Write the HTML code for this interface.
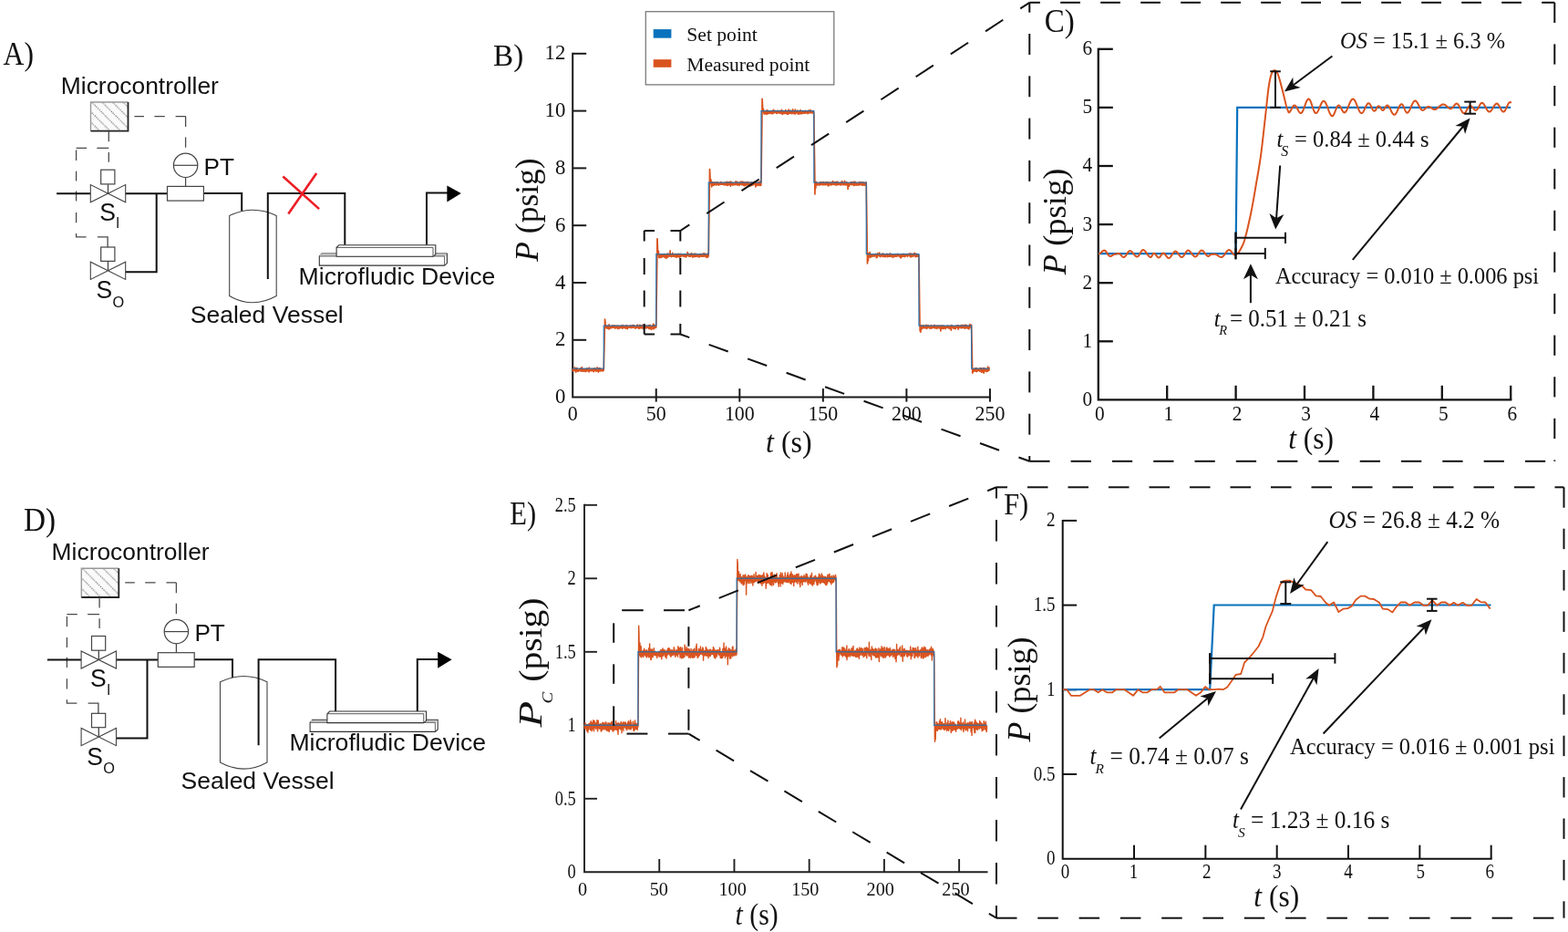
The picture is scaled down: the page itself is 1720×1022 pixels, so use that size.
<!DOCTYPE html>
<html><head><meta charset="utf-8"><title>Figure</title>
<style>html,body{margin:0;padding:0;background:#fff;}svg{display:block;}</style>
</head><body>
<svg width="1720" height="1022" viewBox="0 0 1720 1022"><defs><pattern id="hatch" patternUnits="userSpaceOnUse" width="11.45" height="11.45"><rect width="11.45" height="11.45" fill="#fafafa"/><path d="M-1,-1 L12.45,12.45 M-6.7,4.75 L6.7,18.2 M4.75,-6.7 L18.2,6.7" stroke="#555" stroke-width="1.1" stroke-dasharray="1.2,1.2"/></pattern></defs>
<rect width="1720" height="1022" fill="#fff"/>
<g transform="translate(0,0)">
<text x="66.8" y="102.5" font-family="'Liberation Sans', Arial, sans-serif" font-size="26.4" text-anchor="start" fill="#111" >Microcontroller</text>
<rect x="99.5" y="112" width="41" height="31.7" fill="url(#hatch)" stroke="none"/>
<path d="M99.5,143.7 L99.5,112 L140.5,112" fill="none" stroke="#999" stroke-width="1.4"/>
<path d="M140.5,112 L140.5,143.7 L99.5,143.7" fill="none" stroke="#222" stroke-width="1.8"/>
<path d="M147.4,127.6 H158 M169.4,127.6 H180.8 M192.6,127.6 H203.6 M203.6,127.6 V139 M203.6,150.4 V161.8 M119.3,143.7 V155.3 M119.3,167 V177.7 M83.6,162.4 H95 M106.3,162.4 H119.3 M83.6,164.6 V176 M83.6,187.8 V198.6 M83.6,209.4 V220.6 M83.6,232.9 V244.2 M83.6,255.9 V259.8 H94.6 M106.8,259.8 H118.1 V271.3" fill="none" stroke="#4a4a4a" stroke-width="1.3"/>
<line x1="62.1" y1="212.2" x2="99.3" y2="212.2" stroke="#111" stroke-width="2" />
<line x1="137.7" y1="212.2" x2="183.5" y2="212.2" stroke="#111" stroke-width="2" />
<polyline points="223.4,212 265.2,212 265.2,231.8" fill="none" stroke="#111" stroke-width="2" />
<polyline points="137.7,298.3 171.7,298.3 171.7,212.2" fill="none" stroke="#111" stroke-width="2" />
<polygon points="99.3,202.6 99.3,221.8 137.7,202.6 137.7,221.8" fill="none" stroke="#444" stroke-width="1.1" stroke-linejoin="miter"/>
<line x1="118.5" y1="212.2" x2="118.5" y2="202.2" stroke="#444" stroke-width="1.3" />
<polygon points="99.3,287.2 99.3,306.4 137.7,287.2 137.7,306.4" fill="none" stroke="#444" stroke-width="1.1" stroke-linejoin="miter"/>
<line x1="118.5" y1="296.8" x2="118.5" y2="286.8" stroke="#444" stroke-width="1.3" />
<rect x="110.7" y="186.2" width="15.2" height="15.7" fill="none" stroke="#444" stroke-width="1.2"/>
<rect x="110.7" y="271" width="15.2" height="15.4" fill="none" stroke="#444" stroke-width="1.2"/>
<circle cx="203.6" cy="181.3" r="13.2" fill="none" stroke="#444" stroke-width="1.2"/>
<line x1="190.4" y1="181.3" x2="216.8" y2="181.3" stroke="#444" stroke-width="1.2" />
<line x1="203.6" y1="194.5" x2="203.6" y2="204.4" stroke="#444" stroke-width="1.2" />
<rect x="183.5" y="204.4" width="39.9" height="15.7" fill="none" stroke="#444" stroke-width="1.2"/>
<text x="223.6" y="191.8" font-family="'Liberation Sans', Arial, sans-serif" font-size="26.2" text-anchor="start" fill="#111" >PT</text>
<text transform="translate(109.3,241.6) scale(1,1.06)" font-family="'Liberation Sans', Arial, sans-serif" font-size="26.5" text-anchor="start" fill="#111" >S</text>
<text transform="translate(127.1,250.4) scale(1,1.1)" font-family="'Liberation Sans', Arial, sans-serif" font-size="15.5" text-anchor="start" fill="#111" >I</text>
<text transform="translate(105.4,327.2) scale(1,1.06)" font-family="'Liberation Sans', Arial, sans-serif" font-size="26.5" text-anchor="start" fill="#111" >S</text>
<text x="123.4" y="337" font-family="'Liberation Sans', Arial, sans-serif" font-size="16.3" text-anchor="start" fill="#111" >O</text>
<path d="M251.7,236.5 Q277.5,224 303.2,236.5 L303.2,324.6 Q277.5,339 251.7,324.6 Z" fill="none" stroke="#444" stroke-width="1.1"/>
<polyline points="293.8,306 293.8,212 378.3,212 378.3,268.8" fill="none" stroke="#111" stroke-width="2" />
<polyline points="468,268.8 468,211.6 491,211.6" fill="none" stroke="#111" stroke-width="2" />
<polygon points="490.4,203.5 505.8,212 490.4,221.4" fill="#000"/>
<path d="M350.3,281 L353,278 L490.4,278 L490.4,288.6 L487.6,291.1 L350.3,291.1 Z" fill="#fff" stroke="#333" stroke-width="1.1"/>
<path d="M351,278.6 L489.8,278.6 L489.8,281 L351,281 Z" fill="#c8c8c8"/>
<path d="M350.3,281 L487.6,281 L487.6,291.1" fill="none" stroke="#555" stroke-width="0.9"/>
<path d="M369.1,271.5 L371.8,268.7 L477.8,268.7 L477.8,279 L475,281.3 L369.1,281.3 Z" fill="#fff" stroke="#333" stroke-width="1.1"/>
<path d="M369.1,271.4 L475,271.4 L475,281.3" fill="none" stroke="#444" stroke-width="0.9"/>
<text x="327.6" y="311.9" font-family="'Liberation Sans', Arial, sans-serif" font-size="26.6" text-anchor="start" fill="#111" >Microfludic Device</text>
<text x="208.8" y="354.2" font-family="'Liberation Sans', Arial, sans-serif" font-size="26.5" text-anchor="start" fill="#111" >Sealed Vessel</text>
<line x1="310.4" y1="193.5" x2="350.1" y2="229.1" stroke="#ec1c24" stroke-width="2.6" />
<line x1="347.2" y1="190" x2="316.3" y2="234.6" stroke="#ec1c24" stroke-width="2.6" />
</g>
<text transform="translate(3.6,71.4) scale(1,1.13)" font-family="'Liberation Serif', 'Times New Roman', serif" font-size="31.6" text-anchor="start" fill="#111" >A)</text>
<g transform="translate(-10.2,511.3)">
<text x="66.8" y="102.5" font-family="'Liberation Sans', Arial, sans-serif" font-size="26.4" text-anchor="start" fill="#111" >Microcontroller</text>
<rect x="99.5" y="112" width="41" height="31.7" fill="url(#hatch)" stroke="none"/>
<path d="M99.5,143.7 L99.5,112 L140.5,112" fill="none" stroke="#999" stroke-width="1.4"/>
<path d="M140.5,112 L140.5,143.7 L99.5,143.7" fill="none" stroke="#222" stroke-width="1.8"/>
<path d="M147.4,127.6 H158 M169.4,127.6 H180.8 M192.6,127.6 H203.6 M203.6,127.6 V139 M203.6,150.4 V161.8 M119.3,143.7 V155.3 M119.3,167 V177.7 M83.6,162.4 H95 M106.3,162.4 H119.3 M83.6,164.6 V176 M83.6,187.8 V198.6 M83.6,209.4 V220.6 M83.6,232.9 V244.2 M83.6,255.9 V259.8 H94.6 M106.8,259.8 H118.1 V271.3" fill="none" stroke="#4a4a4a" stroke-width="1.3"/>
<line x1="62.1" y1="212.2" x2="99.3" y2="212.2" stroke="#111" stroke-width="2" />
<line x1="137.7" y1="212.2" x2="183.5" y2="212.2" stroke="#111" stroke-width="2" />
<polyline points="223.4,212 265.2,212 265.2,231.8" fill="none" stroke="#111" stroke-width="2" />
<polyline points="137.7,298.3 171.7,298.3 171.7,212.2" fill="none" stroke="#111" stroke-width="2" />
<polygon points="99.3,202.6 99.3,221.8 137.7,202.6 137.7,221.8" fill="none" stroke="#444" stroke-width="1.1" stroke-linejoin="miter"/>
<line x1="118.5" y1="212.2" x2="118.5" y2="202.2" stroke="#444" stroke-width="1.3" />
<polygon points="99.3,287.2 99.3,306.4 137.7,287.2 137.7,306.4" fill="none" stroke="#444" stroke-width="1.1" stroke-linejoin="miter"/>
<line x1="118.5" y1="296.8" x2="118.5" y2="286.8" stroke="#444" stroke-width="1.3" />
<rect x="110.7" y="186.2" width="15.2" height="15.7" fill="none" stroke="#444" stroke-width="1.2"/>
<rect x="110.7" y="271" width="15.2" height="15.4" fill="none" stroke="#444" stroke-width="1.2"/>
<circle cx="203.6" cy="181.3" r="13.2" fill="none" stroke="#444" stroke-width="1.2"/>
<line x1="190.4" y1="181.3" x2="216.8" y2="181.3" stroke="#444" stroke-width="1.2" />
<line x1="203.6" y1="194.5" x2="203.6" y2="204.4" stroke="#444" stroke-width="1.2" />
<rect x="183.5" y="204.4" width="39.9" height="15.7" fill="none" stroke="#444" stroke-width="1.2"/>
<text x="223.6" y="191.8" font-family="'Liberation Sans', Arial, sans-serif" font-size="26.2" text-anchor="start" fill="#111" >PT</text>
<text transform="translate(109.3,241.6) scale(1,1.06)" font-family="'Liberation Sans', Arial, sans-serif" font-size="26.5" text-anchor="start" fill="#111" >S</text>
<text transform="translate(127.1,250.4) scale(1,1.1)" font-family="'Liberation Sans', Arial, sans-serif" font-size="15.5" text-anchor="start" fill="#111" >I</text>
<text transform="translate(105.4,327.2) scale(1,1.06)" font-family="'Liberation Sans', Arial, sans-serif" font-size="26.5" text-anchor="start" fill="#111" >S</text>
<text x="123.4" y="337" font-family="'Liberation Sans', Arial, sans-serif" font-size="16.3" text-anchor="start" fill="#111" >O</text>
<path d="M251.7,236.5 Q277.5,224 303.2,236.5 L303.2,324.6 Q277.5,339 251.7,324.6 Z" fill="none" stroke="#444" stroke-width="1.1"/>
<polyline points="293.8,306 293.8,212 378.3,212 378.3,268.8" fill="none" stroke="#111" stroke-width="2" />
<polyline points="468,268.8 468,211.6 491,211.6" fill="none" stroke="#111" stroke-width="2" />
<polygon points="490.4,203.5 505.8,212 490.4,221.4" fill="#000"/>
<path d="M350.3,281 L353,278 L490.4,278 L490.4,288.6 L487.6,291.1 L350.3,291.1 Z" fill="#fff" stroke="#333" stroke-width="1.1"/>
<path d="M351,278.6 L489.8,278.6 L489.8,281 L351,281 Z" fill="#c8c8c8"/>
<path d="M350.3,281 L487.6,281 L487.6,291.1" fill="none" stroke="#555" stroke-width="0.9"/>
<path d="M369.1,271.5 L371.8,268.7 L477.8,268.7 L477.8,279 L475,281.3 L369.1,281.3 Z" fill="#fff" stroke="#333" stroke-width="1.1"/>
<path d="M369.1,271.4 L475,271.4 L475,281.3" fill="none" stroke="#444" stroke-width="0.9"/>
<text x="327.6" y="311.9" font-family="'Liberation Sans', Arial, sans-serif" font-size="26.6" text-anchor="start" fill="#111" >Microfludic Device</text>
<text x="208.8" y="354.2" font-family="'Liberation Sans', Arial, sans-serif" font-size="26.5" text-anchor="start" fill="#111" >Sealed Vessel</text>
</g>
<text transform="translate(25.9,581.5) scale(1,1.08)" font-family="'Liberation Serif', 'Times New Roman', serif" font-size="33.3" text-anchor="start" fill="#111" >D)</text>
<path d="M628.2,58.8 L628.2,435.6 L1085.95,435.6" fill="none" stroke="#1a1a1a" stroke-width="2" stroke-linejoin="miter" stroke-linecap="square"/>
<text transform="translate(620.3,442.2) scale(1,1.04)" font-family="'Liberation Serif', 'Times New Roman', serif" font-size="22.8" text-anchor="end" fill="#111" >0</text>
<line x1="628.2" y1="372.8" x2="643.2" y2="372.8" stroke="#1a1a1a" stroke-width="2" />
<text transform="translate(620.3,379.4) scale(1,1.04)" font-family="'Liberation Serif', 'Times New Roman', serif" font-size="22.8" text-anchor="end" fill="#111" >2</text>
<line x1="628.2" y1="310" x2="643.2" y2="310" stroke="#1a1a1a" stroke-width="2" />
<text transform="translate(620.3,316.6) scale(1,1.04)" font-family="'Liberation Serif', 'Times New Roman', serif" font-size="22.8" text-anchor="end" fill="#111" >4</text>
<line x1="628.2" y1="247.2" x2="643.2" y2="247.2" stroke="#1a1a1a" stroke-width="2" />
<text transform="translate(620.3,253.8) scale(1,1.04)" font-family="'Liberation Serif', 'Times New Roman', serif" font-size="22.8" text-anchor="end" fill="#111" >6</text>
<line x1="628.2" y1="184.4" x2="643.2" y2="184.4" stroke="#1a1a1a" stroke-width="2" />
<text transform="translate(620.3,191) scale(1,1.04)" font-family="'Liberation Serif', 'Times New Roman', serif" font-size="22.8" text-anchor="end" fill="#111" >8</text>
<line x1="628.2" y1="121.6" x2="643.2" y2="121.6" stroke="#1a1a1a" stroke-width="2" />
<text transform="translate(620.3,128.2) scale(1,1.04)" font-family="'Liberation Serif', 'Times New Roman', serif" font-size="22.8" text-anchor="end" fill="#111" >10</text>
<line x1="628.2" y1="58.8" x2="643.2" y2="58.8" stroke="#1a1a1a" stroke-width="2" />
<text transform="translate(620.3,65.4) scale(1,1.04)" font-family="'Liberation Serif', 'Times New Roman', serif" font-size="22.8" text-anchor="end" fill="#111" >12</text>
<text transform="translate(628.2,461.2) scale(1,1.04)" font-family="'Liberation Serif', 'Times New Roman', serif" font-size="21.9" text-anchor="middle" fill="#111" >0</text>
<line x1="719.75" y1="440.6" x2="719.75" y2="426.1" stroke="#1a1a1a" stroke-width="2" />
<text transform="translate(719.75,461.2) scale(1,1.04)" font-family="'Liberation Serif', 'Times New Roman', serif" font-size="21.9" text-anchor="middle" fill="#111" >50</text>
<line x1="811.3" y1="440.6" x2="811.3" y2="426.1" stroke="#1a1a1a" stroke-width="2" />
<text transform="translate(811.3,461.2) scale(1,1.04)" font-family="'Liberation Serif', 'Times New Roman', serif" font-size="21.9" text-anchor="middle" fill="#111" >100</text>
<line x1="902.85" y1="440.6" x2="902.85" y2="426.1" stroke="#1a1a1a" stroke-width="2" />
<text transform="translate(902.85,461.2) scale(1,1.04)" font-family="'Liberation Serif', 'Times New Roman', serif" font-size="21.9" text-anchor="middle" fill="#111" >150</text>
<line x1="994.4" y1="440.6" x2="994.4" y2="426.1" stroke="#1a1a1a" stroke-width="2" />
<text transform="translate(994.4,461.2) scale(1,1.04)" font-family="'Liberation Serif', 'Times New Roman', serif" font-size="21.9" text-anchor="middle" fill="#111" >200</text>
<line x1="1085.95" y1="440.6" x2="1085.95" y2="426.1" stroke="#1a1a1a" stroke-width="2" />
<text transform="translate(1085.95,461.2) scale(1,1.04)" font-family="'Liberation Serif', 'Times New Roman', serif" font-size="21.9" text-anchor="middle" fill="#111" >250</text>
<polyline points="628.2,405.29 628.35,404.84 628.49,405.3 628.64,406.84 628.79,404.76 628.93,405.19 629.08,406.12 629.23,405.07 629.37,405.27 629.52,405.34 629.66,405.59 629.81,405.1 629.96,406.31 630.1,405.77 630.25,406.07 630.4,402.79 630.54,405.58 630.69,405.89 630.84,406.35 630.98,405.86 631.13,404.02 631.28,405.87 631.42,404.39 631.57,404.66 631.72,408.17 631.86,407.39 632.01,405.78 632.15,406.01 632.3,405.41 632.45,405.41 632.59,403.62 632.74,406.66 632.89,405.97 633.03,403.69 633.18,405 633.33,404.99 633.47,406.1 633.62,407.17 633.77,405.46 633.91,405.51 634.06,406.77 634.21,407.3 634.35,405.68 634.5,406.5 634.65,405.71 634.79,405.52 634.94,405.58 635.08,406.09 635.23,405.05 635.38,404.77 635.52,405.31 635.67,406.38 635.82,404.92 635.96,406.09 636.11,404.78 636.26,406.62 636.4,404.75 636.55,405.63 636.7,406.79 636.84,405.91 636.99,403.78 637.14,405.36 637.28,406.54 637.43,406.66 637.57,405.42 637.72,406.05 637.87,405.39 638.01,404.9 638.16,407.17 638.31,402.55 638.45,404.46 638.6,405.89 638.75,406.38 638.89,404.9 639.04,405.37 639.19,404.77 639.33,405.94 639.48,407.01 639.63,405.72 639.77,406.03 639.92,404.88 640.06,405.43 640.21,407.15 640.36,406.74 640.5,404.78 640.65,404.97 640.8,406.22 640.94,405.61 641.09,405.19 641.24,405.17 641.38,404.79 641.53,405.37 641.68,405.7 641.82,405.86 641.97,404.62 642.12,407.73 642.26,405.74 642.41,405.58 642.56,406.96 642.7,405.3 642.85,406.23 642.99,404.8 643.14,405.73 643.29,404.98 643.43,404.46 643.58,405.25 643.73,406.44 643.87,407.04 644.02,403.96 644.17,405.72 644.31,406.26 644.46,405.48 644.61,405.79 644.75,404.81 644.9,405.58 645.05,405.6 645.19,406.29 645.34,405.17 645.48,406.59 645.63,404.99 645.78,404.18 645.92,407.05 646.07,407.94 646.22,407.57 646.36,403.21 646.51,406.56 646.66,406.79 646.8,405.06 646.95,406.4 647.1,406.09 647.24,405.94 647.39,405.11 647.54,405.99 647.68,405.35 647.83,405.78 647.97,406.41 648.12,405.91 648.27,406.51 648.41,405.61 648.56,406.67 648.71,406.64 648.85,404.24 649,405.66 649.15,405.66 649.29,405.13 649.44,406.01 649.59,405.83 649.73,405.21 649.88,405.35 650.03,406.71 650.17,404.83 650.32,406.17 650.46,406.61 650.61,406.46 650.76,406.98 650.9,404.08 651.05,406.72 651.2,405.46 651.34,407.63 651.49,405.61 651.64,404.77 651.78,405.84 651.93,406.21 652.08,405.39 652.22,404.95 652.37,404.99 652.52,403.75 652.66,405.42 652.81,406.17 652.96,405.73 653.1,405.68 653.25,405.51 653.39,405.64 653.54,405.45 653.69,407.19 653.83,404.83 653.98,406.15 654.13,406.72 654.27,405.01 654.42,404.37 654.57,405.15 654.71,405.46 654.86,406.49 655.01,402.91 655.15,404.78 655.3,406.69 655.45,406.35 655.59,405.53 655.74,407.08 655.88,405.45 656.03,406.05 656.18,404.46 656.32,404.71 656.47,408.17 656.62,405.57 656.76,407.14 656.91,404.57 657.06,405.45 657.2,405.1 657.35,406.62 657.5,403.89 657.64,403.71 657.79,406.42 657.94,405.26 658.08,406.25 658.23,405.64 658.37,406.81 658.52,403.85 658.67,406.53 658.81,405.89 658.96,405.14 659.11,406.22 659.25,405.84 659.4,406.14 659.55,405.74 659.69,406.72 659.84,406.03 659.99,405.81 660.13,405.93 660.28,405.56 660.43,405.89 660.57,404.9 660.72,405.92 660.87,405.74 661.01,406.24 661.16,406.11 661.3,406.8 661.45,405.12 661.6,406.69 661.74,406.32 661.89,405.27 662.04,405.23 662.18,405.99 662.33,404.38 662.48,395.8 662.62,389.67 662.77,384.96 662.92,376.63 663.06,371.73 663.21,365.85 663.36,358.42 663.5,350.01 663.65,350.75 663.79,354.19 663.94,352.6 664.09,357.34 664.23,359.52 664.38,357.87 664.53,358.42 664.67,357.1 664.82,357.22 664.97,356.94 665.11,357.15 665.26,358.86 665.41,358.21 665.55,359.63 665.7,359.9 665.85,358.58 665.99,357.74 666.14,358.07 666.28,358.68 666.43,357.57 666.58,360.22 666.72,359.85 666.87,358.94 667.02,360.12 667.16,358.53 667.31,358.34 667.46,357.31 667.6,359.07 667.75,358.98 667.9,358.29 668.04,361.07 668.19,355.85 668.34,359.32 668.48,359.18 668.63,357.55 668.77,358.35 668.92,360.04 669.07,357.89 669.21,357.79 669.36,359.08 669.51,358.91 669.65,358.11 669.8,359.34 669.95,358 670.09,358.22 670.24,359.08 670.39,359.82 670.53,358.78 670.68,359.42 670.83,357.63 670.97,358.4 671.12,357.75 671.27,358.33 671.41,358.21 671.56,359.22 671.7,357.89 671.85,356.87 672,358.85 672.14,359.1 672.29,358.66 672.44,358.94 672.58,359.14 672.73,358.35 672.88,358.78 673.02,357.17 673.17,358.54 673.32,358.23 673.46,357.63 673.61,358.79 673.76,357.14 673.9,359.09 674.05,359.26 674.19,358.86 674.34,358.63 674.49,359.85 674.63,358.56 674.78,360.09 674.93,357.2 675.07,358.58 675.22,359.11 675.37,359.36 675.51,358.88 675.66,358.73 675.81,359.51 675.95,359.39 676.1,358.69 676.25,359 676.39,357.62 676.54,357.44 676.68,358.5 676.83,358.07 676.98,359.77 677.12,357.92 677.27,358.54 677.42,358.06 677.56,357 677.71,360.66 677.86,358.26 678,359.55 678.15,357.96 678.3,359.75 678.44,358.98 678.59,358.32 678.74,357.93 678.88,357.82 679.03,359.26 679.18,359.03 679.32,357.68 679.47,358.52 679.61,360.1 679.76,357.72 679.91,358.12 680.05,358.03 680.2,358.83 680.35,357.73 680.49,359.51 680.64,357.98 680.79,358.98 680.93,357.88 681.08,357.57 681.23,359.21 681.37,358.56 681.52,358.48 681.67,357.39 681.81,357.84 681.96,359.66 682.1,358.08 682.25,357.81 682.4,356.51 682.54,360.09 682.69,359.02 682.84,357.26 682.98,359.79 683.13,359.64 683.28,358.03 683.42,357.55 683.57,359.14 683.72,358 683.86,359.58 684.01,357.08 684.16,358.51 684.3,357.58 684.45,359.36 684.59,358.69 684.74,358.6 684.89,357.44 685.03,357.97 685.18,359.22 685.33,357.87 685.47,357.79 685.62,358.62 685.77,358.76 685.91,358.7 686.06,360.11 686.21,358.34 686.35,358.29 686.5,359.33 686.65,357.81 686.79,359.81 686.94,359.03 687.08,358.96 687.23,356.64 687.38,360.02 687.52,357.98 687.67,357.63 687.82,358.16 687.96,357.4 688.11,359.46 688.26,360.66 688.4,357.79 688.55,359.64 688.7,358.82 688.84,359.62 688.99,357.52 689.14,357.7 689.28,359.19 689.43,357.66 689.58,358.4 689.72,358.64 689.87,358.46 690.01,358.7 690.16,357.93 690.31,358.22 690.45,358.84 690.6,357.57 690.75,359.09 690.89,358.24 691.04,358.12 691.19,357.12 691.33,358.99 691.48,356.87 691.63,357.33 691.77,358.7 691.92,359.15 692.07,357.96 692.21,358.47 692.36,359.55 692.5,359.58 692.65,359.04 692.8,359.15 692.94,357.49 693.09,357.22 693.24,357.69 693.38,358.18 693.53,358.92 693.68,358.46 693.82,357.68 693.97,356.51 694.12,357.65 694.26,358.78 694.41,358.48 694.56,358.97 694.7,359.25 694.85,358.69 694.99,358.33 695.14,356.78 695.29,358.46 695.43,357.23 695.58,356.85 695.73,358.44 695.87,357 696.02,357.84 696.17,358.91 696.31,358.26 696.46,358.49 696.61,360.04 696.75,358.7 696.9,358.38 697.05,358.1 697.19,359.61 697.34,358.52 697.49,359.95 697.63,358.27 697.78,357.93 697.92,358.36 698.07,358.24 698.22,357.96 698.36,359.14 698.51,358.74 698.66,358.03 698.8,357.57 698.95,358.14 699.1,356.11 699.24,358.6 699.39,357.57 699.54,357.32 699.68,358.64 699.83,358.37 699.98,359.63 700.12,358.36 700.27,357.47 700.41,358.26 700.56,358.35 700.71,358.87 700.85,357.98 701,360.52 701.15,358.29 701.29,358.49 701.44,359.8 701.59,356.46 701.73,359.82 701.88,359.53 702.03,359.64 702.17,356.58 702.32,359.35 702.47,357.88 702.61,357.96 702.76,358.27 702.9,359.74 703.05,359.09 703.2,356.94 703.34,359.73 703.49,359.3 703.64,356.99 703.78,357.75 703.93,358.28 704.08,357.81 704.22,359.52 704.37,357.62 704.52,357.98 704.66,360.02 704.81,357.06 704.96,356.35 705.1,359.24 705.25,358.46 705.39,357.2 705.54,359.91 705.69,360.39 705.83,359.73 705.98,359.05 706.13,359.06 706.27,357.94 706.42,358.26 706.57,359.69 706.71,357.98 706.86,356.75 707.01,357.39 707.15,357.58 707.3,358.49 707.45,357.59 707.59,359.42 707.74,357.81 707.89,358.6 708.03,357.45 708.18,358.07 708.32,359.54 708.47,358.39 708.62,357.37 708.76,359.58 708.91,359.04 709.06,359.24 709.2,359.92 709.35,357.61 709.5,357.28 709.64,357.76 709.79,358.28 709.94,358.56 710.08,358.29 710.23,359.2 710.38,357.67 710.52,357.53 710.67,357.63 710.81,359.01 710.96,358.44 711.11,358.67 711.25,356.83 711.4,358.34 711.55,360.29 711.69,358.14 711.84,356.74 711.99,357.87 712.13,357.68 712.28,358.48 712.43,360.37 712.57,360.22 712.72,359.69 712.87,358.63 713.01,356.45 713.16,357.86 713.3,358.83 713.45,357.61 713.6,358.78 713.74,359.18 713.89,357.71 714.04,359.37 714.18,361.08 714.33,359.51 714.48,358.42 714.62,361.41 714.77,358.85 714.92,358.83 715.06,359.86 715.21,359.91 715.36,358.95 715.5,357.67 715.65,357.33 715.8,358.16 715.94,360 716.09,359.32 716.23,357.85 716.38,356.73 716.53,355.26 716.67,358.22 716.82,356.76 716.97,360.93 717.11,358.8 717.26,359.84 717.41,359 717.55,355.98 717.7,359.85 717.85,358.5 717.99,359.84 718.14,358.39 718.29,357.68 718.43,358.74 718.58,357.83 718.72,357.83 718.87,358.09 719.02,356.9 719.16,357.78 719.31,358.8 719.46,359.15 719.6,359.31 719.75,358.06 719.9,348.35 720.04,335.01 720.19,325.38 720.34,316.85 720.48,306.49 720.63,294.12 720.78,286.54 720.92,261.74 721.07,262.18 721.21,266.86 721.36,270.56 721.51,274.83 721.65,277.36 721.8,279.6 721.95,279.28 722.09,277.88 722.24,277.07 722.39,275.47 722.53,277.73 722.68,279.8 722.83,281.73 722.97,282.71 723.12,281.93 723.27,279.83 723.41,279.94 723.56,279.47 723.7,279.59 723.85,279.42 724,280.07 724.14,281.01 724.29,282.28 724.44,281.32 724.58,279.45 724.73,281.85 724.88,279.59 725.02,281.28 725.17,279.37 725.32,280.69 725.46,282.35 725.61,280.47 725.76,278.74 725.9,280.05 726.05,278.73 726.2,279.69 726.34,281.66 726.49,279.35 726.63,280.46 726.78,281.64 726.93,279.58 727.07,279.95 727.22,280.53 727.37,279.05 727.51,280.61 727.66,279.21 727.81,280.83 727.95,279.58 728.1,281.21 728.25,278.77 728.39,279.86 728.54,278.65 728.69,280.69 728.83,280.33 728.98,279.13 729.12,282.58 729.27,281.07 729.42,279.13 729.56,279.66 729.71,279.13 729.86,280.28 730,279.42 730.15,280.63 730.3,281.26 730.44,281.52 730.59,280.57 730.74,280.58 730.88,280.65 731.03,283.37 731.18,281.87 731.32,280.48 731.47,279.71 731.61,279.75 731.76,280.85 731.91,282.21 732.05,278.14 732.2,281.07 732.35,278.43 732.49,278.53 732.64,279.73 732.79,280.53 732.93,279.88 733.08,281.63 733.23,279.78 733.37,280.03 733.52,279.52 733.67,279.12 733.81,278.37 733.96,280.37 734.11,279.02 734.25,280.76 734.4,280.86 734.54,280.6 734.69,280.95 734.84,279.09 734.98,279.14 735.13,274.92 735.28,280.03 735.42,279.75 735.57,280.56 735.72,281.1 735.86,279.6 736.01,279.76 736.16,281.06 736.3,279.46 736.45,281.65 736.6,280.18 736.74,280.61 736.89,280.51 737.03,281.04 737.18,279.12 737.33,279.48 737.47,278.9 737.62,279.89 737.77,277.41 737.91,280.37 738.06,281.13 738.21,279.59 738.35,278.89 738.5,279.72 738.65,280.59 738.79,280.37 738.94,279.83 739.09,281.39 739.23,279.89 739.38,279.84 739.52,280.54 739.67,280.42 739.82,279.87 739.96,280.8 740.11,280.8 740.26,279.3 740.4,279.82 740.55,278.45 740.7,280.96 740.84,281.71 740.99,279.15 741.14,279.13 741.28,280.73 741.43,281.42 741.58,280.08 741.72,281.69 741.87,280.36 742.01,282.1 742.16,280.27 742.31,282.04 742.45,280.27 742.6,278.61 742.75,280.3 742.89,279.32 743.04,280.65 743.19,281.64 743.33,281.46 743.48,279.07 743.63,280.1 743.77,278.52 743.92,281.16 744.07,280.26 744.21,279.98 744.36,278.72 744.51,278.34 744.65,280.67 744.8,281.12 744.94,281.69 745.09,278.8 745.24,280.14 745.38,280.67 745.53,280.11 745.68,282.47 745.82,281.69 745.97,279.18 746.12,279.69 746.26,279.92 746.41,281.01 746.56,279.51 746.7,278.39 746.85,281.22 747,280.05 747.14,280.47 747.29,279.72 747.43,280.05 747.58,280.2 747.73,280.89 747.87,280.08 748.02,280.64 748.17,280.2 748.31,280.12 748.46,279.45 748.61,280.61 748.75,280.37 748.9,279.05 749.05,280.27 749.19,280.31 749.34,279.25 749.49,279.81 749.63,279.98 749.78,279.86 749.92,281.23 750.07,279.63 750.22,278.81 750.36,279.51 750.51,281.53 750.66,279.79 750.8,280.91 750.95,280.27 751.1,279.93 751.24,281.18 751.39,278.8 751.54,280.12 751.68,279.31 751.83,279.45 751.98,278.79 752.12,278.93 752.27,281.44 752.42,280.01 752.56,282.06 752.71,280.47 752.85,279.37 753,279.19 753.15,278.83 753.29,280.4 753.44,279.74 753.59,279.95 753.73,278.85 753.88,278.55 754.03,280.38 754.17,276.48 754.32,280.05 754.47,280.39 754.61,279.48 754.76,279.33 754.91,279.53 755.05,280.65 755.2,278.65 755.34,279.99 755.49,278.59 755.64,278.73 755.78,281.24 755.93,280.96 756.08,280.98 756.22,279.8 756.37,279.98 756.52,279.78 756.66,280.8 756.81,279.63 756.96,278.71 757.1,281.29 757.25,280.21 757.4,279.8 757.54,280.15 757.69,280.21 757.83,278.36 757.98,278.82 758.13,279.23 758.27,280.75 758.42,277.92 758.57,279.69 758.71,280.57 758.86,280.34 759.01,280.49 759.15,278.03 759.3,279.83 759.45,279.97 759.59,282.05 759.74,279.33 759.89,281.02 760.03,281.09 760.18,279.45 760.32,280.84 760.47,279.24 760.62,278.97 760.76,281.71 760.91,280.15 761.06,281.51 761.2,280.08 761.35,279.17 761.5,281.31 761.64,278.33 761.79,280.32 761.94,281.14 762.08,278.09 762.23,279.28 762.38,281.33 762.52,280.03 762.67,281.32 762.82,278.89 762.96,279.88 763.11,280.43 763.25,279.05 763.4,281.24 763.55,280.4 763.69,278.29 763.84,280.15 763.99,278.75 764.13,279.85 764.28,280.69 764.43,280.26 764.57,279.96 764.72,280.42 764.87,280.81 765.01,280.77 765.16,281.43 765.31,279.93 765.45,279.66 765.6,279.33 765.74,281.73 765.89,279.27 766.04,280.05 766.18,279.68 766.33,279.94 766.48,279.27 766.62,279.54 766.77,279.35 766.92,279.14 767.06,279.19 767.21,280.07 767.36,282 767.5,280.75 767.65,279.7 767.8,280.48 767.94,279.39 768.09,279.28 768.23,279.99 768.38,278.26 768.53,280.95 768.67,279.15 768.82,280.48 768.97,280.77 769.11,279.48 769.26,280.61 769.41,279.22 769.55,281.13 769.7,280 769.85,280.83 769.99,280.25 770.14,280.38 770.29,281.09 770.43,279.41 770.58,281.2 770.73,280.95 770.87,279.19 771.02,279.11 771.16,279.4 771.31,279.71 771.46,277.88 771.6,281.17 771.75,280.73 771.9,280.97 772.04,279.18 772.19,279.76 772.34,278.98 772.48,279.11 772.63,280.24 772.78,280.8 772.92,280.96 773.07,277.94 773.22,279.12 773.36,279.47 773.51,280.35 773.65,280.21 773.8,280.35 773.95,280.33 774.09,281.71 774.24,280.08 774.39,280.39 774.53,279.75 774.68,279.83 774.83,279.22 774.97,280.04 775.12,279.28 775.27,282.44 775.41,281.06 775.56,278.4 775.71,281.17 775.85,280.29 776,279.36 776.14,280.86 776.29,279.55 776.44,281.37 776.58,281.83 776.73,281.28 776.88,281.58 777.02,280.04 777.17,280.33 777.32,274.48 777.46,265.3 777.61,251.46 777.76,243.48 777.9,232.97 778.05,222.03 778.2,212.22 778.34,202.12 778.49,185.55 778.63,186.78 778.78,190.2 778.93,193.84 779.07,198.87 779.22,201.44 779.37,198.43 779.51,200.97 779.66,199.04 779.81,197.87 779.95,197.2 780.1,200.72 780.25,201.32 780.39,202.55 780.54,203.05 780.69,204.84 780.83,201.87 780.98,203.61 781.13,200.04 781.27,199.83 781.42,200.31 781.56,202.74 781.71,201.29 781.86,203.18 782,203.27 782.15,202.53 782.3,201.91 782.44,200.7 782.59,200.18 782.74,203.27 782.88,202.2 783.03,201.11 783.18,201.79 783.32,201.31 783.47,202.9 783.62,200.34 783.76,202.62 783.91,201.06 784.05,200.17 784.2,199.89 784.35,201.3 784.49,200.93 784.64,202.19 784.79,201.91 784.93,200.23 785.08,201.31 785.23,201.51 785.37,202.84 785.52,201.48 785.67,201.06 785.81,202.38 785.96,202.03 786.11,199.97 786.25,201.24 786.4,201.68 786.54,202.53 786.69,202.12 786.84,201.82 786.98,200.31 787.13,202.14 787.28,199.83 787.42,202.35 787.57,201.79 787.72,200.67 787.86,201.72 788.01,202.32 788.16,201.68 788.3,201.14 788.45,203.15 788.6,201.74 788.74,201.59 788.89,201.86 789.04,200.8 789.18,202.04 789.33,201.87 789.47,201.5 789.62,200.85 789.77,201.73 789.91,200.08 790.06,202.35 790.21,200.28 790.35,202.31 790.5,201.67 790.65,201.18 790.79,199.59 790.94,200.68 791.09,201.9 791.23,200.28 791.38,201.7 791.53,202.25 791.67,201.09 791.82,201.43 791.96,200.62 792.11,202.04 792.26,201.16 792.4,200.92 792.55,201.25 792.7,201.53 792.84,202.17 792.99,200.66 793.14,201.39 793.28,201.05 793.43,201.85 793.58,201.5 793.72,202.49 793.87,201.43 794.02,200.79 794.16,201.42 794.31,200.7 794.45,201.22 794.6,200.23 794.75,201.69 794.89,203.06 795.04,201.1 795.19,201.67 795.33,202.43 795.48,200.9 795.63,201.26 795.77,201.09 795.92,201.83 796.07,201.33 796.21,201.27 796.36,199.84 796.51,202.16 796.65,201.52 796.8,201.17 796.94,203.14 797.09,203.02 797.24,199.47 797.38,203.18 797.53,200.97 797.68,202.31 797.82,202.23 797.97,203.38 798.12,202.36 798.26,200.77 798.41,202.82 798.56,200.95 798.7,201.22 798.85,199.61 799,201.96 799.14,200.32 799.29,200.68 799.44,201.78 799.58,202.64 799.73,200.09 799.87,202.8 800.02,201.96 800.17,200.68 800.31,200.46 800.46,202.31 800.61,201.54 800.75,201.76 800.9,200.4 801.05,199.15 801.19,203.24 801.34,200.65 801.49,204.21 801.63,201.5 801.78,202.56 801.93,199.64 802.07,201.36 802.22,202.21 802.36,201.98 802.51,202.05 802.66,201.34 802.8,201.66 802.95,200.9 803.1,200.06 803.24,200.85 803.39,202.67 803.54,203.04 803.68,202.22 803.83,200.52 803.98,201.83 804.12,202.14 804.27,201.38 804.42,202.85 804.56,202.59 804.71,201.03 804.85,201.8 805,201.94 805.15,201.21 805.29,202.06 805.44,202.16 805.59,201.95 805.73,200.95 805.88,201.46 806.03,202.64 806.17,201.8 806.32,201.74 806.47,199.75 806.61,202.59 806.76,201.19 806.91,201.76 807.05,198.95 807.2,201.09 807.35,200.13 807.49,201.02 807.64,202.03 807.78,202.02 807.93,201.13 808.08,201.14 808.22,199.25 808.37,199.93 808.52,202.62 808.66,201.18 808.81,202.77 808.96,203.07 809.1,200.81 809.25,200.99 809.4,202.49 809.54,199.96 809.69,202.43 809.84,202.61 809.98,200.9 810.13,201.3 810.27,201.66 810.42,201.58 810.57,201.3 810.71,201.64 810.86,201.68 811.01,203.3 811.15,202.78 811.3,200.94 811.45,202.18 811.59,201 811.74,200.35 811.89,201.85 812.03,201.25 812.18,199.09 812.33,200.86 812.47,199.78 812.62,200.07 812.76,200.8 812.91,201.62 813.06,202.31 813.2,202.56 813.35,201.05 813.5,201.07 813.64,199.46 813.79,200.71 813.94,202.08 814.08,200.47 814.23,201.48 814.38,201.55 814.52,201.51 814.67,201.61 814.82,199.17 814.96,203.03 815.11,201.35 815.25,200.34 815.4,200.84 815.55,201.8 815.69,199.87 815.84,202.52 815.99,202.74 816.13,200.98 816.28,202.88 816.43,203.75 816.57,200.68 816.72,200.8 816.87,200.82 817.01,201.97 817.16,201.34 817.31,202.42 817.45,199.88 817.6,200.77 817.75,200.81 817.89,203.35 818.04,200.75 818.18,200.11 818.33,200.37 818.48,203.02 818.62,201.51 818.77,201.84 818.92,200.95 819.06,201.15 819.21,201.29 819.36,201.8 819.5,199.93 819.65,202.61 819.8,201.53 819.94,202.06 820.09,200.54 820.24,200.17 820.38,200.34 820.53,200.8 820.67,202.83 820.82,199.55 820.97,201.03 821.11,201.62 821.26,201.49 821.41,201.83 821.55,201.11 821.7,201.22 821.85,201.85 821.99,203.93 822.14,201.55 822.29,201.06 822.43,201.02 822.58,201.66 822.73,201.09 822.87,200.54 823.02,201.96 823.16,200.13 823.31,203.35 823.46,202.7 823.6,202.37 823.75,203.82 823.9,203.76 824.04,200.34 824.19,200.34 824.34,201.42 824.48,199.89 824.63,201.29 824.78,201.98 824.92,201.29 825.07,201.64 825.22,200.82 825.36,202.93 825.51,200.57 825.66,201.95 825.8,200.71 825.95,202.96 826.09,201.91 826.24,201.44 826.39,200.66 826.53,202.66 826.68,199.94 826.83,201.06 826.97,202.01 827.12,200.37 827.27,201.42 827.41,200.42 827.56,199.32 827.71,200.79 827.85,202.01 828,201.91 828.15,200.96 828.29,201.24 828.44,202.3 828.58,202.14 828.73,200.89 828.88,204.93 829.02,203.99 829.17,200.83 829.32,201.71 829.46,200.78 829.61,200.7 829.76,201.46 829.9,202.47 830.05,202.83 830.2,203.28 830.34,200.36 830.49,201.71 830.64,202.02 830.78,201.77 830.93,202.77 831.07,201.23 831.22,200.27 831.37,200.44 831.51,202.99 831.66,200.23 831.81,202.23 831.95,203.32 832.1,202.67 832.25,202.42 832.39,201.52 832.54,202.49 832.69,202.94 832.83,201.76 832.98,199.7 833.13,202.17 833.27,201.08 833.42,201.44 833.56,199.01 833.71,203.3 833.86,200.48 834,202.72 834.15,202.07 834.3,201.6 834.44,198.51 834.59,202.23 834.74,203.29 834.88,200.29 835.03,194.45 835.18,183.43 835.32,172.75 835.47,162.17 835.62,151.96 835.76,141.08 835.91,130.5 836.06,108.37 836.2,110.75 836.35,112.93 836.49,116.03 836.64,117.69 836.79,121.69 836.93,122.1 837.08,122.37 837.23,120.55 837.37,120.92 837.52,119.8 837.67,121.82 837.81,122.6 837.96,123.06 838.11,124.86 838.25,123.4 838.4,124.99 838.55,122.97 838.69,124.65 838.84,123.03 838.98,122.44 839.13,122.87 839.28,124.91 839.42,123.53 839.57,122.76 839.72,122.79 839.86,123.59 840.01,123.16 840.16,123.59 840.3,122.01 840.45,121.55 840.6,123.72 840.74,125 840.89,123.18 841.04,122.51 841.18,125.49 841.33,122.62 841.47,120.68 841.62,122.05 841.77,122.49 841.91,122.79 842.06,122.24 842.21,124.08 842.35,123.86 842.5,122.55 842.65,123.5 842.79,122.62 842.94,124.74 843.09,122.32 843.23,122.32 843.38,123.1 843.53,122.94 843.67,121.49 843.82,123.97 843.97,123.78 844.11,123.97 844.26,123.39 844.4,123.99 844.55,123.04 844.7,123.69 844.84,124.41 844.99,124.47 845.14,121.83 845.28,123.03 845.43,123.19 845.58,122.98 845.72,123.11 845.87,122.34 846.02,122.52 846.16,123.58 846.31,123.78 846.46,124.01 846.6,124.16 846.75,121.68 846.89,123.88 847.04,124.93 847.19,123.83 847.33,123.77 847.48,122.71 847.63,123.84 847.77,122.49 847.92,122.63 848.07,121.81 848.21,120.98 848.36,120.34 848.51,121.75 848.65,124.11 848.8,123.39 848.95,122.77 849.09,121.06 849.24,122.37 849.38,121.88 849.53,123.18 849.68,122.46 849.82,122.34 849.97,123.45 850.12,122.28 850.26,122 850.41,123.16 850.56,122.05 850.7,121.46 850.85,122.95 851,123.02 851.14,123.31 851.29,123.6 851.44,122.86 851.58,123.4 851.73,123.3 851.87,123.74 852.02,124.46 852.17,123.9 852.31,122.71 852.46,124.13 852.61,123.62 852.75,121.47 852.9,121.95 853.05,123.66 853.19,122.44 853.34,123.63 853.49,121.48 853.63,123.57 853.78,122.94 853.93,121.71 854.07,123.79 854.22,121.78 854.37,123.78 854.51,122.79 854.66,123.29 854.8,123.1 854.95,122.86 855.1,123.08 855.24,123.97 855.39,122.2 855.54,122.33 855.68,121.8 855.83,121.71 855.98,124.28 856.12,121.8 856.27,121.79 856.42,123.51 856.56,122.04 856.71,121.63 856.86,123.52 857,124.31 857.15,123.35 857.29,120.38 857.44,122.79 857.59,124.16 857.73,123.25 857.88,123.95 858.03,123.39 858.17,122.92 858.32,125.43 858.47,122.67 858.61,121.68 858.76,123.2 858.91,123.37 859.05,121.98 859.2,124.21 859.35,124.19 859.49,124.32 859.64,123.16 859.78,122.64 859.93,123.1 860.08,122.5 860.22,122.23 860.37,124.55 860.52,123.77 860.66,123.27 860.81,121.84 860.96,124 861.1,123.25 861.25,123.41 861.4,123.18 861.54,124.03 861.69,124.28 861.84,120.61 861.98,122.12 862.13,123.68 862.28,123.07 862.42,122.38 862.57,123.34 862.71,122.43 862.86,123.59 863.01,123.35 863.15,123.09 863.3,123.44 863.45,125.32 863.59,122.99 863.74,122.77 863.89,122.56 864.03,123.95 864.18,121.51 864.33,122.81 864.47,124.68 864.62,125.09 864.77,122.56 864.91,123.91 865.06,120.09 865.2,121 865.35,123.56 865.5,123.66 865.64,123.02 865.79,122.38 865.94,124.08 866.08,121.84 866.23,122.08 866.38,122.1 866.52,123.52 866.67,122.15 866.82,122.21 866.96,124.14 867.11,121.04 867.26,123.3 867.4,122.67 867.55,123.51 867.69,122.65 867.84,121.92 867.99,123.77 868.13,124.57 868.28,123.44 868.43,124.24 868.57,123.73 868.72,123.13 868.87,123.07 869.01,121.8 869.16,123.97 869.31,122.68 869.45,123.49 869.6,119.95 869.75,120.63 869.89,122.73 870.04,121.44 870.18,124.71 870.33,124.52 870.48,124.21 870.62,124.5 870.77,123.91 870.92,123.24 871.06,121.93 871.21,122.35 871.36,122.58 871.5,123.41 871.65,123.69 871.8,122.98 871.94,122.88 872.09,124.97 872.24,120.02 872.38,123.12 872.53,124.83 872.68,124.06 872.82,123.79 872.97,121.41 873.11,123.42 873.26,122.38 873.41,121.63 873.55,122.7 873.7,123.38 873.85,123.29 873.99,123.98 874.14,122.72 874.29,121.95 874.43,122.48 874.58,122.29 874.73,122.34 874.87,121.13 875.02,123.61 875.17,122.86 875.31,122.35 875.46,121.84 875.6,125.3 875.75,123.51 875.9,123.21 876.04,123.98 876.19,122.21 876.34,122.81 876.48,123.39 876.63,124.55 876.78,124.26 876.92,123.94 877.07,122.58 877.22,124.16 877.36,124.96 877.51,124.38 877.66,123.57 877.8,121.44 877.95,120.66 878.09,123.47 878.24,122.12 878.39,121.69 878.53,121.8 878.68,123.12 878.83,124.24 878.97,123.47 879.12,124.77 879.27,122.79 879.41,122.28 879.56,124.8 879.71,123.06 879.85,122.74 880,121.84 880.15,121.71 880.29,122.26 880.44,123.66 880.59,123.36 880.73,121.88 880.88,123.58 881.02,123.05 881.17,121.54 881.32,122.89 881.46,124.31 881.61,123.29 881.76,122.41 881.9,123.19 882.05,121.92 882.2,121.81 882.34,123.63 882.49,123.49 882.64,123.11 882.78,124.15 882.93,122.66 883.08,123.18 883.22,122.27 883.37,123.58 883.51,123.84 883.66,121.28 883.81,123.84 883.95,123.56 884.1,123.7 884.25,123.3 884.39,123.88 884.54,123.06 884.69,123.68 884.83,123.41 884.98,122.67 885.13,122.35 885.27,122.57 885.42,123.71 885.57,122.64 885.71,123.13 885.86,123.11 886,124.64 886.15,122.38 886.3,123.14 886.44,121.41 886.59,122.41 886.74,124.06 886.88,124.31 887.03,121.93 887.18,123.84 887.32,122.37 887.47,123.3 887.62,121.03 887.76,122.94 887.91,121.59 888.06,121.76 888.2,123.45 888.35,123.32 888.49,121.61 888.64,123.01 888.79,123.82 888.93,121.87 889.08,120.58 889.23,123.04 889.37,121.68 889.52,123.14 889.67,121.71 889.81,123.21 889.96,121.73 890.11,122.47 890.25,123.15 890.4,122.75 890.55,123.48 890.69,124.03 890.84,123.97 890.99,123.02 891.13,123.96 891.28,122.55 891.42,122.46 891.57,122.51 891.72,123.42 891.86,122.9 892.01,122.98 892.16,121.71 892.3,123.71 892.45,123.31 892.6,123.17 892.74,123.08 892.89,131.51 893.04,141.86 893.18,150.77 893.33,162.8 893.48,171.8 893.62,181.21 893.77,192.39 893.91,212.95 894.06,206.61 894.21,204.66 894.35,203.96 894.5,206.35 894.65,204.59 894.79,206.32 894.94,203.3 895.09,202.19 895.23,199.43 895.38,201.29 895.53,202.18 895.67,200.19 895.82,201.08 895.97,202.85 896.11,201.35 896.26,201.66 896.4,202.9 896.55,201.43 896.7,201.21 896.84,200.96 896.99,201.05 897.14,202.33 897.28,202.16 897.43,201.45 897.58,201.85 897.72,201.7 897.87,201.44 898.02,201.14 898.16,202.95 898.31,201.23 898.46,202.59 898.6,201.66 898.75,203.12 898.9,200.72 899.04,201.17 899.19,202.53 899.33,201.01 899.48,202.03 899.63,199.76 899.77,201.12 899.92,202.38 900.07,201.38 900.21,201.53 900.36,200.26 900.51,200.99 900.65,200.85 900.8,202.45 900.95,200.73 901.09,199.56 901.24,200.95 901.39,201.55 901.53,201.3 901.68,202.3 901.82,201.2 901.97,202.42 902.12,201.39 902.26,201.84 902.41,202.28 902.56,200.95 902.7,202.88 902.85,201.48 903,202.66 903.14,199.68 903.29,199.56 903.44,200.65 903.58,199.68 903.73,200.92 903.88,200.96 904.02,201.86 904.17,202.28 904.31,201.31 904.46,201.93 904.61,201.85 904.75,200.76 904.9,201.58 905.05,202.94 905.19,201.67 905.34,202.17 905.49,201.72 905.63,202.47 905.78,200.31 905.93,199.65 906.07,202.5 906.22,200.85 906.37,200.9 906.51,202.47 906.66,201.36 906.8,200.12 906.95,200.65 907.1,199.92 907.24,202.56 907.39,202.16 907.54,201.19 907.68,201.13 907.83,201.44 907.98,201.82 908.12,201.84 908.27,202.03 908.42,201.03 908.56,204.06 908.71,199.96 908.86,201.96 909,200.88 909.15,200.95 909.3,202.79 909.44,201.1 909.59,201.84 909.73,200.91 909.88,200.73 910.03,200.25 910.17,201.94 910.32,201.75 910.47,201.49 910.61,202.81 910.76,200.91 910.91,201.35 911.05,202.74 911.2,200.34 911.35,200.19 911.49,202.72 911.64,200.94 911.79,200.3 911.93,200.69 912.08,202.4 912.22,202.8 912.37,201.59 912.52,201.95 912.66,201.49 912.81,201.58 912.96,200.99 913.1,202.01 913.25,201.64 913.4,198.69 913.54,201.61 913.69,200.79 913.84,201.21 913.98,201.28 914.13,202.35 914.28,200.99 914.42,201.54 914.57,200.72 914.71,199.56 914.86,201.32 915.01,200.77 915.15,202.45 915.3,201.38 915.45,200.03 915.59,201.55 915.74,202.09 915.89,201.3 916.03,201.67 916.18,201.72 916.33,200.39 916.47,199.62 916.62,202.85 916.77,201.88 916.91,202.03 917.06,200.32 917.21,201.76 917.35,200.26 917.5,201.34 917.64,201.51 917.79,202.87 917.94,200.35 918.08,199 918.23,201.11 918.38,201.6 918.52,200.66 918.67,202.69 918.82,200.6 918.96,201.24 919.11,201.83 919.26,202.09 919.4,201.38 919.55,201.58 919.7,199.95 919.84,200.76 919.99,202.05 920.13,202.53 920.28,201.72 920.43,202.35 920.57,201.42 920.72,201.11 920.87,200.89 921.01,201.1 921.16,201.67 921.31,200.92 921.45,202.33 921.6,201.56 921.75,200.72 921.89,201.22 922.04,202.68 922.19,202.57 922.33,203.01 922.48,199.79 922.62,202.95 922.77,201.61 922.92,199.75 923.06,200.47 923.21,200.24 923.36,201.95 923.5,200.79 923.65,198.61 923.8,201.52 923.94,201.09 924.09,201.78 924.24,201.49 924.38,201.13 924.53,200.17 924.68,202.33 924.82,202.83 924.97,201.46 925.11,201.29 925.26,200.15 925.41,200.8 925.55,202.07 925.7,200.94 925.85,200.43 925.99,201.21 926.14,201.8 926.29,200.84 926.43,201.81 926.58,198.28 926.73,200.23 926.87,202.69 927.02,201.8 927.17,201.78 927.31,201.8 927.46,201.75 927.61,202.84 927.75,200.99 927.9,201.46 928.04,201.45 928.19,200.48 928.34,200.45 928.48,200.22 928.63,199.74 928.78,201.06 928.92,202.94 929.07,201.29 929.22,201.47 929.36,201.42 929.51,202.05 929.66,202.32 929.8,200.74 929.95,200.57 930.1,207.39 930.24,200.98 930.39,201.65 930.53,201.85 930.68,200.84 930.83,201.54 930.97,202.01 931.12,201.44 931.27,203.37 931.41,202.05 931.56,204.08 931.71,202.81 931.85,201.32 932,201.24 932.15,202.06 932.29,201.66 932.44,200.86 932.59,200.5 932.73,202.21 932.88,201.18 933.02,200.52 933.17,201.53 933.32,202.23 933.46,202.23 933.61,201.81 933.76,202.48 933.9,199.61 934.05,202.04 934.2,201.15 934.34,201.34 934.49,200.91 934.64,201.87 934.78,202.73 934.93,199.97 935.08,201.59 935.22,201.4 935.37,201.32 935.52,200.32 935.66,200.79 935.81,200.41 935.95,200.74 936.1,201.37 936.25,201.27 936.39,202.21 936.54,203.34 936.69,200.07 936.83,202.52 936.98,199.07 937.13,200.04 937.27,200.41 937.42,202.03 937.57,199.57 937.71,203.12 937.86,202.65 938.01,202.25 938.15,202.41 938.3,201.39 938.44,201.33 938.59,199.71 938.74,200.57 938.88,200.36 939.03,201.12 939.18,201.65 939.32,202.16 939.47,202.93 939.62,202.33 939.76,201.87 939.91,200.79 940.06,203.1 940.2,202.8 940.35,201.3 940.5,202.5 940.64,201.2 940.79,201.9 940.93,202.22 941.08,202.77 941.23,201.6 941.37,202.2 941.52,202.09 941.67,202.11 941.81,201.34 941.96,201.37 942.11,203.13 942.25,201.66 942.4,199.67 942.55,200.53 942.69,200.08 942.84,201.32 942.99,202.59 943.13,202.24 943.28,200.65 943.42,202.17 943.57,200.55 943.72,200.31 943.86,202.51 944.01,201.1 944.16,201.62 944.3,199.6 944.45,200.72 944.6,201.99 944.74,201.13 944.89,202.38 945.04,201.66 945.18,201.32 945.33,201.37 945.48,201.22 945.62,202.37 945.77,203.26 945.92,201.85 946.06,202.35 946.21,202.17 946.35,199.5 946.5,200.67 946.65,201.68 946.79,202.86 946.94,202.74 947.09,201.17 947.23,200.51 947.38,201.78 947.53,201.39 947.67,201.27 947.82,200.51 947.97,203.28 948.11,201.37 948.26,201.13 948.41,200.62 948.55,201.14 948.7,202.55 948.84,202.06 948.99,202.95 949.14,201.33 949.28,201.33 949.43,201.03 949.58,202.43 949.72,202.59 949.87,200.08 950.02,201.34 950.16,199.87 950.31,203.72 950.46,215.97 950.6,224.3 950.75,234.37 950.9,246.42 951.04,258.28 951.19,266.3 951.33,277.53 951.48,288.94 951.63,288.02 951.77,283.4 951.92,286.36 952.07,285.21 952.21,283.91 952.36,285.99 952.51,284.71 952.65,281.68 952.8,278.28 952.95,277.64 953.09,279.92 953.24,279.17 953.39,280.41 953.53,281.17 953.68,280.96 953.83,281.37 953.97,279.16 954.12,278.34 954.26,276.66 954.41,278.63 954.56,282.33 954.7,281.63 954.85,280.39 955,280.51 955.14,281.96 955.29,281.07 955.44,279.89 955.58,279.6 955.73,279.89 955.88,279.22 956.02,278.94 956.17,279.75 956.32,281.32 956.46,280.87 956.61,280.47 956.75,279.8 956.9,280.18 957.05,280.26 957.19,280.97 957.34,279.31 957.49,279.41 957.63,279.23 957.78,280.08 957.93,279.47 958.07,280.72 958.22,280.86 958.37,280.5 958.51,279.53 958.66,280.27 958.81,281.19 958.95,279.97 959.1,279.59 959.24,279.78 959.39,280.56 959.54,279.9 959.68,280.41 959.83,280.37 959.98,280.16 960.12,279.36 960.27,278.31 960.42,278.52 960.56,279.38 960.71,280.35 960.86,280.28 961,280.27 961.15,278.96 961.3,282.65 961.44,279.79 961.59,281.89 961.73,280 961.88,278.74 962.03,280.85 962.17,282.16 962.32,278.8 962.47,278.61 962.61,279.56 962.76,278.84 962.91,277.63 963.05,278.9 963.2,278.4 963.35,279.4 963.49,279.75 963.64,278.81 963.79,278.96 963.93,280.73 964.08,278.74 964.23,279.31 964.37,279.86 964.52,278.78 964.66,279.14 964.81,277.11 964.96,280.5 965.1,279.23 965.25,281.06 965.4,280.13 965.54,281.61 965.69,281.61 965.84,279.59 965.98,280.09 966.13,279.93 966.28,279.46 966.42,279.69 966.57,280.85 966.72,279.94 966.86,280.07 967.01,280.5 967.15,280.13 967.3,280.36 967.45,280.63 967.59,280.33 967.74,279.79 967.89,278.07 968.03,280.78 968.18,279.52 968.33,281.39 968.47,278.51 968.62,280.33 968.77,279.88 968.91,278.09 969.06,279.08 969.21,281.42 969.35,279.49 969.5,280.23 969.64,279.43 969.79,279.87 969.94,279.32 970.08,279.74 970.23,280.15 970.38,278.9 970.52,281.47 970.67,280.42 970.82,280.91 970.96,280.15 971.11,280.42 971.26,280.15 971.4,280.48 971.55,280.46 971.7,281.56 971.84,280.05 971.99,279.72 972.14,280.57 972.28,280.63 972.43,280.62 972.57,278.43 972.72,279.84 972.87,279.65 973.01,280.3 973.16,280.48 973.31,280.84 973.45,278.56 973.6,281.61 973.75,279.73 973.89,280.04 974.04,280.25 974.19,280.63 974.33,281.18 974.48,279.09 974.63,280.67 974.77,279.18 974.92,279.38 975.06,279.47 975.21,279.3 975.36,281.15 975.5,280.46 975.65,279.37 975.8,281.2 975.94,278.44 976.09,280.54 976.24,280.07 976.38,277.73 976.53,279.67 976.68,280.7 976.82,280.24 976.97,281.09 977.12,278.89 977.26,281.55 977.41,279.59 977.55,279.79 977.7,279.6 977.85,280.97 977.99,279.04 978.14,279.1 978.29,279.86 978.43,279.72 978.58,280.16 978.73,279.41 978.87,280.79 979.02,279.49 979.17,279.63 979.31,281.34 979.46,282.48 979.61,280.12 979.75,280.17 979.9,280.63 980.04,279.96 980.19,280.48 980.34,281.29 980.48,280.1 980.63,280.56 980.78,281.05 980.92,280.13 981.07,279.02 981.22,279.93 981.36,281 981.51,279.7 981.66,281.05 981.8,281.5 981.95,279.55 982.1,280.53 982.24,278.96 982.39,279.72 982.54,280.77 982.68,279.81 982.83,278.79 982.97,280.19 983.12,281.01 983.27,280.64 983.41,280.78 983.56,281.13 983.71,281.23 983.85,279.62 984,278.97 984.15,280.35 984.29,279.27 984.44,279.16 984.59,278.43 984.73,280.19 984.88,280.34 985.03,279.62 985.17,279.92 985.32,279.73 985.46,278.79 985.61,280.42 985.76,279.81 985.9,280.94 986.05,280.16 986.2,280.65 986.34,280.73 986.49,280.22 986.64,280.43 986.78,279.66 986.93,279.26 987.08,281.42 987.22,279.07 987.37,282.11 987.52,279.78 987.66,279.34 987.81,280.63 987.95,282.28 988.1,280.75 988.25,279.17 988.39,283 988.54,280.93 988.69,281.84 988.83,279.84 988.98,278.79 989.13,278.89 989.27,279.38 989.42,279.78 989.57,280.73 989.71,278.87 989.86,279.43 990.01,280.81 990.15,281.22 990.3,280.61 990.45,278.99 990.59,278.83 990.74,278.49 990.88,280.74 991.03,280.35 991.18,278.71 991.32,279.81 991.47,279.29 991.62,281.26 991.76,280.36 991.91,280.03 992.06,280.35 992.2,280.4 992.35,281.55 992.5,278.48 992.64,279.87 992.79,281.38 992.94,278.99 993.08,279.94 993.23,279.33 993.37,280.31 993.52,280.74 993.67,280.72 993.81,279.68 993.96,279.27 994.11,279.54 994.25,279.39 994.4,278.86 994.55,279.73 994.69,279.05 994.84,278.95 994.99,279.71 995.13,280.06 995.28,280.4 995.43,281.12 995.57,281.45 995.72,278.75 995.86,279.99 996.01,280.5 996.16,278.49 996.3,279.06 996.45,279.92 996.6,279.03 996.74,280.15 996.89,279.63 997.04,278.25 997.18,278.97 997.33,280.22 997.48,279.31 997.62,278.85 997.77,280.07 997.92,280.35 998.06,278.19 998.21,280.23 998.35,281.19 998.5,281.65 998.65,277.79 998.79,279.34 998.94,279.03 999.09,281.97 999.23,280.44 999.38,278.78 999.53,280.29 999.67,278.66 999.82,279.45 999.97,279.52 1000.11,278.31 1000.26,280.37 1000.41,280.33 1000.55,279.79 1000.7,279.68 1000.85,281.49 1000.99,278.73 1001.14,279.67 1001.28,280.04 1001.43,279.3 1001.58,280.26 1001.72,278.75 1001.87,279.82 1002.02,279.2 1002.16,280.72 1002.31,280.15 1002.46,277.82 1002.6,280.78 1002.75,280.51 1002.9,279.94 1003.04,278.84 1003.19,279.17 1003.34,279.04 1003.48,279.61 1003.63,277.64 1003.77,278.44 1003.92,279.73 1004.07,279.48 1004.21,279.34 1004.36,281.78 1004.51,279.99 1004.65,279.5 1004.8,279.19 1004.95,280.2 1005.09,278.98 1005.24,280.5 1005.39,280.07 1005.53,278.32 1005.68,281.18 1005.83,279.98 1005.97,280.05 1006.12,279.99 1006.26,280.41 1006.41,279.3 1006.56,280.92 1006.7,281.16 1006.85,279.47 1007,281.04 1007.14,279.57 1007.29,279.9 1007.44,279.14 1007.58,280.25 1007.73,280.02 1007.88,279.51 1008.02,285.76 1008.17,295.83 1008.32,307.45 1008.46,316.83 1008.61,328.85 1008.76,337.56 1008.9,348.41 1009.05,356.48 1009.19,363.01 1009.34,362.08 1009.49,360.19 1009.63,360.97 1009.78,362.77 1009.93,364.11 1010.07,360.28 1010.22,359.91 1010.37,360.91 1010.51,357.57 1010.66,356.99 1010.81,358.75 1010.95,357.96 1011.1,360.89 1011.25,359.71 1011.39,359.28 1011.54,358.09 1011.68,357.91 1011.83,357.74 1011.98,357.41 1012.12,359.15 1012.27,357.19 1012.42,359.21 1012.56,358.23 1012.71,358.84 1012.86,359.79 1013,357.73 1013.15,357.72 1013.3,356.92 1013.44,357.36 1013.59,359.12 1013.74,358.26 1013.88,357.79 1014.03,359.39 1014.17,359.51 1014.32,358.1 1014.47,358.79 1014.61,359.65 1014.76,358.54 1014.91,358.36 1015.05,358.54 1015.2,359.76 1015.35,359.1 1015.49,357.17 1015.64,359.12 1015.79,358.69 1015.93,356.25 1016.08,358.17 1016.23,359.03 1016.37,360.41 1016.52,358.27 1016.66,359.82 1016.81,358.49 1016.96,359.25 1017.1,360.02 1017.25,356.92 1017.4,358.61 1017.54,357.68 1017.69,357.85 1017.84,359.22 1017.98,358.42 1018.13,358.82 1018.28,357.56 1018.42,358.07 1018.57,358.83 1018.72,356.96 1018.86,358.04 1019.01,358.1 1019.16,359.26 1019.3,358.12 1019.45,359.87 1019.59,358.05 1019.74,359.38 1019.89,358.33 1020.03,358.78 1020.18,358.31 1020.33,358.19 1020.47,358.57 1020.62,358.56 1020.77,359.9 1020.91,360.29 1021.06,357.32 1021.21,357.97 1021.35,359.91 1021.5,356.72 1021.65,359.19 1021.79,358.03 1021.94,358.11 1022.08,358.4 1022.23,357.93 1022.38,359.8 1022.52,358.55 1022.67,358.76 1022.82,358.43 1022.96,358.77 1023.11,359.12 1023.26,359.2 1023.4,357.68 1023.55,359.31 1023.7,358.17 1023.84,358.18 1023.99,358.61 1024.14,358.12 1024.28,358 1024.43,359.01 1024.57,358.19 1024.72,356.72 1024.87,359.52 1025.01,358.8 1025.16,359.24 1025.31,356.64 1025.45,359.84 1025.6,358.51 1025.75,357.64 1025.89,359.33 1026.04,358.64 1026.19,359.18 1026.33,359.78 1026.48,358.58 1026.63,358.05 1026.77,358.89 1026.92,358.36 1027.07,357.87 1027.21,357.39 1027.36,359.68 1027.5,357.94 1027.65,359.1 1027.8,360.29 1027.94,359.25 1028.09,357.91 1028.24,358.22 1028.38,359.55 1028.53,357 1028.68,358.13 1028.82,358.58 1028.97,359.02 1029.12,358.12 1029.26,358.88 1029.41,357.45 1029.56,358.22 1029.7,357.93 1029.85,358.8 1029.99,359.9 1030.14,358.02 1030.29,359.46 1030.43,358.61 1030.58,358.53 1030.73,359.25 1030.87,357.68 1031.02,359.85 1031.17,357.11 1031.31,359.07 1031.46,357.61 1031.61,357.3 1031.75,359.32 1031.9,363 1032.05,357.63 1032.19,358.34 1032.34,358.44 1032.48,360.23 1032.63,360.05 1032.78,358.01 1032.92,357.17 1033.07,359.18 1033.22,359.32 1033.36,358.32 1033.51,358.08 1033.66,357.99 1033.8,358.93 1033.95,360.34 1034.1,357.15 1034.24,358.98 1034.39,357.34 1034.54,360.38 1034.68,358.17 1034.83,358.98 1034.97,359.53 1035.12,360.39 1035.27,357.3 1035.41,359.06 1035.56,357.91 1035.71,359.52 1035.85,359.09 1036,358.74 1036.15,358.84 1036.29,357.92 1036.44,359.64 1036.59,357.61 1036.73,357.61 1036.88,358.72 1037.03,359.62 1037.17,360.74 1037.32,358.57 1037.47,359.18 1037.61,358.42 1037.76,359.5 1037.9,358.51 1038.05,358.57 1038.2,358.5 1038.34,358.25 1038.49,358.24 1038.64,357.61 1038.78,359.24 1038.93,357.84 1039.08,358.36 1039.22,358.9 1039.37,359.44 1039.52,357.15 1039.66,358.29 1039.81,358.99 1039.96,358.44 1040.1,358.51 1040.25,359 1040.39,359.8 1040.54,358.37 1040.69,358.66 1040.83,358.77 1040.98,357.59 1041.13,359.73 1041.27,359.4 1041.42,358.36 1041.57,357.73 1041.71,359.76 1041.86,357.83 1042.01,360.56 1042.15,358.05 1042.3,358.12 1042.45,357.87 1042.59,359.15 1042.74,358.03 1042.88,357.57 1043.03,357.01 1043.18,358.27 1043.32,362.27 1043.47,358.46 1043.62,357.91 1043.76,358.03 1043.91,356.72 1044.06,358.69 1044.2,359.45 1044.35,359.1 1044.5,357.89 1044.64,359.25 1044.79,359.47 1044.94,359.28 1045.08,357.38 1045.23,358.28 1045.38,358.82 1045.52,357.71 1045.67,357.86 1045.81,359.41 1045.96,357.73 1046.11,358.28 1046.25,360.42 1046.4,359.61 1046.55,358.26 1046.69,358.05 1046.84,358.77 1046.99,359.43 1047.13,358.27 1047.28,360.2 1047.43,357.98 1047.57,358.64 1047.72,358.53 1047.87,359.11 1048.01,357.73 1048.16,360.67 1048.3,359.31 1048.45,357.96 1048.6,359.15 1048.74,357.14 1048.89,358.1 1049.04,359.21 1049.18,357.46 1049.33,358.58 1049.48,357.95 1049.62,359.06 1049.77,359.04 1049.92,357.82 1050.06,358.39 1050.21,359.19 1050.36,359.3 1050.5,357.87 1050.65,356.84 1050.79,359.26 1050.94,357.84 1051.09,361.18 1051.23,359.76 1051.38,357.84 1051.53,356.92 1051.67,358.41 1051.82,357.96 1051.97,358.23 1052.11,357.53 1052.26,359.48 1052.41,357.88 1052.55,358.87 1052.7,358.78 1052.85,358.47 1052.99,358.66 1053.14,359.18 1053.28,358.7 1053.43,359.35 1053.58,357.09 1053.72,357.81 1053.87,358.85 1054.02,356.99 1054.16,357.27 1054.31,358.01 1054.46,358.96 1054.6,358.22 1054.75,360.02 1054.9,357.17 1055.04,358.63 1055.19,358.99 1055.34,356.33 1055.48,357.17 1055.63,358.17 1055.78,359.32 1055.92,358.01 1056.07,357.42 1056.21,357.76 1056.36,357.7 1056.51,358.42 1056.65,357.4 1056.8,359.03 1056.95,358.87 1057.09,358.93 1057.24,359.07 1057.39,356.65 1057.53,360.04 1057.68,358.25 1057.83,359.38 1057.97,359.63 1058.12,358.37 1058.27,359.93 1058.41,358.55 1058.56,356.33 1058.7,358.57 1058.85,358.04 1059,359.26 1059.14,358.02 1059.29,359.86 1059.44,358.3 1059.58,358.6 1059.73,356.45 1059.88,358.56 1060.02,358.82 1060.17,359.01 1060.32,359.61 1060.46,357.77 1060.61,357.14 1060.76,358.84 1060.9,357.83 1061.05,358.83 1061.19,358.12 1061.34,358.07 1061.49,359.84 1061.63,359.22 1061.78,357.62 1061.93,360.28 1062.07,358.49 1062.22,358.82 1062.37,359.37 1062.51,358.45 1062.66,358.21 1062.81,358 1062.95,360.97 1063.1,356.93 1063.25,358.95 1063.39,357.52 1063.54,358.62 1063.69,359.05 1063.83,358.56 1063.98,355.53 1064.12,357.03 1064.27,358.83 1064.42,358.29 1064.56,356.17 1064.71,357.96 1064.86,358.43 1065,358.68 1065.15,359.52 1065.3,357.8 1065.44,357.47 1065.59,356.41 1065.74,363.73 1065.88,368.89 1066.03,375.81 1066.18,380.88 1066.32,388.43 1066.47,395.23 1066.61,402.49 1066.76,409.14 1066.91,407.98 1067.05,406.12 1067.2,407.43 1067.35,404.61 1067.49,407.93 1067.64,406.77 1067.79,406.53 1067.93,405.32 1068.08,405.93 1068.23,406.25 1068.37,406.24 1068.52,404.73 1068.67,405.71 1068.81,405.73 1068.96,406.89 1069.1,405.85 1069.25,405.51 1069.4,404.88 1069.54,406.7 1069.69,406.08 1069.84,403.89 1069.98,406.08 1070.13,405.92 1070.28,406.23 1070.42,407.16 1070.57,406.62 1070.72,405.13 1070.86,406.07 1071.01,403.57 1071.16,406.99 1071.3,407.52 1071.45,406.11 1071.59,406.87 1071.74,404.37 1071.89,405.99 1072.03,405.04 1072.18,406.85 1072.33,404.93 1072.47,405.02 1072.62,404.5 1072.77,405.49 1072.91,405.19 1073.06,405.48 1073.21,404.72 1073.35,405.96 1073.5,405.06 1073.65,406.13 1073.79,404.96 1073.94,405.92 1074.09,406.28 1074.23,406.29 1074.38,404.24 1074.52,407.07 1074.67,406.99 1074.82,405 1074.96,406.55 1075.11,406.07 1075.26,406.11 1075.4,403.65 1075.55,406.27 1075.7,406.3 1075.84,405.98 1075.99,405.39 1076.14,405.14 1076.28,407.01 1076.43,408.25 1076.58,403.79 1076.72,407.31 1076.87,405.08 1077.01,404.89 1077.16,405.46 1077.31,405.79 1077.45,407.83 1077.6,404.49 1077.75,405.93 1077.89,405.82 1078.04,404.47 1078.19,407.82 1078.33,405.68 1078.48,405.05 1078.63,404.94 1078.77,405.04 1078.92,403.7 1079.07,405.35 1079.21,409.22 1079.36,404.89 1079.5,407.01 1079.65,406.34 1079.8,403.65 1079.94,405.87 1080.09,405.68 1080.24,406.86 1080.38,405.94 1080.53,406.85 1080.68,406.19 1080.82,405.09 1080.97,406.4 1081.12,406.19 1081.26,404.35 1081.41,405.17 1081.56,405.13 1081.7,404.68 1081.85,406.13 1082,405.98 1082.14,407.55 1082.29,404.92 1082.43,405.81 1082.58,405.62 1082.73,406.64 1082.87,405.03 1083.02,405.02 1083.17,405.44 1083.31,407.11 1083.46,406.41 1083.61,402.16 1083.75,406.4 1083.9,405.25 1084.05,404.67 1084.19,406.33 1084.34,405.78 1084.49,406.26 1084.63,404.64 1084.78,404.77 1084.92,403.11 1085.07,405.61 1085.22,406.49" fill="none" stroke="#d9531e" stroke-width="1.7" stroke-linejoin="round"/>
<polyline points="628.2,404.2 662.26,404.2 662.26,357.1 719.75,357.1 719.75,278.6 777.24,278.6 777.24,200.1 834.92,200.1 834.92,121.6 892.78,121.6 892.78,200.1 950.27,200.1 950.27,278.6 1007.95,278.6 1007.95,357.1 1065.63,357.1 1065.63,404.2 1085.22,404.2" fill="none" stroke="#0a72bd" stroke-width="1.3" opacity="0.8"/>
<rect x="708.3" y="12.7" width="206.5" height="80.2" fill="#fff" stroke="#7a7a7a" stroke-width="1.3"/>
<rect x="716.7" y="32.1" width="19.7" height="9.6" fill="#0a72bd"/>
<rect x="716.7" y="65.2" width="19.7" height="8.6" fill="#d9531e"/>
<text x="753.3" y="44.8" font-family="'Liberation Serif', 'Times New Roman', serif" font-size="21.6" text-anchor="start" fill="#111" >Set point</text>
<text x="753.3" y="77.6" font-family="'Liberation Serif', 'Times New Roman', serif" font-size="21.6" text-anchor="start" fill="#111" >Measured point</text>
<text transform="translate(840,496.2) scale(1,1.05)" font-family="'Liberation Serif', 'Times New Roman', serif" font-size="32" text-anchor="start" fill="#111" ><tspan font-style="italic">t</tspan> (s)</text>
<text x="589.5" y="230" font-family="'Liberation Serif', 'Times New Roman', serif" font-size="35.5" text-anchor="middle" fill="#111" transform="rotate(-90 589.5 230)"><tspan font-style="italic">P</tspan> (psig)</text>
<text transform="translate(541,72) scale(1,1.03)" font-family="'Liberation Serif', 'Times New Roman', serif" font-size="33.2" text-anchor="start" fill="#111" >B)</text>
<line x1="706.7" y1="253" x2="706.7" y2="264.5" stroke="#111" stroke-width="2" />
<line x1="746.3" y1="253" x2="746.3" y2="264.5" stroke="#111" stroke-width="2" />
<line x1="706.7" y1="283" x2="706.7" y2="301" stroke="#111" stroke-width="2" />
<line x1="746.3" y1="283" x2="746.3" y2="301" stroke="#111" stroke-width="2" />
<line x1="706.7" y1="318.5" x2="706.7" y2="336.5" stroke="#111" stroke-width="2" />
<line x1="746.3" y1="318.5" x2="746.3" y2="336.5" stroke="#111" stroke-width="2" />
<line x1="706.7" y1="355" x2="706.7" y2="366.5" stroke="#111" stroke-width="2" />
<line x1="746.3" y1="355" x2="746.3" y2="366.5" stroke="#111" stroke-width="2" />
<line x1="706.7" y1="253" x2="718" y2="253" stroke="#111" stroke-width="2" />
<line x1="706.7" y1="366.5" x2="718" y2="366.5" stroke="#111" stroke-width="2" />
<line x1="735.5" y1="253" x2="746.3" y2="253" stroke="#111" stroke-width="2" />
<line x1="735.5" y1="366.5" x2="746.3" y2="366.5" stroke="#111" stroke-width="2" />
<line x1="1129.3" y1="2.8" x2="1119.25" y2="9.36" stroke="#111" stroke-width="2" />
<line x1="1100.29" y1="21.75" x2="1081.04" y2="34.33" stroke="#111" stroke-width="2" />
<line x1="1062.07" y1="46.72" x2="1042.82" y2="59.3" stroke="#111" stroke-width="2" />
<line x1="1023.86" y1="71.68" x2="1004.6" y2="84.26" stroke="#111" stroke-width="2" />
<line x1="985.64" y1="96.65" x2="966.38" y2="109.23" stroke="#111" stroke-width="2" />
<line x1="947.42" y1="121.62" x2="928.16" y2="134.19" stroke="#111" stroke-width="2" />
<line x1="909.2" y1="146.58" x2="889.95" y2="159.16" stroke="#111" stroke-width="2" />
<line x1="870.98" y1="171.55" x2="851.73" y2="184.13" stroke="#111" stroke-width="2" />
<line x1="832.77" y1="196.51" x2="813.51" y2="209.09" stroke="#111" stroke-width="2" />
<line x1="794.55" y1="221.48" x2="775.29" y2="234.06" stroke="#111" stroke-width="2" />
<line x1="756.33" y1="246.45" x2="746.3" y2="253" stroke="#111" stroke-width="2" />
<line x1="1129.3" y1="505.8" x2="1117.46" y2="501.49" stroke="#111" stroke-width="2" />
<line x1="1096.03" y1="493.7" x2="1074.98" y2="486.04" stroke="#111" stroke-width="2" />
<line x1="1053.55" y1="478.25" x2="1032.5" y2="470.59" stroke="#111" stroke-width="2" />
<line x1="1011.08" y1="462.8" x2="990.03" y2="455.14" stroke="#111" stroke-width="2" />
<line x1="968.6" y1="447.35" x2="947.55" y2="439.7" stroke="#111" stroke-width="2" />
<line x1="926.12" y1="431.9" x2="905.07" y2="424.25" stroke="#111" stroke-width="2" />
<line x1="883.64" y1="416.45" x2="862.59" y2="408.8" stroke="#111" stroke-width="2" />
<line x1="841.17" y1="401" x2="820.12" y2="393.35" stroke="#111" stroke-width="2" />
<line x1="798.69" y1="385.55" x2="777.64" y2="377.9" stroke="#111" stroke-width="2" />
<line x1="756.21" y1="370.1" x2="746.3" y2="366.5" stroke="#111" stroke-width="2" />
<line x1="1129.3" y1="2.8" x2="1141" y2="2.8" stroke="#111" stroke-width="2" />
<line x1="1163.2" y1="2.8" x2="1185" y2="2.8" stroke="#111" stroke-width="2" />
<line x1="1207.2" y1="2.8" x2="1229" y2="2.8" stroke="#111" stroke-width="2" />
<line x1="1251.2" y1="2.8" x2="1273" y2="2.8" stroke="#111" stroke-width="2" />
<line x1="1295.2" y1="2.8" x2="1317" y2="2.8" stroke="#111" stroke-width="2" />
<line x1="1339.2" y1="2.8" x2="1361" y2="2.8" stroke="#111" stroke-width="2" />
<line x1="1383.2" y1="2.8" x2="1405" y2="2.8" stroke="#111" stroke-width="2" />
<line x1="1427.2" y1="2.8" x2="1449" y2="2.8" stroke="#111" stroke-width="2" />
<line x1="1471.2" y1="2.8" x2="1493" y2="2.8" stroke="#111" stroke-width="2" />
<line x1="1515.2" y1="2.8" x2="1537" y2="2.8" stroke="#111" stroke-width="2" />
<line x1="1559.2" y1="2.8" x2="1581" y2="2.8" stroke="#111" stroke-width="2" />
<line x1="1603.2" y1="2.8" x2="1625" y2="2.8" stroke="#111" stroke-width="2" />
<line x1="1647.2" y1="2.8" x2="1669" y2="2.8" stroke="#111" stroke-width="2" />
<line x1="1691.2" y1="2.8" x2="1705.3" y2="2.8" stroke="#111" stroke-width="2" />
<line x1="1129.3" y1="505.8" x2="1151.6" y2="505.8" stroke="#111" stroke-width="2" />
<line x1="1174.6" y1="505.8" x2="1196.9" y2="505.8" stroke="#111" stroke-width="2" />
<line x1="1219.9" y1="505.8" x2="1242.2" y2="505.8" stroke="#111" stroke-width="2" />
<line x1="1265.2" y1="505.8" x2="1287.5" y2="505.8" stroke="#111" stroke-width="2" />
<line x1="1310.5" y1="505.8" x2="1332.8" y2="505.8" stroke="#111" stroke-width="2" />
<line x1="1355.8" y1="505.8" x2="1378.1" y2="505.8" stroke="#111" stroke-width="2" />
<line x1="1401.1" y1="505.8" x2="1423.4" y2="505.8" stroke="#111" stroke-width="2" />
<line x1="1446.4" y1="505.8" x2="1468.7" y2="505.8" stroke="#111" stroke-width="2" />
<line x1="1491.7" y1="505.8" x2="1514" y2="505.8" stroke="#111" stroke-width="2" />
<line x1="1537" y1="505.8" x2="1559.3" y2="505.8" stroke="#111" stroke-width="2" />
<line x1="1582.3" y1="505.8" x2="1604.6" y2="505.8" stroke="#111" stroke-width="2" />
<line x1="1627.6" y1="505.8" x2="1649.9" y2="505.8" stroke="#111" stroke-width="2" />
<line x1="1672.9" y1="505.8" x2="1695.2" y2="505.8" stroke="#111" stroke-width="2" />
<line x1="1129.3" y1="2.8" x2="1129.3" y2="13.7" stroke="#111" stroke-width="2" />
<line x1="1129.3" y1="37" x2="1129.3" y2="60" stroke="#111" stroke-width="2" />
<line x1="1129.3" y1="83.3" x2="1129.3" y2="106.3" stroke="#111" stroke-width="2" />
<line x1="1129.3" y1="129.6" x2="1129.3" y2="152.6" stroke="#111" stroke-width="2" />
<line x1="1129.3" y1="175.9" x2="1129.3" y2="198.9" stroke="#111" stroke-width="2" />
<line x1="1129.3" y1="222.2" x2="1129.3" y2="245.2" stroke="#111" stroke-width="2" />
<line x1="1129.3" y1="268.5" x2="1129.3" y2="291.5" stroke="#111" stroke-width="2" />
<line x1="1129.3" y1="314.8" x2="1129.3" y2="337.8" stroke="#111" stroke-width="2" />
<line x1="1129.3" y1="361.1" x2="1129.3" y2="384.1" stroke="#111" stroke-width="2" />
<line x1="1129.3" y1="407.4" x2="1129.3" y2="430.4" stroke="#111" stroke-width="2" />
<line x1="1129.3" y1="453.7" x2="1129.3" y2="476.7" stroke="#111" stroke-width="2" />
<line x1="1129.3" y1="500" x2="1129.3" y2="505.8" stroke="#111" stroke-width="2" />
<line x1="1705.3" y1="2.8" x2="1705.3" y2="25" stroke="#111" stroke-width="2" />
<line x1="1705.3" y1="48.4" x2="1705.3" y2="70.6" stroke="#111" stroke-width="2" />
<line x1="1705.3" y1="94" x2="1705.3" y2="116.2" stroke="#111" stroke-width="2" />
<line x1="1705.3" y1="139.6" x2="1705.3" y2="161.8" stroke="#111" stroke-width="2" />
<line x1="1705.3" y1="185.2" x2="1705.3" y2="207.4" stroke="#111" stroke-width="2" />
<line x1="1705.3" y1="230.8" x2="1705.3" y2="253" stroke="#111" stroke-width="2" />
<line x1="1705.3" y1="276.4" x2="1705.3" y2="298.6" stroke="#111" stroke-width="2" />
<line x1="1705.3" y1="322" x2="1705.3" y2="344.2" stroke="#111" stroke-width="2" />
<line x1="1705.3" y1="367.6" x2="1705.3" y2="389.8" stroke="#111" stroke-width="2" />
<line x1="1705.3" y1="413.2" x2="1705.3" y2="435.4" stroke="#111" stroke-width="2" />
<line x1="1705.3" y1="458.8" x2="1705.3" y2="481" stroke="#111" stroke-width="2" />
<line x1="1705.3" y1="504.4" x2="1705.3" y2="505.8" stroke="#111" stroke-width="2" />
<path d="M1204.8,53.8 L1204.8,438.4 L1657.2,438.4" fill="none" stroke="#111" stroke-width="2.3" stroke-linejoin="miter" stroke-linecap="square"/>
<text transform="translate(1198.2,444.8) scale(1,1.06)" font-family="'Liberation Serif', 'Times New Roman', serif" font-size="21.3" text-anchor="end" fill="#111" >0</text>
<line x1="1204.8" y1="374.3" x2="1220.8" y2="374.3" stroke="#111" stroke-width="2.3" />
<text transform="translate(1198.2,380.7) scale(1,1.06)" font-family="'Liberation Serif', 'Times New Roman', serif" font-size="21.3" text-anchor="end" fill="#111" >1</text>
<line x1="1204.8" y1="310.2" x2="1220.8" y2="310.2" stroke="#111" stroke-width="2.3" />
<text transform="translate(1198.2,316.6) scale(1,1.06)" font-family="'Liberation Serif', 'Times New Roman', serif" font-size="21.3" text-anchor="end" fill="#111" >2</text>
<line x1="1204.8" y1="246.1" x2="1220.8" y2="246.1" stroke="#111" stroke-width="2.3" />
<text transform="translate(1198.2,252.5) scale(1,1.06)" font-family="'Liberation Serif', 'Times New Roman', serif" font-size="21.3" text-anchor="end" fill="#111" >3</text>
<line x1="1204.8" y1="182" x2="1220.8" y2="182" stroke="#111" stroke-width="2.3" />
<text transform="translate(1198.2,188.4) scale(1,1.06)" font-family="'Liberation Serif', 'Times New Roman', serif" font-size="21.3" text-anchor="end" fill="#111" >4</text>
<line x1="1204.8" y1="117.9" x2="1220.8" y2="117.9" stroke="#111" stroke-width="2.3" />
<text transform="translate(1198.2,124.3) scale(1,1.06)" font-family="'Liberation Serif', 'Times New Roman', serif" font-size="21.3" text-anchor="end" fill="#111" >5</text>
<line x1="1204.8" y1="53.8" x2="1220.8" y2="53.8" stroke="#111" stroke-width="2.3" />
<text transform="translate(1198.2,60.2) scale(1,1.06)" font-family="'Liberation Serif', 'Times New Roman', serif" font-size="21.3" text-anchor="end" fill="#111" >6</text>
<text transform="translate(1206.3,460.8) scale(1,1.06)" font-family="'Liberation Serif', 'Times New Roman', serif" font-size="21.3" text-anchor="middle" fill="#111" >0</text>
<line x1="1280.2" y1="438.4" x2="1280.2" y2="422.8" stroke="#111" stroke-width="2.3" />
<text transform="translate(1281.7,460.8) scale(1,1.06)" font-family="'Liberation Serif', 'Times New Roman', serif" font-size="21.3" text-anchor="middle" fill="#111" >1</text>
<line x1="1355.6" y1="438.4" x2="1355.6" y2="422.8" stroke="#111" stroke-width="2.3" />
<text transform="translate(1357.1,460.8) scale(1,1.06)" font-family="'Liberation Serif', 'Times New Roman', serif" font-size="21.3" text-anchor="middle" fill="#111" >2</text>
<line x1="1431" y1="438.4" x2="1431" y2="422.8" stroke="#111" stroke-width="2.3" />
<text transform="translate(1432.5,460.8) scale(1,1.06)" font-family="'Liberation Serif', 'Times New Roman', serif" font-size="21.3" text-anchor="middle" fill="#111" >3</text>
<line x1="1506.4" y1="438.4" x2="1506.4" y2="422.8" stroke="#111" stroke-width="2.3" />
<text transform="translate(1507.9,460.8) scale(1,1.06)" font-family="'Liberation Serif', 'Times New Roman', serif" font-size="21.3" text-anchor="middle" fill="#111" >4</text>
<line x1="1581.8" y1="438.4" x2="1581.8" y2="422.8" stroke="#111" stroke-width="2.3" />
<text transform="translate(1583.3,460.8) scale(1,1.06)" font-family="'Liberation Serif', 'Times New Roman', serif" font-size="21.3" text-anchor="middle" fill="#111" >5</text>
<line x1="1657.2" y1="438.4" x2="1657.2" y2="422.8" stroke="#111" stroke-width="2.3" />
<text transform="translate(1658.7,460.8) scale(1,1.06)" font-family="'Liberation Serif', 'Times New Roman', serif" font-size="21.3" text-anchor="middle" fill="#111" >6</text>
<polyline points="1204.8,278.15 1355.6,278.15 1357.2,117.9 1657.2,117.9" fill="none" stroke="#0a72bd" stroke-width="2.2" />
<polyline points="1204.9,278.5 1205.4,278.44 1205.9,278.28 1206.4,278.01 1206.9,277.66 1207.4,277.24 1207.9,276.79 1208.4,276.31 1208.9,275.86 1209.4,275.44 1209.9,275.09 1210.4,274.82 1210.9,274.66 1211.4,274.6 1211.93,274.71 1212.47,275.03 1213,275.54 1213.53,276.2 1214.07,276.97 1214.6,277.8 1215.13,278.63 1215.67,279.4 1216.2,280.06 1216.73,280.57 1217.27,280.89 1217.8,281 1218.34,280.94 1218.88,280.78 1219.42,280.53 1219.96,280.21 1220.5,279.85 1221.04,279.49 1221.58,279.17 1222.12,278.92 1222.66,278.76 1223.2,278.7 1223.7,278.67 1224.2,278.6 1224.7,278.48 1225.2,278.35 1225.7,278.22 1226.2,278.1 1226.7,278.03 1227.2,278 1227.74,278.1 1228.28,278.38 1228.82,278.82 1229.36,279.38 1229.9,280 1230.44,280.62 1230.98,281.18 1231.52,281.62 1232.06,281.9 1232.6,282 1233.13,281.9 1233.66,281.6 1234.19,281.13 1234.72,280.51 1235.25,279.77 1235.78,278.97 1236.32,278.13 1236.85,277.33 1237.38,276.59 1237.91,275.97 1238.44,275.5 1238.97,275.2 1239.5,275.1 1240.03,275.17 1240.55,275.38 1241.08,275.71 1241.61,276.16 1242.13,276.7 1242.66,277.31 1243.19,277.97 1243.71,278.63 1244.24,279.29 1244.77,279.9 1245.29,280.44 1245.82,280.89 1246.35,281.22 1246.87,281.43 1247.4,281.5 1247.9,281.39 1248.4,281.08 1248.9,280.57 1249.4,279.9 1249.9,279.11 1250.4,278.25 1250.9,277.35 1251.4,276.49 1251.9,275.7 1252.4,275.03 1252.9,274.52 1253.4,274.21 1253.9,274.1 1254.43,274.18 1254.95,274.4 1255.48,274.77 1256,275.26 1256.53,275.86 1257.05,276.54 1257.58,277.28 1258.1,278.05 1258.62,278.82 1259.15,279.56 1259.67,280.24 1260.2,280.84 1260.72,281.33 1261.25,281.7 1261.77,281.92 1262.3,282 1262.87,281.71 1263.43,280.93 1264,279.85 1264.57,278.77 1265.13,277.99 1265.7,277.7 1266.24,277.82 1266.78,278.16 1267.32,278.69 1267.86,279.36 1268.4,280.1 1268.94,280.84 1269.48,281.51 1270.02,282.04 1270.56,282.38 1271.1,282.5 1271.6,282.38 1272.1,282.02 1272.6,281.47 1273.1,280.77 1273.6,280 1274.1,279.23 1274.6,278.53 1275.1,277.98 1275.6,277.62 1276.1,277.5 1276.64,277.61 1277.17,277.94 1277.71,278.45 1278.25,279.11 1278.78,279.86 1279.32,280.64 1279.85,281.39 1280.39,282.05 1280.93,282.56 1281.46,282.89 1282,283 1282.53,282.91 1283.06,282.63 1283.59,282.19 1284.11,281.61 1284.64,280.91 1285.17,280.12 1285.7,279.3 1286.23,278.48 1286.76,277.69 1287.29,276.99 1287.81,276.41 1288.34,275.97 1288.87,275.69 1289.4,275.6 1289.93,275.69 1290.46,275.97 1290.99,276.4 1291.52,276.98 1292.05,277.67 1292.58,278.41 1293.12,279.19 1293.65,279.93 1294.18,280.62 1294.71,281.2 1295.24,281.63 1295.77,281.91 1296.3,282 1296.8,281.91 1297.3,281.63 1297.8,281.19 1298.3,280.61 1298.8,279.91 1299.3,279.12 1299.8,278.3 1300.3,277.48 1300.8,276.69 1301.3,275.99 1301.8,275.41 1302.3,274.97 1302.8,274.69 1303.3,274.6 1303.83,274.68 1304.35,274.9 1304.88,275.26 1305.41,275.74 1305.93,276.32 1306.46,276.98 1306.99,277.69 1307.51,278.41 1308.04,279.12 1308.57,279.77 1309.09,280.36 1309.62,280.84 1310.15,281.2 1310.67,281.42 1311.2,281.5 1311.73,281.4 1312.26,281.1 1312.79,280.63 1313.32,280.01 1313.85,279.27 1314.38,278.47 1314.92,277.63 1315.45,276.83 1315.98,276.09 1316.51,275.47 1317.04,275 1317.57,274.7 1318.1,274.6 1318.63,274.68 1319.16,274.92 1319.69,275.3 1320.21,275.8 1320.74,276.41 1321.27,277.09 1321.8,277.8 1322.33,278.51 1322.86,279.19 1323.39,279.8 1323.91,280.3 1324.44,280.68 1324.97,280.92 1325.5,281 1326,280.87 1326.5,280.5 1327,280 1327.5,279.5 1328,279.13 1328.5,279 1329.06,278.99 1329.61,278.94 1330.17,278.88 1330.73,278.82 1331.29,278.76 1331.84,278.71 1332.4,278.7 1332.93,278.74 1333.46,278.86 1333.99,279.06 1334.51,279.32 1335.04,279.63 1335.57,279.98 1336.1,280.35 1336.63,280.72 1337.16,281.07 1337.69,281.38 1338.21,281.64 1338.74,281.84 1339.27,281.96 1339.8,282 1340.33,281.92 1340.85,281.7 1341.38,281.33 1341.9,280.84 1342.42,280.24 1342.95,279.56 1343.47,278.82 1344,278.05 1344.53,277.28 1345.05,276.54 1345.58,275.86 1346.1,275.26 1346.62,274.77 1347.15,274.4 1347.67,274.18 1348.2,274.1 1348.73,274.19 1349.27,274.46 1349.8,274.89 1350.33,275.45 1350.87,276.1 1351.4,276.8 1351.93,277.5 1352.47,278.15 1353,278.71 1353.53,279.14 1354.07,279.41 1354.6,279.5 1354.97,279.32 1355.48,279.11 1356.08,278.84 1356.73,278.5 1357.39,278.06 1358,277.5 1358.57,276.85 1359.13,276.12 1359.69,275.3 1360.27,274.36 1360.87,273.26 1361.5,272 1362.14,270.71 1362.79,269.43 1363.46,268.01 1364.17,266.27 1364.95,264.06 1365.8,261.2 1366.77,257.55 1367.84,253.22 1368.98,248.41 1370.13,243.33 1371.25,238.19 1372.3,233.2 1373.26,228.32 1374.19,223.37 1375.08,218.36 1375.95,213.3 1376.82,208.17 1377.7,203 1378.59,197.85 1379.49,192.75 1380.39,187.59 1381.27,182.27 1382.15,176.71 1383,170.8 1383.84,164.38 1384.67,157.48 1385.49,150.34 1386.29,143.16 1387.06,136.18 1387.8,129.6 1388.51,123.25 1389.19,116.9 1389.84,110.74 1390.48,104.96 1391.1,99.71 1391.7,95.2 1392.28,91.48 1392.83,88.42 1393.36,85.91 1393.89,83.83 1394.43,82.06 1395,80.5 1395.6,79.2 1396.22,78.26 1396.85,77.63 1397.48,77.28 1398.1,77.15 1398.7,77.2 1399.27,77.43 1399.81,77.89 1400.34,78.57 1400.88,79.48 1401.43,80.62 1402,82 1402.61,83.72 1403.25,85.79 1403.91,88.1 1404.56,90.52 1405.2,92.93 1405.8,95.2 1406.38,97.4 1406.95,99.64 1407.5,101.86 1408.03,104.03 1408.53,106.09 1409,108 1409.42,109.75 1409.8,111.38 1410.15,112.9 1410.49,114.33 1410.83,115.69 1411.2,117 1411.62,118.29 1412.07,119.56 1412.54,120.76 1412.97,121.84 1413.34,122.73 1413.6,123.4 1414.12,123.27 1414.65,122.87 1415.17,122.24 1415.7,121.43 1416.22,120.47 1416.75,119.45 1417.28,118.43 1417.8,117.48 1418.33,116.66 1418.85,116.03 1419.38,115.63 1419.9,115.5 1420.4,115.61 1420.9,115.93 1421.4,116.44 1421.9,117.12 1422.4,117.93 1422.9,118.84 1423.4,119.8 1423.9,120.76 1424.4,121.67 1424.9,122.48 1425.4,123.16 1425.9,123.67 1426.4,123.99 1426.9,124.1 1427.41,123.97 1427.91,123.57 1428.42,122.93 1428.92,122.06 1429.43,121 1429.94,119.78 1430.44,118.43 1430.95,117.02 1431.45,115.58 1431.96,114.17 1432.46,112.82 1432.97,111.6 1433.48,110.54 1433.98,109.67 1434.49,109.03 1434.99,108.63 1435.5,108.5 1436.03,108.67 1436.55,109.17 1437.08,109.99 1437.61,111.08 1438.13,112.4 1438.66,113.89 1439.19,115.48 1439.71,117.12 1440.24,118.71 1440.77,120.2 1441.29,121.52 1441.82,122.61 1442.35,123.43 1442.87,123.93 1443.4,124.1 1443.91,123.99 1444.41,123.65 1444.92,123.1 1445.42,122.36 1445.93,121.46 1446.44,120.41 1446.94,119.27 1447.45,118.06 1447.95,116.84 1448.46,115.63 1448.96,114.49 1449.47,113.44 1449.98,112.54 1450.48,111.8 1450.99,111.25 1451.49,110.91 1452,110.8 1452.52,110.93 1453.04,111.3 1453.57,111.91 1454.09,112.73 1454.61,113.75 1455.13,114.92 1455.66,116.23 1456.18,117.62 1456.7,119.05 1457.22,120.48 1457.74,121.87 1458.27,123.17 1458.79,124.35 1459.31,125.37 1459.83,126.19 1460.36,126.8 1460.88,127.17 1461.4,127.3 1461.9,127.15 1462.4,126.72 1462.9,126.01 1463.4,125.08 1463.9,123.96 1464.4,122.71 1464.9,121.4 1465.4,120.09 1465.9,118.84 1466.4,117.72 1466.9,116.79 1467.4,116.08 1467.9,115.65 1468.4,115.5 1468.93,115.63 1469.45,116.03 1469.98,116.66 1470.5,117.47 1471.03,118.43 1471.55,119.45 1472.08,120.47 1472.6,121.42 1473.12,122.24 1473.65,122.87 1474.17,123.27 1474.7,123.4 1475.22,123.29 1475.74,122.95 1476.27,122.4 1476.79,121.66 1477.31,120.74 1477.83,119.68 1478.36,118.5 1478.88,117.24 1479.4,115.95 1479.92,114.66 1480.44,113.4 1480.97,112.23 1481.49,111.16 1482.01,110.24 1482.53,109.5 1483.06,108.95 1483.58,108.61 1484.1,108.5 1484.62,108.62 1485.14,108.97 1485.67,109.55 1486.19,110.32 1486.71,111.29 1487.23,112.4 1487.76,113.63 1488.28,114.95 1488.8,116.3 1489.32,117.65 1489.84,118.97 1490.37,120.2 1490.89,121.31 1491.41,122.28 1491.93,123.05 1492.46,123.63 1492.98,123.98 1493.5,124.1 1494.02,123.98 1494.54,123.63 1495.06,123.06 1495.58,122.3 1496.1,121.38 1496.62,120.33 1497.14,119.22 1497.66,118.08 1498.18,116.97 1498.7,115.92 1499.22,115 1499.74,114.24 1500.26,113.67 1500.78,113.32 1501.3,113.2 1501.83,113.35 1502.35,113.78 1502.88,114.46 1503.4,115.35 1503.92,116.39 1504.45,117.5 1504.97,118.61 1505.5,119.65 1506.02,120.54 1506.55,121.22 1507.07,121.65 1507.6,121.8 1508.12,121.63 1508.64,121.16 1509.17,120.42 1509.69,119.53 1510.21,118.57 1510.73,117.67 1511.26,116.94 1511.78,116.47 1512.3,116.3 1512.82,116.44 1513.34,116.85 1513.87,117.47 1514.39,118.24 1514.91,119.06 1515.43,119.83 1515.96,120.45 1516.48,120.86 1517,121 1517.51,120.83 1518.02,120.36 1518.53,119.62 1519.04,118.73 1519.56,117.77 1520.07,116.88 1520.58,116.14 1521.09,115.67 1521.6,115.5 1522.13,115.61 1522.65,115.95 1523.18,116.48 1523.71,117.2 1524.23,118.08 1524.76,119.06 1525.29,120.11 1525.81,121.19 1526.34,122.24 1526.87,123.22 1527.39,124.1 1527.92,124.82 1528.45,125.35 1528.97,125.69 1529.5,125.8 1530,125.69 1530.5,125.36 1531,124.82 1531.5,124.1 1532,123.22 1532.5,122.22 1533,121.13 1533.5,120 1534,118.87 1534.5,117.78 1535,116.78 1535.5,115.9 1536,115.18 1536.5,114.64 1537,114.31 1537.5,114.2 1538,114.36 1538.5,114.84 1539,115.59 1539.5,116.58 1540,117.72 1540.5,118.95 1541,120.18 1541.5,121.33 1542,122.31 1542.5,123.06 1543,123.54 1543.5,123.7 1544.02,123.59 1544.54,123.25 1545.05,122.71 1545.57,121.98 1546.09,121.08 1546.61,120.04 1547.12,118.91 1547.64,117.71 1548.16,116.49 1548.68,115.29 1549.19,114.16 1549.71,113.12 1550.23,112.22 1550.75,111.49 1551.26,110.95 1551.78,110.61 1552.3,110.5 1552.81,110.6 1553.33,110.9 1553.84,111.38 1554.35,112.02 1554.86,112.81 1555.38,113.71 1555.89,114.69 1556.4,115.7 1556.91,116.71 1557.42,117.69 1557.94,118.59 1558.45,119.38 1558.96,120.02 1559.47,120.5 1559.99,120.8 1560.5,120.9 1561,120.84 1561.5,120.67 1562,120.4 1562.5,120.04 1563,119.61 1563.5,119.14 1564,118.66 1564.5,118.19 1565,117.76 1565.5,117.4 1566,117.13 1566.5,116.96 1567,116.9 1567.5,116.95 1568,117.08 1568.5,117.3 1569,117.59 1569.5,117.93 1570,118.31 1570.5,118.69 1571,119.07 1571.5,119.41 1572,119.7 1572.5,119.92 1573,120.05 1573.5,120.1 1574.02,120.06 1574.53,119.95 1575.05,119.76 1575.56,119.5 1576.08,119.18 1576.59,118.81 1577.11,118.39 1577.63,117.95 1578.14,117.49 1578.66,117.01 1579.17,116.55 1579.69,116.11 1580.21,115.69 1580.72,115.32 1581.24,115 1581.75,114.74 1582.27,114.55 1582.78,114.44 1583.3,114.4 1583.81,114.45 1584.31,114.59 1584.82,114.81 1585.33,115.12 1585.83,115.49 1586.34,115.91 1586.84,116.37 1587.35,116.85 1587.86,117.33 1588.36,117.79 1588.87,118.21 1589.38,118.58 1589.88,118.89 1590.39,119.11 1590.89,119.25 1591.4,119.3 1591.9,119.22 1592.4,118.97 1592.9,118.58 1593.4,118.07 1593.9,117.46 1594.4,116.79 1594.9,116.11 1595.4,115.44 1595.9,114.83 1596.4,114.32 1596.9,113.93 1597.4,113.68 1597.9,113.6 1598.41,113.7 1598.91,114 1599.42,114.49 1599.93,115.15 1600.43,115.96 1600.94,116.87 1601.44,117.87 1601.95,118.9 1602.46,119.93 1602.96,120.93 1603.47,121.84 1603.97,122.65 1604.48,123.31 1604.99,123.8 1605.49,124.1 1606,124.2 1606.51,124.08 1607.02,123.73 1607.52,123.17 1608.03,122.43 1608.54,121.55 1609.05,120.59 1609.55,119.61 1610.06,118.65 1610.57,117.77 1611.08,117.03 1611.58,116.47 1612.09,116.12 1612.6,116 1613.13,116.08 1613.67,116.33 1614.2,116.72 1614.73,117.22 1615.27,117.82 1615.8,118.45 1616.33,119.08 1616.87,119.67 1617.4,120.18 1617.93,120.57 1618.47,120.82 1619,120.9 1619.51,120.78 1620.02,120.44 1620.52,119.88 1621.03,119.15 1621.54,118.29 1622.05,117.34 1622.55,116.36 1623.06,115.41 1623.57,114.55 1624.08,113.82 1624.58,113.26 1625.09,112.92 1625.6,112.8 1626.11,112.89 1626.61,113.17 1627.12,113.63 1627.62,114.24 1628.13,114.98 1628.64,115.82 1629.14,116.74 1629.65,117.7 1630.16,118.66 1630.66,119.58 1631.17,120.42 1631.67,121.16 1632.18,121.77 1632.69,122.23 1633.19,122.51 1633.7,122.6 1634.21,122.51 1634.73,122.26 1635.24,121.84 1635.75,121.28 1636.26,120.6 1636.78,119.82 1637.29,118.98 1637.8,118.1 1638.31,117.22 1638.83,116.38 1639.34,115.6 1639.85,114.92 1640.36,114.36 1640.88,113.94 1641.39,113.69 1641.9,113.6 1642.42,113.71 1642.94,114.05 1643.46,114.58 1643.99,115.29 1644.51,116.15 1645.03,117.1 1645.55,118.1 1646.07,119.1 1646.59,120.05 1647.11,120.91 1647.64,121.62 1648.16,122.15 1648.68,122.49 1649.2,122.6 1649.72,122.47 1650.24,122.08 1650.76,121.44 1651.29,120.6 1651.81,119.6 1652.33,118.48 1652.85,117.3 1653.37,116.12 1653.89,115 1654.41,114 1654.94,113.16 1655.46,112.52 1655.98,112.13 1656.5,112 1657,112.12 1657.5,112.38 1658,112.5" fill="none" stroke="#d9531e" stroke-width="2" stroke-linejoin="round"/>
<line x1="1399" y1="78.3" x2="1399" y2="117.9" stroke="#111" stroke-width="2" />
<line x1="1393.2" y1="78.3" x2="1404.8" y2="78.3" stroke="#111" stroke-width="2" />
<line x1="1393.2" y1="117.9" x2="1404.8" y2="117.9" stroke="#111" stroke-width="2" />
<line x1="1612.6" y1="111.6" x2="1612.6" y2="124.7" stroke="#111" stroke-width="2" />
<line x1="1606.25" y1="111.6" x2="1618.95" y2="111.6" stroke="#111" stroke-width="2" />
<line x1="1606.25" y1="124.7" x2="1618.95" y2="124.7" stroke="#111" stroke-width="2" />
<line x1="1355.5" y1="254.7" x2="1355.5" y2="284.4" stroke="#111" stroke-width="2" />
<line x1="1355.5" y1="260.8" x2="1410" y2="260.8" stroke="#111" stroke-width="2" />
<line x1="1355.5" y1="254.65" x2="1355.5" y2="266.95" stroke="#111" stroke-width="2" />
<line x1="1410" y1="254.65" x2="1410" y2="266.95" stroke="#111" stroke-width="2" />
<line x1="1355.5" y1="278" x2="1387.8" y2="278" stroke="#111" stroke-width="2" />
<line x1="1355.5" y1="271.85" x2="1355.5" y2="284.15" stroke="#111" stroke-width="2" />
<line x1="1387.8" y1="271.85" x2="1387.8" y2="284.15" stroke="#111" stroke-width="2" />
<line x1="1461.4" y1="61.5" x2="1417.08" y2="94.51" stroke="#111" stroke-width="2" />
<polygon points="1408.9,100.6 1418.35,84.83 1418.72,93.29 1426.72,96.06" fill="#111"/>
<line x1="1404.2" y1="181.5" x2="1399.93" y2="241.33" stroke="#111" stroke-width="2" />
<polygon points="1399.2,251.5 1392.43,233.97 1400.07,239.29 1408.39,235.11" fill="#111"/>
<line x1="1371.9" y1="332.2" x2="1371.9" y2="299.4" stroke="#111" stroke-width="2" />
<polygon points="1371.9,289.2 1379.9,306.2 1371.9,301.44 1363.9,306.2" fill="#111"/>
<line x1="1483.8" y1="284.9" x2="1606.09" y2="137.26" stroke="#111" stroke-width="2" />
<polygon points="1612.6,129.4 1607.15,146.96 1604.79,138.83 1596.36,138.03" fill="#111"/>
<text transform="translate(1470.1,52.6) scale(1,1.06)" font-family="'Liberation Serif', 'Times New Roman', serif" font-size="24.4" text-anchor="start" fill="#111" ><tspan font-style="italic">OS</tspan> = 15.1 ± 6.3 %</text>
<text transform="translate(1400.5,161.2) scale(1,1.06)" font-family="'Liberation Serif', 'Times New Roman', serif" font-size="24.4" text-anchor="start" fill="#111" ><tspan font-style="italic">t</tspan></text>
<text x="1405.3" y="171.4" font-family="'Liberation Serif', 'Times New Roman', serif" font-size="16" text-anchor="start" fill="#111" font-style="italic" >S</text>
<text transform="translate(1420,161.2) scale(1,1.06)" font-family="'Liberation Serif', 'Times New Roman', serif" font-size="24.6" text-anchor="start" fill="#111" >= 0.84 ± 0.44 s</text>
<text transform="translate(1331.7,358.2) scale(1,1.06)" font-family="'Liberation Serif', 'Times New Roman', serif" font-size="24.4" text-anchor="start" fill="#111" ><tspan font-style="italic">t</tspan></text>
<text x="1337.2" y="367" font-family="'Liberation Serif', 'Times New Roman', serif" font-size="14.5" text-anchor="start" fill="#111" font-style="italic" >R</text>
<text transform="translate(1349,358.2) scale(1,1.06)" font-family="'Liberation Serif', 'Times New Roman', serif" font-size="25" text-anchor="start" fill="#111" >= 0.51 ± 0.21 s</text>
<text transform="translate(1398.9,311) scale(1,1.06)" font-family="'Liberation Serif', 'Times New Roman', serif" font-size="24.4" text-anchor="start" fill="#111" >Accuracy = 0.010 ± 0.006 psi</text>
<text transform="translate(1145.8,34.9) scale(1,1.06)" font-family="'Liberation Serif', 'Times New Roman', serif" font-size="33" text-anchor="start" fill="#111" >C)</text>
<text transform="translate(1413.2,492.3) scale(1,1.08)" font-family="'Liberation Serif', 'Times New Roman', serif" font-size="31.5" text-anchor="start" fill="#111" ><tspan font-style="italic">t</tspan> (s)</text>
<text x="1169.4" y="243" font-family="'Liberation Serif', 'Times New Roman', serif" font-size="36.5" text-anchor="middle" fill="#111" transform="rotate(-90 1169.4 243)"><tspan font-style="italic">P</tspan> (psig)</text>
<path d="M641,553.8 L641,956.3 L1082.55,956.3" fill="none" stroke="#222" stroke-width="1.9" stroke-linejoin="miter" stroke-linecap="square"/>
<text transform="translate(631.8,963.3) scale(1,1.2)" font-family="'Liberation Serif', 'Times New Roman', serif" font-size="18.4" text-anchor="end" fill="#111" >0</text>
<line x1="641" y1="875.8" x2="655" y2="875.8" stroke="#222" stroke-width="1.9" />
<text transform="translate(631.8,882.8) scale(1,1.2)" font-family="'Liberation Serif', 'Times New Roman', serif" font-size="18.4" text-anchor="end" fill="#111" >0.5</text>
<line x1="641" y1="795.3" x2="655" y2="795.3" stroke="#222" stroke-width="1.9" />
<text transform="translate(631.8,802.3) scale(1,1.2)" font-family="'Liberation Serif', 'Times New Roman', serif" font-size="18.4" text-anchor="end" fill="#111" >1</text>
<line x1="641" y1="714.8" x2="655" y2="714.8" stroke="#222" stroke-width="1.9" />
<text transform="translate(631.8,721.8) scale(1,1.2)" font-family="'Liberation Serif', 'Times New Roman', serif" font-size="18.4" text-anchor="end" fill="#111" >1.5</text>
<line x1="641" y1="634.3" x2="655" y2="634.3" stroke="#222" stroke-width="1.9" />
<text transform="translate(631.8,641.3) scale(1,1.2)" font-family="'Liberation Serif', 'Times New Roman', serif" font-size="18.4" text-anchor="end" fill="#111" >2</text>
<line x1="641" y1="553.8" x2="655" y2="553.8" stroke="#222" stroke-width="1.9" />
<text transform="translate(631.8,560.8) scale(1,1.2)" font-family="'Liberation Serif', 'Times New Roman', serif" font-size="18.4" text-anchor="end" fill="#111" >2.5</text>
<text transform="translate(639,981.5) scale(1,1.09)" font-family="'Liberation Serif', 'Times New Roman', serif" font-size="20.2" text-anchor="middle" fill="#111" >0</text>
<line x1="723.23" y1="956.3" x2="723.23" y2="942" stroke="#222" stroke-width="1.9" />
<text transform="translate(722.73,981.5) scale(1,1.09)" font-family="'Liberation Serif', 'Times New Roman', serif" font-size="20.2" text-anchor="middle" fill="#111" >50</text>
<line x1="805.45" y1="956.3" x2="805.45" y2="942" stroke="#222" stroke-width="1.9" />
<text transform="translate(803.65,981.5) scale(1,1.09)" font-family="'Liberation Serif', 'Times New Roman', serif" font-size="20.2" text-anchor="middle" fill="#111" >100</text>
<line x1="887.67" y1="956.3" x2="887.67" y2="942" stroke="#222" stroke-width="1.9" />
<text transform="translate(883.27,981.5) scale(1,1.09)" font-family="'Liberation Serif', 'Times New Roman', serif" font-size="20.2" text-anchor="middle" fill="#111" >150</text>
<line x1="969.9" y1="956.3" x2="969.9" y2="942" stroke="#222" stroke-width="1.9" />
<text transform="translate(965.7,981.5) scale(1,1.09)" font-family="'Liberation Serif', 'Times New Roman', serif" font-size="20.2" text-anchor="middle" fill="#111" >200</text>
<line x1="1052.12" y1="956.3" x2="1052.12" y2="942" stroke="#222" stroke-width="1.9" />
<text transform="translate(1048.42,981.5) scale(1,1.09)" font-family="'Liberation Serif', 'Times New Roman', serif" font-size="20.2" text-anchor="middle" fill="#111" >250</text>
<polyline points="641,796.26 641.15,795.45 641.3,797.02 641.44,798.7 641.59,797.51 641.74,798.98 641.89,796.1 642.04,792.6 642.18,797.61 642.33,797.45 642.48,794.93 642.63,795.29 642.78,795.98 642.92,798.81 643.07,796.35 643.22,794.36 643.37,799.95 643.52,797.52 643.66,801.47 643.81,799.8 643.96,801.31 644.11,796.91 644.26,799.74 644.4,795.52 644.55,795.84 644.7,796.78 644.85,803.15 645,797.74 645.14,796.4 645.29,795.96 645.44,800.45 645.59,797.57 645.74,798.94 645.88,798.48 646.03,793.36 646.18,798.48 646.33,796.36 646.48,793.85 646.62,797.86 646.77,796.57 646.92,795.96 647.07,796.09 647.22,799.62 647.36,796.06 647.51,792.55 647.66,800.5 647.81,793.91 647.96,795.94 648.1,798.02 648.25,790.79 648.4,794.18 648.55,799.67 648.7,796.06 648.84,794.69 648.99,795.93 649.14,801.84 649.29,796.45 649.44,794.44 649.58,792.33 649.73,798.12 649.88,795.71 650.03,797.53 650.18,795.92 650.32,799.52 650.47,797.85 650.62,796.8 650.77,789.65 650.92,793.13 651.06,799.89 651.21,798.44 651.36,794.5 651.51,801.72 651.66,797.53 651.8,796.53 651.95,792.83 652.1,790.55 652.25,797.16 652.4,797.27 652.54,796.95 652.69,792.1 652.84,797.44 652.99,797.1 653.14,795.3 653.28,798.02 653.43,796.81 653.58,799.32 653.73,796.3 653.88,797.48 654.02,793.07 654.17,794.48 654.32,796.33 654.47,794.33 654.62,795.83 654.76,793.39 654.91,789.8 655.06,794.67 655.21,799.8 655.36,795.32 655.5,800.89 655.65,801.84 655.8,797.1 655.95,798.73 656.1,795.82 656.24,790.12 656.39,798.54 656.54,797.97 656.69,795.7 656.84,794.92 656.98,796.75 657.13,796.83 657.28,794.34 657.43,794.84 657.58,799.1 657.72,796.48 657.87,796.17 658.02,799.15 658.17,795.55 658.32,798.61 658.46,793.61 658.61,795.74 658.76,796.02 658.91,797.88 659.06,796.59 659.2,801.73 659.35,799.36 659.5,795.27 659.65,802.09 659.8,793.95 659.94,801.05 660.09,794.19 660.24,798.58 660.39,794.13 660.54,795.91 660.68,800.47 660.83,792.85 660.98,792.32 661.13,794.54 661.28,797.02 661.42,796.7 661.57,798.93 661.72,793.26 661.87,797.75 662.02,796.41 662.16,798.44 662.31,797.98 662.46,799.76 662.61,792.83 662.76,796.69 662.9,793.62 663.05,796.23 663.2,798.17 663.35,797.16 663.5,797.8 663.64,796.24 663.79,797.29 663.94,797.09 664.09,800.04 664.24,798.47 664.38,791.74 664.53,798.1 664.68,799.15 664.83,795.34 664.98,792.41 665.12,800.25 665.27,796.84 665.42,798 665.57,801.09 665.72,794.25 665.86,796.33 666.01,795.73 666.16,798.33 666.31,795.02 666.46,797.74 666.6,796.66 666.75,799.3 666.9,801.48 667.05,792.61 667.2,797.65 667.34,795.47 667.49,796.36 667.64,797.47 667.79,797.66 667.94,794.54 668.08,797.09 668.23,802.56 668.38,796.21 668.53,793.05 668.68,794.4 668.82,795.22 668.97,797.81 669.12,800.05 669.27,793.67 669.42,793.62 669.56,796.65 669.71,794.78 669.86,794.13 670.01,796.22 670.16,793.74 670.3,797.51 670.45,792.12 670.6,799.68 670.75,793.91 670.9,794.91 671.05,793.87 671.19,791.12 671.34,792.2 671.49,799.4 671.64,800.89 671.79,794.03 671.93,798.59 672.08,796.3 672.23,793.97 672.38,800.77 672.53,802.04 672.67,795.56 672.82,796.14 672.97,796.94 673.12,796.16 673.27,798.62 673.41,800.41 673.56,796.72 673.71,798.93 673.86,800.76 674.01,794.88 674.15,796.43 674.3,795.15 674.45,798.97 674.6,798.07 674.75,799 674.89,799.54 675.04,795.25 675.19,798.41 675.34,795.29 675.49,795.34 675.63,790.72 675.78,800.08 675.93,793.84 676.08,796.51 676.23,796.3 676.37,800.23 676.52,797.53 676.67,794.23 676.82,796.49 676.97,796.04 677.11,793.89 677.26,793.11 677.41,796.32 677.56,802.29 677.71,798.16 677.85,801.65 678,805.17 678.15,797.72 678.3,792.62 678.45,796.14 678.59,799.48 678.74,798.84 678.89,793.17 679.04,795.83 679.19,796.13 679.33,796.41 679.48,796.16 679.63,794.06 679.78,794.75 679.93,795.68 680.07,799.12 680.22,794.87 680.37,798.14 680.52,793.27 680.67,799.74 680.81,796.64 680.96,796.29 681.11,799.89 681.26,791.55 681.41,792.27 681.55,797.53 681.7,794.15 681.85,795.23 682,803.42 682.15,795.58 682.29,796.43 682.44,796.04 682.59,799.21 682.74,797 682.89,796.75 683.03,793.01 683.18,795.35 683.33,796.28 683.48,792.08 683.63,797.79 683.77,797.33 683.92,801.24 684.07,791.97 684.22,793.63 684.37,793.76 684.51,794.44 684.66,795.96 684.81,795.68 684.96,796.96 685.11,796.82 685.25,796.12 685.4,792.13 685.55,794.75 685.7,796.43 685.85,797.85 685.99,798 686.14,791.88 686.29,792.95 686.44,796.08 686.59,797.21 686.73,799.3 686.88,796.45 687.03,793.87 687.18,797.34 687.33,796.89 687.47,796.87 687.62,795.97 687.77,800.63 687.92,796.91 688.07,798.6 688.21,793.84 688.36,798.38 688.51,794.69 688.66,792.09 688.81,797.12 688.95,797.91 689.1,795.74 689.25,796.27 689.4,798.99 689.55,795 689.69,790.75 689.84,796.97 689.99,796.82 690.14,799.13 690.29,795.39 690.43,799.68 690.58,799.3 690.73,792.76 690.88,798.74 691.03,793.31 691.17,792.09 691.32,795.56 691.47,794.75 691.62,789.64 691.77,793.98 691.91,797.89 692.06,799.97 692.21,796.15 692.36,792.22 692.51,793.64 692.65,798.84 692.8,798.61 692.95,796.72 693.1,795.47 693.25,796.83 693.39,795.68 693.54,795.45 693.69,797.08 693.84,796.38 693.99,795.7 694.13,796.5 694.28,794.89 694.43,791.15 694.58,794.65 694.73,796.11 694.87,800.82 695.02,795.2 695.17,801.59 695.32,800.12 695.47,793.93 695.61,794.33 695.76,796.68 695.91,800.95 696.06,797.28 696.21,798.12 696.35,794.52 696.5,790.09 696.65,795.67 696.8,798.4 696.95,797.4 697.09,796.42 697.24,796.75 697.39,799.42 697.54,795.95 697.69,799.42 697.83,793.22 697.98,793.36 698.13,793.3 698.28,797.56 698.43,794.86 698.57,796.63 698.72,797.33 698.87,797.19 699.02,799.82 699.17,800.22 699.31,794.09 699.46,796.79 699.61,795.67 699.76,793.52 699.91,796.98 700.05,776.27 700.2,762.31 700.35,736.83 700.5,720.82 700.65,686.11 700.79,690.71 700.94,694.66 701.09,706.16 701.24,707.7 701.39,711.98 701.53,718.34 701.68,707.25 701.83,707.26 701.98,705.12 702.13,712.01 702.27,715.05 702.42,719.97 702.57,710.7 702.72,716.94 702.87,710.04 703.01,719.64 703.16,708.83 703.31,718.8 703.46,717.18 703.61,714.73 703.75,720.87 703.9,713.41 704.05,714 704.2,716.92 704.35,715.62 704.49,716.51 704.64,716.55 704.79,718.5 704.94,719.08 705.09,716.82 705.23,717.9 705.38,718.21 705.53,715.07 705.68,713.24 705.83,720.54 705.97,716.61 706.12,718.13 706.27,718.44 706.42,712.9 706.57,716.49 706.71,711.23 706.86,717.96 707.01,715.16 707.16,716.93 707.31,718.13 707.45,714.06 707.6,715.8 707.75,713.45 707.9,715.69 708.05,718.85 708.19,716.38 708.34,715.96 708.49,713.28 708.64,718.13 708.79,715.6 708.93,720.22 709.08,713.9 709.23,718.84 709.38,720.94 709.53,716.12 709.67,712.79 709.82,719.83 709.97,718.56 710.12,717.66 710.27,718.84 710.41,714.83 710.56,718.13 710.71,717.85 710.86,714.17 711.01,717.74 711.15,714.46 711.3,718.35 711.45,719.09 711.6,720.87 711.75,710.77 711.89,716.7 712.04,715.08 712.19,715.78 712.34,715.25 712.49,715.59 712.63,705.91 712.78,718.67 712.93,720.09 713.08,718.56 713.23,719.07 713.37,713.67 713.52,713.48 713.67,718.38 713.82,723.2 713.97,716.78 714.11,711.99 714.26,723.49 714.41,714.31 714.56,718.68 714.71,712.89 714.85,718.71 715,716.56 715.15,719.91 715.3,718.46 715.45,711.97 715.59,713.5 715.74,716.84 715.89,718.13 716.04,720.95 716.19,716.86 716.33,715.87 716.48,716.01 716.63,716.02 716.78,718.82 716.93,715.93 717.07,715.87 717.22,712.24 717.37,710.67 717.52,716.15 717.67,717.87 717.81,715.94 717.96,717.42 718.11,717.79 718.26,715.92 718.41,718.62 718.55,714.11 718.7,716.06 718.85,715.08 719,716.26 719.15,717.75 719.29,718.36 719.44,716.41 719.59,717.27 719.74,715.13 719.89,715.78 720.03,719.49 720.18,715.58 720.33,719.44 720.48,717.45 720.63,716.57 720.77,721.45 720.92,715.52 721.07,715.35 721.22,716.2 721.37,716.93 721.51,716.79 721.66,718.44 721.81,716.5 721.96,717.28 722.11,715.52 722.25,719.06 722.4,715.12 722.55,715.37 722.7,716.15 722.85,716.97 722.99,714.25 723.14,720.32 723.29,714.51 723.44,715.1 723.59,714.99 723.73,714.72 723.88,717.55 724.03,716.48 724.18,714.02 724.33,714.59 724.47,715.2 724.62,719.91 724.77,714.29 724.92,712.56 725.07,713 725.21,715.13 725.36,720.03 725.51,713.19 725.66,716.17 725.81,722.7 725.95,714.73 726.1,719.85 726.25,719.31 726.4,717.5 726.55,712.28 726.69,716.78 726.84,715.02 726.99,710.98 727.14,711.4 727.29,716.05 727.43,716.43 727.58,719.22 727.73,717.67 727.88,714.6 728.03,714.68 728.17,715.46 728.32,713.04 728.47,717.88 728.62,715.92 728.77,713.76 728.91,714.17 729.06,712.83 729.21,714.68 729.36,716.61 729.51,714.77 729.65,718.51 729.8,720.25 729.95,714.18 730.1,715.92 730.25,714.92 730.4,720.41 730.54,716.77 730.69,717.41 730.84,718.13 730.99,721.94 731.14,716.68 731.28,713.31 731.43,714.72 731.58,717.41 731.73,715.81 731.88,713.69 732.02,718.81 732.17,716.11 732.32,714.28 732.47,713.9 732.62,711.11 732.76,712.66 732.91,714.91 733.06,714.94 733.21,713.61 733.36,717.24 733.5,715.88 733.65,713.29 733.8,710.41 733.95,716.2 734.1,715.9 734.24,715.22 734.39,712.09 734.54,715.85 734.69,711.74 734.84,718.41 734.98,716.28 735.13,716.31 735.28,713.61 735.43,712.91 735.58,719.9 735.72,718.27 735.87,714.84 736.02,717.57 736.17,719.93 736.32,712.92 736.46,714.41 736.61,714.42 736.76,717.07 736.91,712.95 737.06,716.42 737.2,712.77 737.35,718.26 737.5,718.1 737.65,715.21 737.8,717.69 737.94,713.92 738.09,715.05 738.24,718.29 738.39,715.57 738.54,716.73 738.68,713.26 738.83,717.5 738.98,716.97 739.13,712.45 739.28,709.64 739.42,710.29 739.57,715.59 739.72,715.17 739.87,711.57 740.02,716.11 740.16,718.44 740.31,715.45 740.46,714.53 740.61,718.04 740.76,720.27 740.9,719.7 741.05,713.94 741.2,717.84 741.35,716.15 741.5,715.18 741.64,713.13 741.79,716.68 741.94,714.4 742.09,718.2 742.24,716.08 742.38,718.04 742.53,712.67 742.68,715.84 742.83,717.79 742.98,716.73 743.12,716.37 743.27,713.85 743.42,720.13 743.57,718.6 743.72,716.8 743.86,708.84 744.01,713.15 744.16,716.07 744.31,713.82 744.46,710.13 744.6,716.41 744.75,716.77 744.9,712.45 745.05,714.41 745.2,713.93 745.34,717.16 745.49,710.5 745.64,711.09 745.79,714.22 745.94,713.89 746.08,721.31 746.23,714.02 746.38,716.3 746.53,714.58 746.68,709.67 746.82,716.7 746.97,720.39 747.12,714.76 747.27,717.8 747.42,716.67 747.56,717.42 747.71,716.7 747.86,722.09 748.01,712.44 748.16,715.07 748.3,712.72 748.45,710.35 748.6,715.7 748.75,720.7 748.9,718.21 749.04,719.07 749.19,717.14 749.34,715.55 749.49,721.25 749.64,714.83 749.78,719.9 749.93,714.95 750.08,716.07 750.23,716.62 750.38,715.97 750.52,717.24 750.67,717.44 750.82,720.37 750.97,715.85 751.12,707.22 751.26,709.22 751.41,712.15 751.56,713.83 751.71,717.62 751.86,711.82 752,715.92 752.15,715.95 752.3,716.56 752.45,715.51 752.6,716.96 752.74,716 752.89,718.73 753.04,716.79 753.19,709.52 753.34,715.96 753.48,716.42 753.63,714.31 753.78,713.83 753.93,718.81 754.08,716.33 754.22,713.25 754.37,715.03 754.52,715.43 754.67,711.51 754.82,717.62 754.96,715.54 755.11,717.19 755.26,711.69 755.41,721.11 755.56,717.6 755.7,717.21 755.85,713.95 756,714.11 756.15,711.95 756.3,720.07 756.44,713.71 756.59,716.57 756.74,717.59 756.89,714.29 757.04,718.28 757.18,721.45 757.33,716.78 757.48,719.87 757.63,717.54 757.78,714.75 757.92,714.91 758.07,711.42 758.22,716.31 758.37,719.96 758.52,717.84 758.66,718.28 758.81,719.1 758.96,714.57 759.11,717.53 759.26,721.18 759.4,713.86 759.55,716.07 759.7,714.79 759.85,715.48 760,714.04 760.14,715.66 760.29,712.38 760.44,714.6 760.59,720.73 760.74,714.64 760.88,721.17 761.03,716.22 761.18,716.48 761.33,715.2 761.48,719.48 761.62,711.29 761.77,715.48 761.92,719.08 762.07,720.44 762.22,716.54 762.36,716.01 762.51,717.73 762.66,715.51 762.81,717.52 762.96,714.26 763.1,717.75 763.25,715.87 763.4,713.09 763.55,708.73 763.7,718.52 763.84,716.41 763.99,718.06 764.14,706.19 764.29,718.91 764.44,717.09 764.58,715.85 764.73,718.44 764.88,718.39 765.03,717.07 765.18,721.51 765.32,719.72 765.47,716.9 765.62,715.36 765.77,716.27 765.92,720.62 766.06,717.04 766.21,711.82 766.36,714.24 766.51,715.98 766.66,718.19 766.8,714.04 766.95,717.35 767.1,718.97 767.25,717.96 767.4,711.8 767.54,715.16 767.69,712.59 767.84,717.08 767.99,713.2 768.14,717.41 768.28,716.2 768.43,708.96 768.58,713.67 768.73,717.14 768.88,716.16 769.02,714.87 769.17,712.45 769.32,717.1 769.47,715.51 769.62,716.77 769.76,715.62 769.91,715.47 770.06,712.16 770.21,714.9 770.36,713.54 770.5,717.93 770.65,713.39 770.8,710.03 770.95,713.65 771.1,715.07 771.24,715.34 771.39,710.87 771.54,724.12 771.69,716.07 771.84,714.51 771.98,713.73 772.13,716.96 772.28,714.92 772.43,716.53 772.58,715.44 772.72,716.13 772.87,718.89 773.02,715.82 773.17,713.37 773.32,714.34 773.46,716.43 773.61,713.95 773.76,718.69 773.91,715.27 774.06,718.67 774.2,712.66 774.35,709.44 774.5,710.23 774.65,716.37 774.8,713.74 774.94,715.43 775.09,715.49 775.24,711.53 775.39,719.38 775.54,712.88 775.68,715.9 775.83,711.91 775.98,715.25 776.13,717.61 776.28,715.01 776.42,713.75 776.57,715.67 776.72,714.43 776.87,717.19 777.02,721.61 777.16,713.3 777.31,713.85 777.46,715.36 777.61,715.58 777.76,712.93 777.9,717.02 778.05,717.7 778.2,716.28 778.35,712.51 778.5,719.56 778.64,712.5 778.79,717.52 778.94,718.78 779.09,712.32 779.24,716.03 779.38,719.32 779.53,716.75 779.68,713.22 779.83,712.5 779.98,716.93 780.12,714.65 780.27,713.81 780.42,717.53 780.57,714.79 780.72,715.85 780.86,717.23 781.01,717.11 781.16,715.58 781.31,715.68 781.46,717.31 781.6,716.93 781.75,712.72 781.9,715.18 782.05,713.34 782.2,712.48 782.34,714.15 782.49,709.55 782.64,718.02 782.79,713.55 782.94,716.64 783.08,710.69 783.23,711.11 783.38,721.11 783.53,718.42 783.68,713.95 783.82,713.6 783.97,713.75 784.12,715.96 784.27,714.52 784.42,713.98 784.56,715.98 784.71,712.95 784.86,721.95 785.01,714.03 785.16,718.6 785.3,713.14 785.45,716.39 785.6,718.2 785.75,714.74 785.9,718.26 786.04,718.26 786.19,720.06 786.34,715.84 786.49,714.41 786.64,712.97 786.78,716.15 786.93,712.9 787.08,715.72 787.23,716.02 787.38,714.2 787.52,712.87 787.67,716.7 787.82,714.5 787.97,716.21 788.12,715.54 788.26,718.23 788.41,712.95 788.56,716.86 788.71,714.5 788.86,718.03 789,714.78 789.15,714.69 789.3,716.92 789.45,710.23 789.6,714.75 789.75,710.9 789.89,714.06 790.04,717.58 790.19,721.19 790.34,714.57 790.49,715.6 790.63,715.63 790.78,716.55 790.93,720.72 791.08,716.38 791.23,721.84 791.37,714.75 791.52,717.75 791.67,717.72 791.82,716.37 791.97,715.02 792.11,719.69 792.26,719.47 792.41,718.68 792.56,721.35 792.71,718.41 792.85,711.41 793,718.66 793.15,713.98 793.3,719.52 793.45,714.95 793.59,716.64 793.74,715.93 793.89,714.21 794.04,705.1 794.19,715.23 794.33,715.43 794.48,718.43 794.63,714.17 794.78,716.44 794.93,713.49 795.07,715.89 795.22,711 795.37,721.19 795.52,718.94 795.67,713.35 795.81,716.73 795.96,717.93 796.11,716.49 796.26,719.54 796.41,719.49 796.55,709.09 796.7,712.63 796.85,718.8 797,716.24 797.15,716.87 797.29,713.02 797.44,718.01 797.59,717.66 797.74,713.34 797.89,713.4 798.03,722.99 798.18,718.83 798.33,728.72 798.48,717.68 798.63,721.87 798.77,713.71 798.92,717.49 799.07,714.45 799.22,710.65 799.37,712.56 799.51,718.92 799.66,713.39 799.81,712.6 799.96,717.81 800.11,718.38 800.25,716.07 800.4,720.15 800.55,711.74 800.7,722.35 800.85,718.8 800.99,718.07 801.14,716.39 801.29,715.31 801.44,717.58 801.59,716.35 801.73,712.65 801.88,721.62 802.03,715.77 802.18,717.72 802.33,715.4 802.47,715.16 802.62,718.26 802.77,717.52 802.92,713.6 803.07,714.81 803.21,717.63 803.36,710.18 803.51,709.45 803.66,719.77 803.81,714.94 803.95,708.9 804.1,713.62 804.25,715.16 804.4,716.34 804.55,717.25 804.69,716.35 804.84,718.16 804.99,713.73 805.14,716.86 805.29,716.97 805.43,719.06 805.58,715.9 805.73,718.21 805.88,716.26 806.03,712.91 806.17,714.76 806.32,714.38 806.47,716.78 806.62,715.6 806.77,716.11 806.91,716.61 807.06,713.69 807.21,718.73 807.36,712.1 807.51,715.67 807.65,717.82 807.8,717.1 807.95,717.62 808.1,713.32 808.25,697.61 808.39,674.4 808.54,661.56 808.69,647.52 808.84,613.49 808.99,618.8 809.13,616.24 809.28,620.94 809.43,627.81 809.58,636.54 809.73,635.17 809.87,626.38 810.02,628.47 810.17,629.01 810.32,627.84 810.47,626.88 810.61,632.52 810.76,636.56 810.91,635.08 811.06,633.22 811.21,634.47 811.35,635.51 811.5,633.59 811.65,638.01 811.8,636.82 811.95,636.54 812.09,629.5 812.24,636.98 812.39,634.14 812.54,636.49 812.69,633.5 812.83,632.87 812.98,637.7 813.13,638.5 813.28,640.04 813.43,637.28 813.57,632.85 813.72,634.36 813.87,637.87 814.02,636.75 814.17,635.93 814.31,634.45 814.46,636.95 814.61,637.14 814.76,639.63 814.91,635.22 815.05,630.84 815.2,641.63 815.35,636.68 815.5,634.97 815.65,636.25 815.79,637.15 815.94,635.05 816.09,630.98 816.24,635.56 816.39,640.68 816.53,635.97 816.68,637.75 816.83,632.81 816.98,634.41 817.13,633.28 817.27,632.72 817.42,636.71 817.57,629.9 817.72,632.23 817.87,632.21 818.01,631.38 818.16,635.5 818.31,635.61 818.46,632.98 818.61,652.13 818.75,634.83 818.9,636.82 819.05,636.29 819.2,639.96 819.35,637.6 819.49,635.25 819.64,632.83 819.79,632.62 819.94,635.57 820.09,635.84 820.23,637.53 820.38,634.11 820.53,635.88 820.68,633.57 820.83,630.48 820.97,635.4 821.12,639.42 821.27,637.65 821.42,639.24 821.57,638.5 821.71,631.65 821.86,634.63 822.01,639.44 822.16,633.51 822.31,631.85 822.45,636.26 822.6,637.1 822.75,636.16 822.9,634.46 823.05,633.51 823.19,632.04 823.34,631.97 823.49,632.04 823.64,631.54 823.79,633.44 823.93,639.44 824.08,635.61 824.23,634.41 824.38,636.33 824.53,632.79 824.67,636.26 824.82,637.8 824.97,631.3 825.12,633.43 825.27,638.46 825.41,632.73 825.56,632.37 825.71,634.34 825.86,642 826.01,637.11 826.15,636.51 826.3,637.95 826.45,634.72 826.6,632.01 826.75,636.6 826.89,638.38 827.04,629.72 827.19,636.5 827.34,638.64 827.49,634.61 827.63,634.1 827.78,637.2 827.93,633.11 828.08,636.6 828.23,637.79 828.37,634.78 828.52,633.15 828.67,637 828.82,634.36 828.97,635.52 829.11,627.54 829.26,637.21 829.41,631.48 829.56,635.41 829.71,635.61 829.85,633.29 830,632.82 830.15,631.8 830.3,634.37 830.45,636.91 830.59,636.74 830.74,633.87 830.89,633.67 831.04,631.44 831.19,634.12 831.33,632.37 831.48,631.12 831.63,634.82 831.78,639.33 831.93,638.49 832.07,639.2 832.22,630.91 832.37,637.59 832.52,631.9 832.67,633.66 832.81,630.57 832.96,632.52 833.11,635.55 833.26,635.81 833.41,635.03 833.55,634.79 833.7,636.72 833.85,635.36 834,630.86 834.15,639.92 834.29,634.56 834.44,637.75 834.59,635.79 834.74,632.97 834.89,635.42 835.03,633.15 835.18,639.62 835.33,631.17 835.48,636.92 835.63,633.56 835.77,634.77 835.92,642.34 836.07,637.34 836.22,634.66 836.37,631.01 836.51,634.48 836.66,634.56 836.81,639.13 836.96,631.35 837.11,630.32 837.25,635.19 837.4,635.87 837.55,639.7 837.7,632.85 837.85,627.87 837.99,633.3 838.14,631.81 838.29,633.78 838.44,637.96 838.59,631.61 838.73,638.64 838.88,635.84 839.03,634.5 839.18,632.85 839.33,634.13 839.47,634.21 839.62,637.35 839.77,638.8 839.92,635.1 840.07,637.21 840.21,645.12 840.36,638.73 840.51,636.61 840.66,640.34 840.81,638.95 840.95,639.74 841.1,628.81 841.25,634.15 841.4,629.77 841.55,639.36 841.69,635.67 841.84,635.03 841.99,635.86 842.14,636.16 842.29,630.59 842.43,636.19 842.58,638.43 842.73,638.87 842.88,634.35 843.03,634.43 843.17,639.02 843.32,637.96 843.47,633.8 843.62,633.69 843.77,637.03 843.91,633.56 844.06,633.7 844.21,640.15 844.36,635.22 844.51,634.13 844.65,636.83 844.8,641.12 844.95,637.2 845.1,633.21 845.25,633.76 845.39,641.26 845.54,628.11 845.69,638.35 845.84,632.65 845.99,631.89 846.13,632.58 846.28,634.86 846.43,638.44 846.58,633.55 846.73,637.22 846.87,642.17 847.02,627.52 847.17,633.33 847.32,630.29 847.47,637.76 847.61,631.25 847.76,630.91 847.91,631.01 848.06,635.32 848.21,638.56 848.36,635.75 848.5,641.29 848.65,639.92 848.8,635.01 848.95,637.98 849.1,635.72 849.24,635.56 849.39,629.98 849.54,631.71 849.69,635.39 849.84,631.96 849.98,637.4 850.13,636.19 850.28,632.77 850.43,638.66 850.58,636.03 850.72,638.88 850.87,634.94 851.02,630.8 851.17,637.32 851.32,634.65 851.46,637.72 851.61,638.41 851.76,636.37 851.91,631.28 852.06,628.8 852.2,635.53 852.35,637.23 852.5,633.34 852.65,636.18 852.8,633.07 852.94,634.47 853.09,634.5 853.24,633.6 853.39,636.85 853.54,636.37 853.68,639.98 853.83,636.48 853.98,639.16 854.13,635.66 854.28,643.33 854.42,634.99 854.57,634.03 854.72,639.15 854.87,637.49 855.02,637.85 855.16,633.22 855.31,630.6 855.46,635.25 855.61,636.22 855.76,631.26 855.9,639.63 856.05,631.16 856.2,637.06 856.35,642.88 856.5,628.01 856.64,630.95 856.79,638.09 856.94,634.8 857.09,635.85 857.24,634.99 857.38,639.33 857.53,637.13 857.68,633.99 857.83,634.66 857.98,631.98 858.12,635.05 858.27,628.84 858.42,637.22 858.57,634.56 858.72,640.51 858.86,638.7 859.01,631.63 859.16,637.85 859.31,633.81 859.46,635.44 859.6,638.12 859.75,636.22 859.9,636.67 860.05,636.6 860.2,633.2 860.34,633.48 860.49,636.85 860.64,637.75 860.79,634.49 860.94,635.54 861.08,632.45 861.23,628 861.38,632.96 861.53,635.36 861.68,635.74 861.82,637.61 861.97,637.75 862.12,638.01 862.27,636.35 862.42,636.44 862.56,633.23 862.71,636.36 862.86,635.81 863.01,638.6 863.16,634.87 863.3,633.88 863.45,630.37 863.6,633.08 863.75,631.19 863.9,635.95 864.04,633.3 864.19,627.86 864.34,638.61 864.49,632.05 864.64,630.62 864.78,634.11 864.93,633.17 865.08,631.76 865.23,637.1 865.38,634.12 865.52,637.7 865.67,637.16 865.82,636.99 865.97,635.67 866.12,634.86 866.26,634 866.41,639.24 866.56,629.72 866.71,632.03 866.86,633.23 867,636.27 867.15,635.52 867.3,633.73 867.45,634.11 867.6,639.98 867.74,633.19 867.89,627.09 868.04,640.45 868.19,632.48 868.34,634.23 868.48,635.58 868.63,631.41 868.78,638.59 868.93,629.49 869.08,635.29 869.22,635.82 869.37,636.44 869.52,634.94 869.67,636.52 869.82,630.92 869.96,637.82 870.11,632.81 870.26,638.79 870.41,633.38 870.56,635.56 870.7,642.53 870.85,635.28 871,638.27 871.15,636.52 871.3,630.94 871.44,638.41 871.59,638.25 871.74,631.21 871.89,634.94 872.04,630.93 872.18,634.36 872.33,637.75 872.48,635.45 872.63,631.81 872.78,632.62 872.92,635.26 873.07,635.13 873.22,635.58 873.37,636.89 873.52,629.83 873.66,635.25 873.81,638.45 873.96,636.61 874.11,633.22 874.26,633.46 874.4,635.65 874.55,629.83 874.7,635.2 874.85,639.98 875,638.93 875.14,633.02 875.29,636.61 875.44,634.21 875.59,631.84 875.74,633.44 875.88,635.21 876.03,629.28 876.18,633.39 876.33,636.26 876.48,633.21 876.62,634.12 876.77,637.67 876.92,635.06 877.07,635.73 877.22,640.8 877.36,635.75 877.51,636.06 877.66,632.65 877.81,643.44 877.96,636.26 878.1,635.38 878.25,634.98 878.4,637.69 878.55,633.49 878.7,638.69 878.84,635.9 878.99,631.59 879.14,637.21 879.29,636.7 879.44,632.25 879.58,636.35 879.73,636.1 879.88,634.64 880.03,632.31 880.18,641.46 880.32,637.6 880.47,638.1 880.62,638.32 880.77,637.67 880.92,637.62 881.06,634.42 881.21,632.75 881.36,634.92 881.51,634.14 881.66,637.31 881.8,635.42 881.95,630.67 882.1,634.36 882.25,637.05 882.4,635.45 882.54,637.83 882.69,634.51 882.84,632.85 882.99,637.56 883.14,635.85 883.28,632.15 883.43,636.66 883.58,634.74 883.73,638.13 883.88,637.56 884.02,636.7 884.17,629.31 884.32,636.39 884.47,636.72 884.62,636.81 884.76,635.72 884.91,633.47 885.06,634.75 885.21,629.63 885.36,634.68 885.5,631.3 885.65,634.51 885.8,633.61 885.95,639.22 886.1,635.61 886.24,635.45 886.39,635.93 886.54,641.16 886.69,632.86 886.84,636.33 886.98,636.47 887.13,635.96 887.28,635.89 887.43,634.15 887.58,638.74 887.72,637.81 887.87,634.47 888.02,634.87 888.17,636.3 888.32,636.84 888.46,637.55 888.61,639.97 888.76,632.03 888.91,638.16 889.06,631.1 889.2,632.96 889.35,636.51 889.5,633.12 889.65,639.28 889.8,640.01 889.94,638.8 890.09,635.68 890.24,636.16 890.39,628.41 890.54,634.99 890.68,641.11 890.83,633.91 890.98,639.15 891.13,637.07 891.28,642.14 891.42,638.43 891.57,639.02 891.72,638.02 891.87,635.3 892.02,633.65 892.16,633.72 892.31,637.99 892.46,637.43 892.61,637.79 892.76,634.03 892.9,640.84 893.05,631.88 893.2,636.59 893.35,637.41 893.5,634.34 893.64,632.44 893.79,634.33 893.94,632.38 894.09,634.9 894.24,631.9 894.38,631.86 894.53,635.54 894.68,631.33 894.83,634.82 894.98,635.03 895.12,637.79 895.27,633.57 895.42,633.14 895.57,638.86 895.72,633.49 895.86,634.31 896.01,634.51 896.16,641.31 896.31,635.55 896.46,633.49 896.6,637.35 896.75,635.02 896.9,641.77 897.05,633.43 897.2,637.08 897.34,632.88 897.49,640.31 897.64,633.37 897.79,635.91 897.94,633.06 898.08,637.8 898.23,636.96 898.38,629.13 898.53,637.54 898.68,637.2 898.82,636.02 898.97,638.06 899.12,632.01 899.27,630.54 899.42,637.19 899.56,639.99 899.71,632.06 899.86,632.23 900.01,633.02 900.16,632.1 900.3,637.64 900.45,635.73 900.6,639.05 900.75,638.85 900.9,632.58 901.04,637.11 901.19,629.03 901.34,635.06 901.49,637.02 901.64,633.08 901.78,630.34 901.93,633.94 902.08,638.6 902.23,634.25 902.38,631.5 902.52,636.62 902.67,637.38 902.82,632.48 902.97,634.88 903.12,638.28 903.26,636.31 903.41,637.33 903.56,634.46 903.71,634.97 903.86,632.12 904,633.32 904.15,639.55 904.3,634.15 904.45,632.81 904.6,634.02 904.74,632.45 904.89,636.77 905.04,637.87 905.19,632.72 905.34,638.18 905.48,641.18 905.63,632.46 905.78,637.25 905.93,636.1 906.08,639.09 906.22,638.89 906.37,638.43 906.52,636.25 906.67,634.25 906.82,641.56 906.96,633.21 907.11,638.5 907.26,638.18 907.41,633.41 907.56,635.47 907.71,639.47 907.85,630.22 908,637.62 908.15,634.59 908.3,634.72 908.45,631.4 908.59,636.51 908.74,632.72 908.89,637.3 909.04,632.19 909.19,637.35 909.33,636.26 909.48,630.08 909.63,634.4 909.78,634.97 909.93,629.13 910.07,634.28 910.22,637.5 910.37,633.26 910.52,638.5 910.67,632.18 910.81,633.27 910.96,636.83 911.11,636.98 911.26,634.78 911.41,635.23 911.55,638.96 911.7,633.71 911.85,640.85 912,636.45 912.15,636.37 912.29,631.57 912.44,634.43 912.59,638.63 912.74,633.66 912.89,635.76 913.03,637.05 913.18,639.01 913.33,638.5 913.48,634.28 913.63,637.9 913.77,635.09 913.92,632.36 914.07,632.44 914.22,631 914.37,636.08 914.51,638.24 914.66,632.47 914.81,634.42 914.96,632.19 915.11,635.24 915.25,631.99 915.4,632.95 915.55,633.31 915.7,633.89 915.85,634.18 915.99,634.63 916.14,634.65 916.29,632.56 916.44,636.67 916.59,630.52 916.73,635.56 916.88,632.57 917.03,635.51 917.18,641.32 917.33,655.87 917.47,680.39 917.62,701.15 917.77,717.72 917.92,731.78 918.07,719.88 918.21,724.17 918.36,723.5 918.51,729.94 918.66,725.32 918.81,721.27 918.95,714.07 919.1,717.78 919.25,713.32 919.4,715.37 919.55,721.08 919.69,719.71 919.84,720.11 919.99,724.01 920.14,713.85 920.29,712.65 920.43,715.41 920.58,719.12 920.73,712.91 920.88,717.04 921.03,714.66 921.17,712.4 921.32,716.43 921.47,712.17 921.62,715.37 921.77,715.83 921.91,716.84 922.06,716.98 922.21,713.57 922.36,715.47 922.51,715.5 922.65,715.59 922.8,714.25 922.95,718.29 923.1,717.77 923.25,716.66 923.39,717.74 923.54,715.98 923.69,716.91 923.84,709.7 923.99,711.84 924.13,714.68 924.28,720.11 924.43,710.23 924.58,715.08 924.73,715.85 924.87,714.56 925.02,714.58 925.17,711.79 925.32,715.97 925.47,710.33 925.61,718.45 925.76,713.94 925.91,718.36 926.06,710.54 926.21,716.47 926.35,715.89 926.5,713.37 926.65,712.54 926.8,718.96 926.95,716.72 927.09,719.46 927.24,715.23 927.39,715.94 927.54,716.73 927.69,717.75 927.83,716.95 927.98,717.89 928.13,714.3 928.28,711.53 928.43,720.95 928.57,716.03 928.72,716.93 928.87,707.95 929.02,723.4 929.17,716.2 929.31,718.59 929.46,713.79 929.61,715.43 929.76,716.19 929.91,714.78 930.05,716.49 930.2,720.07 930.35,714.15 930.5,714.95 930.65,716.14 930.79,713.03 930.94,712.42 931.09,718.78 931.24,717.94 931.39,711.56 931.53,711.88 931.68,717.77 931.83,718.97 931.98,717.49 932.13,717.13 932.27,720.12 932.42,715.7 932.57,719.28 932.72,719.08 932.87,713.24 933.01,717.62 933.16,715.95 933.31,714.05 933.46,713.55 933.61,716.7 933.75,715.65 933.9,718.02 934.05,710.97 934.2,713.98 934.35,718.78 934.49,715.76 934.64,713.82 934.79,714.46 934.94,710.76 935.09,712.01 935.23,717.23 935.38,716 935.53,719.27 935.68,715.09 935.83,715.36 935.97,708.37 936.12,715.5 936.27,718.55 936.42,717.6 936.57,715.46 936.71,719.2 936.86,718.14 937.01,716.77 937.16,714.83 937.31,716.22 937.45,718.2 937.6,713.61 937.75,717.24 937.9,717.13 938.05,719.54 938.19,717.92 938.34,713.98 938.49,720.19 938.64,715.96 938.79,713.8 938.93,716.8 939.08,715.11 939.23,718.82 939.38,712.18 939.53,712.75 939.67,715.12 939.82,720.57 939.97,718.63 940.12,713.09 940.27,711.08 940.41,714.96 940.56,712.35 940.71,717.43 940.86,716.28 941.01,715.76 941.15,714.61 941.3,719.95 941.45,713.19 941.6,712.15 941.75,718.91 941.89,719.48 942.04,714.81 942.19,717.56 942.34,722.25 942.49,713.55 942.63,715.34 942.78,717.07 942.93,709.98 943.08,715.39 943.23,717.83 943.37,715.49 943.52,718.61 943.67,716.84 943.82,714.71 943.97,717.28 944.11,717 944.26,711.2 944.41,713.41 944.56,713.57 944.71,714.32 944.85,714.44 945,711.78 945.15,715.82 945.3,710.69 945.45,718.37 945.59,716.46 945.74,714.44 945.89,716.71 946.04,714.35 946.19,711.79 946.33,717.58 946.48,715.75 946.63,716.75 946.78,717.79 946.93,719.02 947.07,715.6 947.22,720.51 947.37,715.46 947.52,715.71 947.67,717.57 947.81,716.82 947.96,719.55 948.11,710.64 948.26,719.44 948.41,711.5 948.55,714.12 948.7,712.23 948.85,718.93 949,712.91 949.15,711.03 949.29,718.32 949.44,716.58 949.59,712.7 949.74,714.85 949.89,710.29 950.03,717.33 950.18,714.28 950.33,719.19 950.48,710.03 950.63,717.76 950.77,721.81 950.92,716.11 951.07,716.15 951.22,710.52 951.37,716.69 951.51,715.8 951.66,714.14 951.81,711.42 951.96,715.94 952.11,712.92 952.25,714.35 952.4,712.38 952.55,715.55 952.7,715.69 952.85,718.27 952.99,710.77 953.14,719.56 953.29,712.56 953.44,704.22 953.59,716.02 953.73,717.86 953.88,716.39 954.03,714.47 954.18,716.25 954.33,714.98 954.47,713.05 954.62,717.29 954.77,715.12 954.92,720.06 955.07,713.68 955.21,715.35 955.36,716.9 955.51,712.59 955.66,713.87 955.81,723.47 955.95,715.66 956.1,714.66 956.25,712.85 956.4,708.95 956.55,717.19 956.69,715.56 956.84,716.45 956.99,714.81 957.14,714 957.29,712.24 957.43,716.31 957.58,711.46 957.73,718.32 957.88,715.01 958.03,712.59 958.17,713.81 958.32,718.33 958.47,717.69 958.62,717.03 958.77,715.91 958.91,712.63 959.06,719.3 959.21,714.49 959.36,714.1 959.51,714.24 959.65,714.49 959.8,711.61 959.95,714.43 960.1,713.42 960.25,714.22 960.39,710.86 960.54,720.97 960.69,712.26 960.84,715.48 960.99,716.53 961.13,718.42 961.28,720.88 961.43,716.81 961.58,717.65 961.73,714.41 961.87,719.8 962.02,711.85 962.17,715.02 962.32,716.44 962.47,717.71 962.61,717.92 962.76,720.85 962.91,717.26 963.06,715.75 963.21,716.25 963.35,719.64 963.5,716.49 963.65,716.12 963.8,715.33 963.95,710.66 964.09,714.06 964.24,722.26 964.39,725.43 964.54,719.64 964.69,720.38 964.83,713.78 964.98,717.86 965.13,715.59 965.28,717.47 965.43,715.52 965.57,711.93 965.72,717.64 965.87,716.7 966.02,717.97 966.17,713.37 966.31,718.57 966.46,718.87 966.61,719.56 966.76,719.62 966.91,714.48 967.06,708.73 967.2,718.49 967.35,713.16 967.5,715.08 967.65,718.78 967.8,716.52 967.94,716.4 968.09,717.66 968.24,710.48 968.39,720.98 968.54,714.72 968.68,714.86 968.83,717.35 968.98,715.36 969.13,713.36 969.28,715.35 969.42,714.62 969.57,713.87 969.72,721.33 969.87,711.72 970.02,709.53 970.16,709.92 970.31,712.99 970.46,719.62 970.61,716.09 970.76,717.99 970.9,717.37 971.05,713.12 971.2,717.97 971.35,716.12 971.5,720.99 971.64,716.2 971.79,715.52 971.94,717.7 972.09,717.74 972.24,710.6 972.38,719.08 972.53,718.64 972.68,717.98 972.83,712.48 972.98,710.01 973.12,714.86 973.27,717.73 973.42,716.94 973.57,712.85 973.72,718.26 973.86,711.79 974.01,711.89 974.16,715.57 974.31,714 974.46,713.71 974.6,711.51 974.75,718.64 974.9,712.53 975.05,716.79 975.2,717.87 975.34,715.48 975.49,716.35 975.64,718.47 975.79,720.14 975.94,718.34 976.08,711.79 976.23,710.39 976.38,713.99 976.53,712.52 976.68,717.18 976.82,715.98 976.97,714.99 977.12,718.73 977.27,718.48 977.42,715.5 977.56,716.64 977.71,718.68 977.86,714.71 978.01,716.49 978.16,712.97 978.3,715.78 978.45,716.59 978.6,715.42 978.75,716.24 978.9,717.59 979.04,716.87 979.19,713.71 979.34,714 979.49,712.25 979.64,720.4 979.78,716.84 979.93,716.9 980.08,715.3 980.23,717 980.38,717.17 980.52,713.62 980.67,715.28 980.82,718.96 980.97,712.11 981.12,713.04 981.26,717.34 981.41,713.49 981.56,717.78 981.71,712.68 981.86,722.33 982,717.96 982.15,716.79 982.3,717.86 982.45,715.24 982.6,715.29 982.74,715.67 982.89,717.29 983.04,725.79 983.19,715.51 983.34,720.96 983.48,715.1 983.63,706.59 983.78,715.02 983.93,716.83 984.08,716.26 984.22,716.13 984.37,717.27 984.52,717.36 984.67,718.29 984.82,712.51 984.96,715.81 985.11,713.15 985.26,716.45 985.41,715.57 985.56,716.23 985.7,714.5 985.85,713.5 986,715.11 986.15,717.61 986.3,717.9 986.44,711.22 986.59,716.53 986.74,716.56 986.89,712.57 987.04,712.79 987.18,714.3 987.33,716.86 987.48,709.33 987.63,714.69 987.78,714.27 987.92,716.23 988.07,719.64 988.22,719.42 988.37,714.65 988.52,714.69 988.66,716.42 988.81,718.97 988.96,719.71 989.11,716.66 989.26,719.75 989.4,713.31 989.55,712.61 989.7,708.02 989.85,713.36 990,716.09 990.14,718.15 990.29,725.21 990.44,717.39 990.59,716.25 990.74,713.12 990.88,714.09 991.03,714.16 991.18,715.18 991.33,713.96 991.48,711.8 991.62,718.68 991.77,717.02 991.92,719.57 992.07,711.34 992.22,712.22 992.36,713.71 992.51,719.05 992.66,715.29 992.81,716.41 992.96,715.54 993.1,716.28 993.25,714.34 993.4,716.85 993.55,713.43 993.7,715.11 993.84,716.57 993.99,716.07 994.14,716.97 994.29,713.54 994.44,716.51 994.58,714.96 994.73,716.84 994.88,719.83 995.03,713.29 995.18,718.06 995.32,713.91 995.47,714.62 995.62,720.3 995.77,718.35 995.92,717.17 996.06,718.01 996.21,719 996.36,713.74 996.51,716.42 996.66,714.71 996.8,716.94 996.95,714.93 997.1,717.82 997.25,715.84 997.4,714.17 997.54,715.64 997.69,717.02 997.84,718.74 997.99,713.32 998.14,714.82 998.28,716.47 998.43,717.87 998.58,714.28 998.73,708.97 998.88,716.59 999.02,714.84 999.17,715.56 999.32,722.79 999.47,715.43 999.62,717.7 999.76,713.16 999.91,716.46 1000.06,717.89 1000.21,716.36 1000.36,715.31 1000.5,717.3 1000.65,715.91 1000.8,719.47 1000.95,716.38 1001.1,713.64 1001.24,710.38 1001.39,713.83 1001.54,715.02 1001.69,712.53 1001.84,712.98 1001.98,711.21 1002.13,712.8 1002.28,716.09 1002.43,715.06 1002.58,715.48 1002.72,714.94 1002.87,710.69 1003.02,717.91 1003.17,721.52 1003.32,717.6 1003.46,721.31 1003.61,715.58 1003.76,715.75 1003.91,720.35 1004.06,713.88 1004.2,713.39 1004.35,715.5 1004.5,711.2 1004.65,710.64 1004.8,719.07 1004.94,712.93 1005.09,714.56 1005.24,714.62 1005.39,713.21 1005.54,717.73 1005.68,717.39 1005.83,718.03 1005.98,717.83 1006.13,716.04 1006.28,719.74 1006.42,713.76 1006.57,714.19 1006.72,715.96 1006.87,709.29 1007.02,720.94 1007.16,717.91 1007.31,715.51 1007.46,715.68 1007.61,717.87 1007.76,713.21 1007.9,715.93 1008.05,715.72 1008.2,715.73 1008.35,713.83 1008.5,717.06 1008.64,719.15 1008.79,714.51 1008.94,715.34 1009.09,715.65 1009.24,714.34 1009.38,712.99 1009.53,713.18 1009.68,714.74 1009.83,713.37 1009.98,715.44 1010.12,712.34 1010.27,715.84 1010.42,721.45 1010.57,712.1 1010.72,715.47 1010.86,718.97 1011.01,716.31 1011.16,718.19 1011.31,710.02 1011.46,714.4 1011.6,720.06 1011.75,714.27 1011.9,716.86 1012.05,710.52 1012.2,718.65 1012.34,721.92 1012.49,715.59 1012.64,716.72 1012.79,716.91 1012.94,721.63 1013.08,714.6 1013.23,711.19 1013.38,720.99 1013.53,712.56 1013.68,717.32 1013.82,709.34 1013.97,714.57 1014.12,716.28 1014.27,712.74 1014.42,714.33 1014.56,717.39 1014.71,713.82 1014.86,717.16 1015.01,720.66 1015.16,710.21 1015.3,716.72 1015.45,717.43 1015.6,714.84 1015.75,720.03 1015.9,719.47 1016.04,717.13 1016.19,717.19 1016.34,715.57 1016.49,712.69 1016.64,714.17 1016.78,714.42 1016.93,714.12 1017.08,718.73 1017.23,715.14 1017.38,718.35 1017.52,712.85 1017.67,714.52 1017.82,715.72 1017.97,719.43 1018.12,715.45 1018.26,717.87 1018.41,713.83 1018.56,716.09 1018.71,717.99 1018.86,713.23 1019,713.79 1019.15,717.39 1019.3,712.59 1019.45,712.89 1019.6,716.61 1019.74,715.43 1019.89,717.83 1020.04,716.97 1020.19,716.21 1020.34,711.58 1020.48,711.66 1020.63,716.47 1020.78,711.36 1020.93,715.88 1021.08,714.72 1021.22,713.35 1021.37,714.97 1021.52,709.16 1021.67,715.1 1021.82,719.04 1021.96,712.19 1022.11,716.89 1022.26,716.6 1022.41,723.95 1022.56,713.03 1022.7,713.53 1022.85,714.9 1023,713.09 1023.15,711.14 1023.3,715.89 1023.44,713.2 1023.59,717.8 1023.74,716.73 1023.89,712.87 1024.04,714.7 1024.18,719.42 1024.33,714.78 1024.48,716.27 1024.63,718.01 1024.78,728.66 1024.92,749.07 1025.07,770.38 1025.22,787.23 1025.37,808.69 1025.52,813.36 1025.66,799.42 1025.81,803.86 1025.96,805.33 1026.11,811.03 1026.26,806.82 1026.41,801.86 1026.55,795.39 1026.7,797.57 1026.85,798.88 1027,794.63 1027.15,791.8 1027.29,799.25 1027.44,801.1 1027.59,796.29 1027.74,795.1 1027.89,792.2 1028.03,798.45 1028.18,796.16 1028.33,798.28 1028.48,801.32 1028.63,797.02 1028.77,796.22 1028.92,796.33 1029.07,793.82 1029.22,799.37 1029.37,796.66 1029.51,796.13 1029.66,796.66 1029.81,793.93 1029.96,797.78 1030.11,799.56 1030.25,794.74 1030.4,794.64 1030.55,790.75 1030.7,795.3 1030.85,799.35 1030.99,794.31 1031.14,798.3 1031.29,799.74 1031.44,788.61 1031.59,795.23 1031.73,794.58 1031.88,795.21 1032.03,791.7 1032.18,795.56 1032.33,792.68 1032.47,798.68 1032.62,799.79 1032.77,792.34 1032.92,792.46 1033.07,795.19 1033.21,795.86 1033.36,795.8 1033.51,797.95 1033.66,791.8 1033.81,794.31 1033.95,794.91 1034.1,795.41 1034.25,793.6 1034.4,794.99 1034.55,794.19 1034.69,799.32 1034.84,794.71 1034.99,796.88 1035.14,797.73 1035.29,796.74 1035.43,793.95 1035.58,793.69 1035.73,794.51 1035.88,800.59 1036.03,794.8 1036.17,799.48 1036.32,800.16 1036.47,794.85 1036.62,797.15 1036.77,794.06 1036.91,787.61 1037.06,794.07 1037.21,794.24 1037.36,798.71 1037.51,798.06 1037.65,799.23 1037.8,797.76 1037.95,799.25 1038.1,798.04 1038.25,796.79 1038.39,798.98 1038.54,801.5 1038.69,800.02 1038.84,792.62 1038.99,796.12 1039.13,793.45 1039.28,793.38 1039.43,797.17 1039.58,794.42 1039.73,800.22 1039.87,790.04 1040.02,793.02 1040.17,800.03 1040.32,799.44 1040.47,795.21 1040.61,801.37 1040.76,798.39 1040.91,794.22 1041.06,796.07 1041.21,799.08 1041.35,793.67 1041.5,799.1 1041.65,795.47 1041.8,797.62 1041.95,798.58 1042.09,795 1042.24,798.99 1042.39,791.07 1042.54,797.87 1042.69,790.81 1042.83,799.25 1042.98,794.6 1043.13,799.55 1043.28,803.51 1043.43,795.84 1043.57,794.41 1043.72,799.75 1043.87,793.02 1044.02,798.44 1044.17,795.75 1044.31,795.23 1044.46,794.64 1044.61,801.19 1044.76,791.84 1044.91,794.73 1045.05,797.43 1045.2,799.07 1045.35,800.9 1045.5,799.99 1045.65,794.78 1045.79,797.2 1045.94,799.36 1046.09,797.71 1046.24,791.98 1046.39,797.17 1046.53,797.87 1046.68,792.57 1046.83,795 1046.98,796.15 1047.13,797.93 1047.27,800.51 1047.42,799.47 1047.57,797.58 1047.72,796.87 1047.87,795.29 1048.01,794.17 1048.16,795.66 1048.31,795.66 1048.46,799.02 1048.61,802.16 1048.75,797.69 1048.9,798.88 1049.05,798.05 1049.2,797.02 1049.35,799.67 1049.49,799.31 1049.64,796.54 1049.79,795.95 1049.94,798.06 1050.09,794.9 1050.23,796.87 1050.38,799.06 1050.53,796.15 1050.68,791.11 1050.83,798.11 1050.97,793.07 1051.12,792.49 1051.27,792.17 1051.42,798.52 1051.57,790.75 1051.71,795.95 1051.86,796.96 1052.01,796.9 1052.16,794.62 1052.31,796.13 1052.45,796.75 1052.6,792.75 1052.75,798.24 1052.9,799.12 1053.05,794.1 1053.19,794.34 1053.34,793.27 1053.49,799.2 1053.64,793.31 1053.79,794.95 1053.93,787.21 1054.08,799.68 1054.23,795.67 1054.38,793.51 1054.53,800.62 1054.67,798.22 1054.82,793.18 1054.97,797.55 1055.12,798.24 1055.27,793.89 1055.41,793.56 1055.56,793.57 1055.71,798.43 1055.86,796.42 1056.01,793.45 1056.15,798.06 1056.3,798.32 1056.45,794 1056.6,791.99 1056.75,799.42 1056.89,802.4 1057.04,800.24 1057.19,799.04 1057.34,796.64 1057.49,794.58 1057.63,796.67 1057.78,798.18 1057.93,795.85 1058.08,798.9 1058.23,796.39 1058.37,798.02 1058.52,788.93 1058.67,794.03 1058.82,798.55 1058.97,797.71 1059.11,797.47 1059.26,800.77 1059.41,798.27 1059.56,798.29 1059.71,793.85 1059.85,797.43 1060,798.43 1060.15,799.93 1060.3,799.49 1060.45,796.45 1060.59,796.85 1060.74,793.16 1060.89,797.99 1061.04,793.37 1061.19,795.56 1061.33,796.28 1061.48,801.76 1061.63,799.8 1061.78,794.24 1061.93,792.44 1062.07,795.7 1062.22,794.18 1062.37,797.38 1062.52,797.28 1062.67,798.08 1062.81,793.6 1062.96,795.33 1063.11,796.91 1063.26,797.16 1063.41,794.74 1063.55,795.38 1063.7,798.54 1063.85,791.57 1064,795.56 1064.15,796.24 1064.29,792.22 1064.44,793.46 1064.59,796.51 1064.74,794.8 1064.89,799.19 1065.03,797.27 1065.18,802.45 1065.33,792.93 1065.48,801.46 1065.63,793.64 1065.77,792 1065.92,798.95 1066.07,806.5 1066.22,795.54 1066.37,794.59 1066.51,791.81 1066.66,795.28 1066.81,793.85 1066.96,797.9 1067.11,794.31 1067.25,795.85 1067.4,797.53 1067.55,796.53 1067.7,796.44 1067.85,795.74 1067.99,795.17 1068.14,797.66 1068.29,798.29 1068.44,794.22 1068.59,800.91 1068.73,797.96 1068.88,792.02 1069.03,803.68 1069.18,798.16 1069.33,794.38 1069.47,800.78 1069.62,789.15 1069.77,803.35 1069.92,792.33 1070.07,790.43 1070.21,793.76 1070.36,796.87 1070.51,795.29 1070.66,798.72 1070.81,794.05 1070.95,799.33 1071.1,792.16 1071.25,793.54 1071.4,799.32 1071.55,797.26 1071.69,795.82 1071.84,799.94 1071.99,793.08 1072.14,795.33 1072.29,800.41 1072.43,796.39 1072.58,798.39 1072.73,798.07 1072.88,796.06 1073.03,798.21 1073.17,793.63 1073.32,798.19 1073.47,797.67 1073.62,794.68 1073.77,793.92 1073.91,797.75 1074.06,797.65 1074.21,799.42 1074.36,794.68 1074.51,793.7 1074.65,790.47 1074.8,792.73 1074.95,795.58 1075.1,796.84 1075.25,795.2 1075.39,796.34 1075.54,792.26 1075.69,793.68 1075.84,798.56 1075.99,798.15 1076.13,792.52 1076.28,795.42 1076.43,796.9 1076.58,793.02 1076.73,797.33 1076.87,797.03 1077.02,797.53 1077.17,801.64 1077.32,793.9 1077.47,799.58 1077.61,797.82 1077.76,798.3 1077.91,794.28 1078.06,796.45 1078.21,796.22 1078.35,800.86 1078.5,796.51 1078.65,800.31 1078.8,795.43 1078.95,795.26 1079.09,796.31 1079.24,790.67 1079.39,794.82 1079.54,794.64 1079.69,795.88 1079.83,796.79 1079.98,793.62 1080.13,793.25 1080.28,799.83 1080.43,793.38 1080.57,794.86 1080.72,793.64 1080.87,794.99 1081.02,799.67 1081.17,799.48 1081.31,791.27 1081.46,795.58 1081.61,800.15 1081.76,795.31 1081.91,797.26 1082.05,801.31 1082.2,802.53 1082.35,800.65 1082.5,795.52" fill="none" stroke="#d9531e" stroke-width="1.45" stroke-linejoin="round"/>
<polyline points="641,795.3 699.87,795.3 699.87,714.8 808.08,714.8 808.08,634.3 917.11,634.3 917.11,714.8 1024.66,714.8 1024.66,795.3 1082.55,795.3" fill="none" stroke="#0a72bd" stroke-width="1.5" opacity="0.7"/>
<text transform="translate(806.6,1013.8) scale(1,1.15)" font-family="'Liberation Serif', 'Times New Roman', serif" font-size="29.7" text-anchor="start" fill="#111" ><tspan font-style="italic">t</tspan> (s)</text>
<text font-family="'Liberation Serif', 'Times New Roman', serif" font-size="36" font-style="italic" fill="#111" transform="translate(594.4,797.5) rotate(-90) scale(1.3,1)">P</text>
<text font-family="'Liberation Serif', 'Times New Roman', serif" font-size="17.5" font-style="italic" fill="#111" transform="translate(605.6,771.5) rotate(-90) scale(1.1,1)">C</text>
<text font-family="'Liberation Serif', 'Times New Roman', serif" font-size="36" fill="#111" transform="translate(594.4,747.8) rotate(-90) scale(1.1,1)">(psig)</text>
<text transform="translate(559.2,575) scale(1,1.16)" font-family="'Liberation Serif', 'Times New Roman', serif" font-size="30.6" text-anchor="start" fill="#111" >E)</text>
<line x1="673.2" y1="683.3" x2="673.2" y2="704.8" stroke="#111" stroke-width="2" />
<line x1="673.2" y1="728.3" x2="673.2" y2="749.8" stroke="#111" stroke-width="2" />
<line x1="673.2" y1="774.3" x2="673.2" y2="795.8" stroke="#111" stroke-width="2" />
<line x1="755.4" y1="687.2" x2="755.4" y2="708.7" stroke="#111" stroke-width="2" />
<line x1="755.4" y1="732" x2="755.4" y2="754.7" stroke="#111" stroke-width="2" />
<line x1="755.4" y1="778" x2="755.4" y2="800.7" stroke="#111" stroke-width="2" />
<line x1="682.2" y1="669.2" x2="705.7" y2="669.2" stroke="#111" stroke-width="2" />
<line x1="728" y1="669.2" x2="751" y2="669.2" stroke="#111" stroke-width="2" />
<line x1="687.5" y1="804.6" x2="710.4" y2="804.6" stroke="#111" stroke-width="2" />
<line x1="733" y1="804.6" x2="755.4" y2="804.6" stroke="#111" stroke-width="2" />
<line x1="1093" y1="534.3" x2="1083.16" y2="538.23" stroke="#111" stroke-width="2" />
<line x1="1062.26" y1="546.58" x2="1041.09" y2="555.04" stroke="#111" stroke-width="2" />
<line x1="1020.2" y1="563.39" x2="999.02" y2="571.85" stroke="#111" stroke-width="2" />
<line x1="978.13" y1="580.2" x2="956.96" y2="588.66" stroke="#111" stroke-width="2" />
<line x1="936.07" y1="597.01" x2="914.89" y2="605.47" stroke="#111" stroke-width="2" />
<line x1="894" y1="613.82" x2="872.83" y2="622.28" stroke="#111" stroke-width="2" />
<line x1="851.93" y1="630.63" x2="830.76" y2="639.09" stroke="#111" stroke-width="2" />
<line x1="809.87" y1="647.44" x2="788.69" y2="655.9" stroke="#111" stroke-width="2" />
<line x1="767.8" y1="664.24" x2="755.4" y2="669.2" stroke="#111" stroke-width="2" />
<line x1="1093" y1="1006.7" x2="1084.85" y2="1001.82" stroke="#111" stroke-width="2" />
<line x1="1066.92" y1="991.09" x2="1047.44" y2="979.43" stroke="#111" stroke-width="2" />
<line x1="1029.51" y1="968.69" x2="1010.03" y2="957.03" stroke="#111" stroke-width="2" />
<line x1="992.1" y1="946.3" x2="972.62" y2="934.64" stroke="#111" stroke-width="2" />
<line x1="954.69" y1="923.9" x2="935.21" y2="912.24" stroke="#111" stroke-width="2" />
<line x1="917.28" y1="901.51" x2="897.8" y2="889.85" stroke="#111" stroke-width="2" />
<line x1="879.87" y1="879.11" x2="860.39" y2="867.45" stroke="#111" stroke-width="2" />
<line x1="842.46" y1="856.72" x2="822.98" y2="845.06" stroke="#111" stroke-width="2" />
<line x1="805.05" y1="834.32" x2="785.58" y2="822.66" stroke="#111" stroke-width="2" />
<line x1="767.64" y1="811.93" x2="755.4" y2="804.6" stroke="#111" stroke-width="2" />
<line x1="1093" y1="534.3" x2="1105" y2="534.3" stroke="#111" stroke-width="2" />
<line x1="1127" y1="534.3" x2="1149.5" y2="534.3" stroke="#111" stroke-width="2" />
<line x1="1171.5" y1="534.3" x2="1194" y2="534.3" stroke="#111" stroke-width="2" />
<line x1="1216" y1="534.3" x2="1238.5" y2="534.3" stroke="#111" stroke-width="2" />
<line x1="1260.5" y1="534.3" x2="1283" y2="534.3" stroke="#111" stroke-width="2" />
<line x1="1305" y1="534.3" x2="1327.5" y2="534.3" stroke="#111" stroke-width="2" />
<line x1="1349.5" y1="534.3" x2="1372" y2="534.3" stroke="#111" stroke-width="2" />
<line x1="1394" y1="534.3" x2="1416.5" y2="534.3" stroke="#111" stroke-width="2" />
<line x1="1438.5" y1="534.3" x2="1461" y2="534.3" stroke="#111" stroke-width="2" />
<line x1="1483" y1="534.3" x2="1505.5" y2="534.3" stroke="#111" stroke-width="2" />
<line x1="1527.5" y1="534.3" x2="1550" y2="534.3" stroke="#111" stroke-width="2" />
<line x1="1572" y1="534.3" x2="1594.5" y2="534.3" stroke="#111" stroke-width="2" />
<line x1="1616.5" y1="534.3" x2="1639" y2="534.3" stroke="#111" stroke-width="2" />
<line x1="1661" y1="534.3" x2="1683.5" y2="534.3" stroke="#111" stroke-width="2" />
<line x1="1705.5" y1="534.3" x2="1715.5" y2="534.3" stroke="#111" stroke-width="2" />
<line x1="1093" y1="1006.7" x2="1115.5" y2="1006.7" stroke="#111" stroke-width="2" />
<line x1="1138.3" y1="1006.7" x2="1160.8" y2="1006.7" stroke="#111" stroke-width="2" />
<line x1="1183.6" y1="1006.7" x2="1206.1" y2="1006.7" stroke="#111" stroke-width="2" />
<line x1="1228.9" y1="1006.7" x2="1251.4" y2="1006.7" stroke="#111" stroke-width="2" />
<line x1="1274.2" y1="1006.7" x2="1296.7" y2="1006.7" stroke="#111" stroke-width="2" />
<line x1="1319.5" y1="1006.7" x2="1342" y2="1006.7" stroke="#111" stroke-width="2" />
<line x1="1364.8" y1="1006.7" x2="1387.3" y2="1006.7" stroke="#111" stroke-width="2" />
<line x1="1410.1" y1="1006.7" x2="1432.6" y2="1006.7" stroke="#111" stroke-width="2" />
<line x1="1455.4" y1="1006.7" x2="1477.9" y2="1006.7" stroke="#111" stroke-width="2" />
<line x1="1500.7" y1="1006.7" x2="1523.2" y2="1006.7" stroke="#111" stroke-width="2" />
<line x1="1546" y1="1006.7" x2="1568.5" y2="1006.7" stroke="#111" stroke-width="2" />
<line x1="1591.3" y1="1006.7" x2="1613.8" y2="1006.7" stroke="#111" stroke-width="2" />
<line x1="1636.6" y1="1006.7" x2="1659.1" y2="1006.7" stroke="#111" stroke-width="2" />
<line x1="1681.9" y1="1006.7" x2="1704.4" y2="1006.7" stroke="#111" stroke-width="2" />
<line x1="1093" y1="534.3" x2="1093" y2="546.4" stroke="#111" stroke-width="2" />
<line x1="1093" y1="570" x2="1093" y2="593.4" stroke="#111" stroke-width="2" />
<line x1="1093" y1="617" x2="1093" y2="640.4" stroke="#111" stroke-width="2" />
<line x1="1093" y1="664" x2="1093" y2="687.4" stroke="#111" stroke-width="2" />
<line x1="1093" y1="711" x2="1093" y2="734.4" stroke="#111" stroke-width="2" />
<line x1="1093" y1="758" x2="1093" y2="781.4" stroke="#111" stroke-width="2" />
<line x1="1093" y1="805" x2="1093" y2="828.4" stroke="#111" stroke-width="2" />
<line x1="1093" y1="852" x2="1093" y2="875.4" stroke="#111" stroke-width="2" />
<line x1="1093" y1="899" x2="1093" y2="922.4" stroke="#111" stroke-width="2" />
<line x1="1093" y1="946" x2="1093" y2="969.4" stroke="#111" stroke-width="2" />
<line x1="1093" y1="993" x2="1093" y2="1006.7" stroke="#111" stroke-width="2" />
<line x1="1715.5" y1="534.3" x2="1715.5" y2="556.7" stroke="#111" stroke-width="2" />
<line x1="1715.5" y1="579.7" x2="1715.5" y2="602.1" stroke="#111" stroke-width="2" />
<line x1="1715.5" y1="625.1" x2="1715.5" y2="647.5" stroke="#111" stroke-width="2" />
<line x1="1715.5" y1="670.5" x2="1715.5" y2="692.9" stroke="#111" stroke-width="2" />
<line x1="1715.5" y1="715.9" x2="1715.5" y2="738.3" stroke="#111" stroke-width="2" />
<line x1="1715.5" y1="761.3" x2="1715.5" y2="783.7" stroke="#111" stroke-width="2" />
<line x1="1715.5" y1="806.7" x2="1715.5" y2="829.1" stroke="#111" stroke-width="2" />
<line x1="1715.5" y1="852.1" x2="1715.5" y2="874.5" stroke="#111" stroke-width="2" />
<line x1="1715.5" y1="897.5" x2="1715.5" y2="919.9" stroke="#111" stroke-width="2" />
<line x1="1715.5" y1="942.9" x2="1715.5" y2="965.3" stroke="#111" stroke-width="2" />
<line x1="1715.5" y1="988.3" x2="1715.5" y2="1006.7" stroke="#111" stroke-width="2" />
<path d="M1165.7,570.9 L1165.7,941.7 L1635.68,941.7" fill="none" stroke="#111" stroke-width="2" stroke-linejoin="miter" stroke-linecap="square"/>
<text transform="translate(1157.5,948.2) scale(1,1.16)" font-family="'Liberation Serif', 'Times New Roman', serif" font-size="19" text-anchor="end" fill="#111" >0</text>
<line x1="1165.7" y1="849" x2="1181.1" y2="849" stroke="#111" stroke-width="2" />
<text transform="translate(1157.5,855.5) scale(1,1.16)" font-family="'Liberation Serif', 'Times New Roman', serif" font-size="19" text-anchor="end" fill="#111" >0.5</text>
<line x1="1165.7" y1="756.3" x2="1181.1" y2="756.3" stroke="#111" stroke-width="2" />
<text transform="translate(1157.5,762.8) scale(1,1.16)" font-family="'Liberation Serif', 'Times New Roman', serif" font-size="19" text-anchor="end" fill="#111" >1</text>
<line x1="1165.7" y1="663.6" x2="1181.1" y2="663.6" stroke="#111" stroke-width="2" />
<text transform="translate(1157.5,670.1) scale(1,1.16)" font-family="'Liberation Serif', 'Times New Roman', serif" font-size="19" text-anchor="end" fill="#111" >1.5</text>
<line x1="1165.7" y1="570.9" x2="1181.1" y2="570.9" stroke="#111" stroke-width="2" />
<text transform="translate(1157.5,577.4) scale(1,1.16)" font-family="'Liberation Serif', 'Times New Roman', serif" font-size="19" text-anchor="end" fill="#111" >2</text>
<text transform="translate(1168.6,962.9) scale(1,1.16)" font-family="'Liberation Serif', 'Times New Roman', serif" font-size="19" text-anchor="middle" fill="#111" >0</text>
<line x1="1244.03" y1="941.7" x2="1244.03" y2="926.7" stroke="#111" stroke-width="2" />
<text transform="translate(1243.43,962.9) scale(1,1.16)" font-family="'Liberation Serif', 'Times New Roman', serif" font-size="19" text-anchor="middle" fill="#111" >1</text>
<line x1="1322.36" y1="941.7" x2="1322.36" y2="926.7" stroke="#111" stroke-width="2" />
<text transform="translate(1323.86,962.9) scale(1,1.16)" font-family="'Liberation Serif', 'Times New Roman', serif" font-size="19" text-anchor="middle" fill="#111" >2</text>
<line x1="1400.69" y1="941.7" x2="1400.69" y2="926.7" stroke="#111" stroke-width="2" />
<text transform="translate(1400.69,962.9) scale(1,1.16)" font-family="'Liberation Serif', 'Times New Roman', serif" font-size="19" text-anchor="middle" fill="#111" >3</text>
<line x1="1479.02" y1="941.7" x2="1479.02" y2="926.7" stroke="#111" stroke-width="2" />
<text transform="translate(1479.02,962.9) scale(1,1.16)" font-family="'Liberation Serif', 'Times New Roman', serif" font-size="19" text-anchor="middle" fill="#111" >4</text>
<line x1="1557.35" y1="941.7" x2="1557.35" y2="926.7" stroke="#111" stroke-width="2" />
<text transform="translate(1558.25,962.9) scale(1,1.16)" font-family="'Liberation Serif', 'Times New Roman', serif" font-size="19" text-anchor="middle" fill="#111" >5</text>
<line x1="1635.68" y1="941.7" x2="1635.68" y2="926.7" stroke="#111" stroke-width="2" />
<text transform="translate(1634.18,962.9) scale(1,1.16)" font-family="'Liberation Serif', 'Times New Roman', serif" font-size="19" text-anchor="middle" fill="#111" >6</text>
<polyline points="1166,756.2 1327.2,756.2 1331.7,663.5 1635.5,663.5" fill="none" stroke="#0a72bd" stroke-width="2.2" />
<polyline points="1165.9,756.2 1170.2,756.2 1174.9,762.8 1185,762.8 1195.2,756.2 1199.9,756.2 1204.6,759.3 1209.3,756.2 1214,759.3 1220.3,759.3 1224.2,756.2 1233.6,756.2 1243,762.8 1248.5,756.2 1253.2,759.3 1258.6,759.3 1263.3,756.2 1269.6,755.6 1272.7,752.8 1277.4,759.3 1288.4,759.3 1292.3,756.2 1302.5,756.2 1311.9,762.8 1317.3,759.3 1322,753.1 1326.7,756.2 1332.2,756.2 1336.9,755.6 1341.6,756.2 1346.3,753.4 1351,746.8 1355.7,739.8 1361.2,739 1365.1,726.5 1369.8,721.8 1375.3,715.5 1380.7,708.5 1385.4,698.3 1388.5,687 1391.3,680.5 1395.9,669.9 1399.7,654.8 1404.2,641.2 1407.2,637.4 1411,636.6 1414.8,636.6 1419.3,638.9 1423.8,640.4 1428.4,642.7 1432.2,646.5 1438.2,647.2 1443.5,653.3 1448.8,654 1454.1,660.8 1457.9,663.8 1463.1,660.5 1468.4,671.1 1473.7,667.6 1478.3,667.2 1482.8,664.6 1487.3,657.8 1492.6,653.6 1497.2,653.6 1502.5,656.7 1507,657 1513,660.8 1516.8,667.6 1522.1,668.1 1527.4,671.4 1531.2,666.1 1536.5,660.5 1541.8,660.5 1546.3,663.8 1551.6,660.5 1556.9,660.5 1561.4,663.8 1565.9,663.8 1571.2,658.5 1576.5,663.8 1581.1,660.5 1585.6,660.5 1590.1,663.8 1594.7,660.8 1599.2,663.8 1604.5,660.8 1609,663.8 1614.3,663.8 1619.6,657 1624.1,660.1 1629.4,660.5 1634.7,667.6" fill="none" stroke="#d9531e" stroke-width="1.8" stroke-linejoin="round"/>
<line x1="1410.3" y1="638.3" x2="1410.3" y2="662.1" stroke="#111" stroke-width="2" />
<line x1="1404.3" y1="638.3" x2="1416.3" y2="638.3" stroke="#111" stroke-width="2" />
<line x1="1404.3" y1="662.1" x2="1416.3" y2="662.1" stroke="#111" stroke-width="2" />
<line x1="1570.8" y1="656.7" x2="1570.8" y2="669.9" stroke="#111" stroke-width="2" />
<line x1="1565.05" y1="656.7" x2="1576.55" y2="656.7" stroke="#111" stroke-width="2" />
<line x1="1565.05" y1="669.9" x2="1576.55" y2="669.9" stroke="#111" stroke-width="2" />
<line x1="1327.2" y1="716.6" x2="1327.2" y2="750.2" stroke="#111" stroke-width="2" />
<line x1="1327.2" y1="721.9" x2="1464.4" y2="721.9" stroke="#111" stroke-width="2" />
<line x1="1327.2" y1="716.15" x2="1327.2" y2="727.65" stroke="#111" stroke-width="2" />
<line x1="1464.4" y1="716.15" x2="1464.4" y2="727.65" stroke="#111" stroke-width="2" />
<line x1="1327.2" y1="744.2" x2="1396.2" y2="744.2" stroke="#111" stroke-width="2" />
<line x1="1327.2" y1="738.45" x2="1327.2" y2="749.95" stroke="#111" stroke-width="2" />
<line x1="1396.2" y1="738.45" x2="1396.2" y2="749.95" stroke="#111" stroke-width="2" />
<line x1="1456.3" y1="594.2" x2="1421.09" y2="642.74" stroke="#111" stroke-width="2" />
<polygon points="1415.1,651 1419.42,633.13 1422.29,641.09 1430.75,641.35" fill="#111"/>
<line x1="1451.6" y1="804.5" x2="1563.48" y2="686.7" stroke="#111" stroke-width="2" />
<polygon points="1570.5,679.3 1563.87,696.45 1562.07,688.18 1553.72,686.81" fill="#111"/>
<line x1="1271.7" y1="809.5" x2="1326.13" y2="764.59" stroke="#111" stroke-width="2" />
<polygon points="1334,758.1 1325.34,774.32 1324.56,765.89 1316.43,763.52" fill="#111"/>
<line x1="1361" y1="887.6" x2="1441.66" y2="741.92" stroke="#111" stroke-width="2" />
<polygon points="1446.6,733 1444.49,751.26 1440.67,743.71 1432.24,744.48" fill="#111"/>
<text transform="translate(1457.5,579.1) scale(1,1.05)" font-family="'Liberation Serif', 'Times New Roman', serif" font-size="25.3" text-anchor="start" fill="#111" ><tspan font-style="italic">OS</tspan> = 26.8 ± 4.2 %</text>
<text transform="translate(1415,826.9) scale(1,1.06)" font-family="'Liberation Serif', 'Times New Roman', serif" font-size="24.5" text-anchor="start" fill="#111" >Accuracy = 0.016 ± 0.001 psi</text>
<text transform="translate(1195.6,838.1) scale(1,1.05)" font-family="'Liberation Serif', 'Times New Roman', serif" font-size="25" text-anchor="start" fill="#111" ><tspan font-style="italic">t</tspan></text>
<text x="1201.6" y="848" font-family="'Liberation Serif', 'Times New Roman', serif" font-size="15.5" text-anchor="start" fill="#111" font-style="italic" >R</text>
<text transform="translate(1217.5,838.1) scale(1,1.05)" font-family="'Liberation Serif', 'Times New Roman', serif" font-size="25.4" text-anchor="start" fill="#111" >= 0.74 ± 0.07 s</text>
<text transform="translate(1352,907.8) scale(1,1.05)" font-family="'Liberation Serif', 'Times New Roman', serif" font-size="25" text-anchor="start" fill="#111" ><tspan font-style="italic">t</tspan></text>
<text x="1358" y="917.8" font-family="'Liberation Serif', 'Times New Roman', serif" font-size="15.5" text-anchor="start" fill="#111" font-style="italic" >S</text>
<text transform="translate(1372,907.8) scale(1,1.05)" font-family="'Liberation Serif', 'Times New Roman', serif" font-size="25.4" text-anchor="start" fill="#111" >= 1.23 ± 0.16 s</text>
<text transform="translate(1101.2,563.8) scale(1,1.115)" font-family="'Liberation Serif', 'Times New Roman', serif" font-size="30.4" text-anchor="start" fill="#111" >F)</text>
<text transform="translate(1375.3,994.4) scale(1,1.1)" font-family="'Liberation Serif', 'Times New Roman', serif" font-size="31.5" text-anchor="start" fill="#111" ><tspan font-style="italic">t</tspan> (s)</text>
<text x="1130" y="756" font-family="'Liberation Serif', 'Times New Roman', serif" font-size="36" text-anchor="middle" fill="#111" transform="rotate(-90 1130 756)"><tspan font-style="italic">P</tspan> (psig)</text></svg>
</body></html>
